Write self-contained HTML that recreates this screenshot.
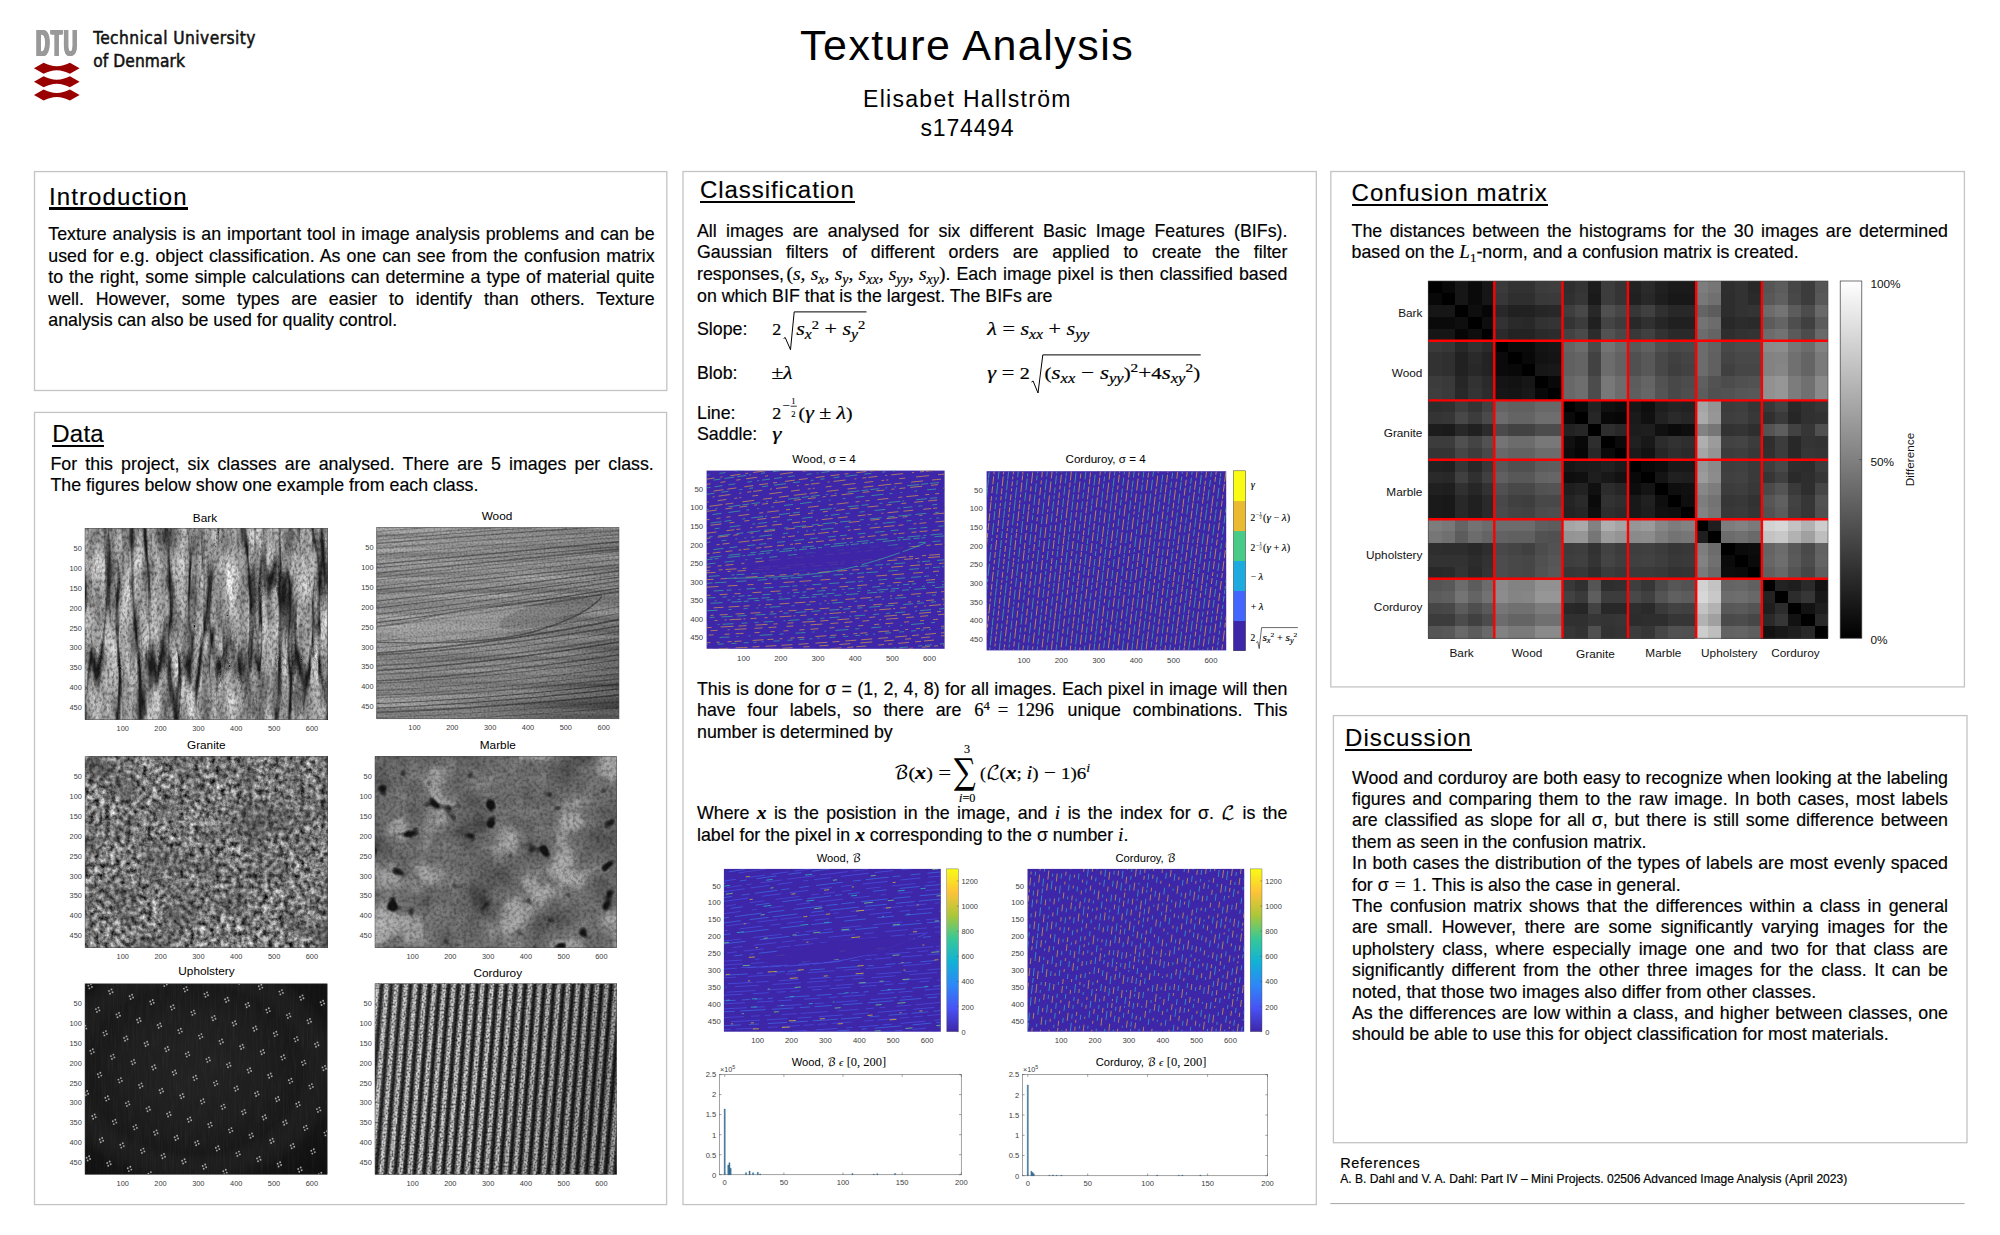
<!DOCTYPE html>
<html lang="en"><head><meta charset="utf-8"><title>Texture Analysis</title>
<style>
html,body{margin:0;padding:0;background:#fff;}
body{width:2000px;height:1235px;position:relative;overflow:hidden;font-family:"Liberation Sans",sans-serif;color:#000;}
.box{position:absolute;border:1px solid #c4c4c4;background:#fff;box-sizing:content-box;}
.t{position:absolute;white-space:nowrap;-webkit-text-stroke:0.18px #000;}
.j{text-align:justify;text-align-last:justify;white-space:normal;}
.l{text-align:left;}
.h{position:absolute;font-size:24px;line-height:28px;white-space:nowrap;-webkit-text-stroke:0.15px #000;}
.hs{display:inline-block;}
.ul{position:absolute;height:2.4px;background:#000;}
.m{font-family:"Liberation Serif",serif;font-style:italic;}
.mr{font-family:"Liberation Serif",serif;font-style:normal;}
.mb{display:inline-block;font-family:"Liberation Serif",serif;font-style:italic;font-size:19.5px;line-height:1px;text-align:justify;text-align-last:justify;white-space:normal;letter-spacing:0px;-webkit-text-stroke:0.2px #000;}
.sb{font-size:72%;position:relative;top:0.3em;line-height:0;}
.sp{font-size:72%;position:relative;top:-0.5em;line-height:0;font-style:normal;}
.mf{font-family:"Liberation Serif",serif;}
.scr{font-family:"DejaVu Math TeX Gyre","DejaVu Sans",serif;}
svg{position:absolute;overflow:visible;}
svg text{font-family:"Liberation Sans",sans-serif;}
.c{position:absolute;white-space:nowrap;transform:translateX(-50%);}
</style></head>
<body>
<svg style="left:0;top:0" width="2000" height="1235" viewBox="0 0 2000 1235"><g fill="#fff" stroke="#c4c4c4" stroke-width="1.3"><rect x="34.5" y="171.6" width="632.3" height="218.9"/><rect x="34.5" y="412.4" width="632.1" height="792.2"/><rect x="683.0" y="171.5" width="633.3" height="1033.1"/><rect x="1330.8" y="171.5" width="633.6" height="515.4"/><rect x="1333.4" y="715.6" width="633.6" height="427.1"/></g><path d="M1330.3 1203.6H1964.6" stroke="#9a9a9a" stroke-width="0.9"/></svg><div style="position:absolute;left:36px;top:22.6px;font-family:'Liberation Sans',sans-serif;font-weight:bold;font-size:36.6px;line-height:42px;color:#999;transform-origin:0 0;transform:scaleX(0.515);white-space:nowrap;text-shadow:1px 0 0 #999,-1px 0 0 #999,1.8px 0 0 #999,-1.8px 0 0 #999;letter-spacing:2.5px">DTU</div><svg style="left:0;top:0" width="120" height="110"><path d="M34 68.3 L43.6 62.8 C48.5 65.1 52 66.3 56.8 66.3 S65 65.1 69.9 62.8 L79.6 68.3 L69.9 73.8 C65 71.5 61.5 70.3 56.8 70.3 S48.5 71.5 43.6 73.8 Z" fill="#990000"/><path d="M34 81.7 L43.6 76.2 C48.5 78.5 52 79.7 56.8 79.7 S65 78.5 69.9 76.2 L79.6 81.7 L69.9 87.2 C65 84.9 61.5 83.7 56.8 83.7 S48.5 84.9 43.6 87.2 Z" fill="#990000"/><path d="M34 95.0 L43.6 89.5 C48.5 91.8 52 93.0 56.8 93.0 S65 91.8 69.9 89.5 L79.6 95.0 L69.9 100.5 C65 98.2 61.5 97.0 56.8 97.0 S48.5 98.2 43.6 100.5 Z" fill="#990000"/></svg><div style="position:absolute;left:93.2px;top:27.3px;font-family:'DejaVu Sans Condensed','DejaVu Sans','Liberation Sans',sans-serif;font-size:17.2px;line-height:22.2px;color:#111;letter-spacing:0.45px;white-space:nowrap;-webkit-text-stroke:0.5px #111">Technical University<br><span style="letter-spacing:0.1px">of Denmark</span></div><div class="c" style="left:967.1px;top:19.00px;font-size:43px;line-height:52px;letter-spacing:1.46px;">Texture Analysis</div><div class="c" style="left:967.4px;top:85.00px;font-size:23px;line-height:28px;letter-spacing:1.3px;">Elisabet Hallström</div><div class="c" style="left:967.5px;top:114.00px;font-size:23px;line-height:28px;letter-spacing:0.8px;">s174494</div><div class="h" style="left:48.9px;top:183.00px;letter-spacing:1.11px">Introduction</div><div class="ul" style="left:48.9px;top:207.2px;width:138.7px"></div><div class="t j " style="left:48.3px;top:224.00px;width:606.3px;font-size:17.8px;line-height:21.4px">Texture analysis is an important tool in image analysis problems and can be</div><div class="t j " style="left:48.3px;top:246.00px;width:606.3px;font-size:17.8px;line-height:21.4px">used for e.g. object classification. As one can see from the confusion matrix</div><div class="t j " style="left:48.3px;top:267.00px;width:606.3px;font-size:17.8px;line-height:21.4px">to the right, some simple calculations can determine a type of material quite</div><div class="t j " style="left:48.3px;top:289.00px;width:606.3px;font-size:17.8px;line-height:21.4px">well. However, some types are easier to identify than others. Texture</div><div class="t l " style="left:48.3px;top:310.00px;width:606.3px;font-size:17.8px;line-height:21.4px">analysis can also be used for quality control.</div><div class="h" style="left:52.3px;top:420.00px;letter-spacing:0.23px">Data</div><div class="ul" style="left:52.3px;top:444.8px;width:51.6px"></div><div class="t j " style="left:50.5px;top:454.00px;width:603.3px;font-size:17.8px;line-height:21.4px">For this project, six classes are analysed. There are 5 images per class.</div><div class="t l " style="left:50.5px;top:475.00px;width:603.3px;font-size:17.8px;line-height:21.4px">The figures below show one example from each class.</div><svg style="left:0;top:0" width="700" height="1235" viewBox="0 0 700 1235"><defs>
<filter id="fbark" x="0" y="0" width="100%" height="100%" color-interpolation-filters="sRGB">
  <feTurbulence type="fractalNoise" baseFrequency="0.075 0.018" numOctaves="5" seed="7" result="n"/>
  <feColorMatrix in="n" type="matrix" values="0.9 0 0 0 0.2  0.9 0 0 0 0.2  0.9 0 0 0 0.2  0 0 0 0 1"/>
</filter>
<filter id="fbark2" x="0" y="0" width="100%" height="100%" color-interpolation-filters="sRGB">
  <feTurbulence type="turbulence" baseFrequency="0.05 0.006" numOctaves="3" seed="23" result="n"/>
  <feColorMatrix in="n" type="matrix" values="0 0 0 0 0.12  0 0 0 0 0.12  0 0 0 0 0.12  -5 0 0 0 1.3"/>
</filter>
<filter id="fbark3" x="0" y="0" width="100%" height="100%" color-interpolation-filters="sRGB">
  <feTurbulence type="fractalNoise" baseFrequency="0.4 0.25" numOctaves="2" seed="11" result="n"/>
  <feColorMatrix in="n" type="matrix" values="0 0 0 0 0  0 0 0 0 0  0 0 0 0 0  1.0 0 0 0 -0.4"/>
</filter>
<filter id="fwood" x="0" y="0" width="100%" height="100%" color-interpolation-filters="sRGB">
  <feTurbulence type="fractalNoise" baseFrequency="0.004 0.16" numOctaves="3" seed="5" result="n"/>
  <feColorMatrix in="n" type="matrix" values="0.7 0 0 0 0.2  0.7 0 0 0 0.2  0.7 0 0 0 0.2  0 0 0 0 1"/>
</filter>
<filter id="fwood2" x="0" y="0" width="100%" height="100%" color-interpolation-filters="sRGB">
  <feTurbulence type="fractalNoise" baseFrequency="0.5" numOctaves="1" seed="15" result="n"/>
  <feColorMatrix in="n" type="matrix" values="0 0 0 0 0  0 0 0 0 0  0 0 0 0 0  0.6 0 0 0 -0.22"/>
</filter>
<filter id="fgran" x="0" y="0" width="100%" height="100%" color-interpolation-filters="sRGB">
  <feTurbulence type="fractalNoise" baseFrequency="0.19" numOctaves="4" seed="3" result="n"/>
  <feColorMatrix in="n" type="matrix" values="1.3 0 0 0 -0.17  1.3 0 0 0 -0.17  1.3 0 0 0 -0.17  0 0 0 0 1"/>
</filter>
<filter id="fgran2" x="0" y="0" width="100%" height="100%" color-interpolation-filters="sRGB">
  <feTurbulence type="fractalNoise" baseFrequency="0.025" numOctaves="2" seed="9" result="n"/>
  <feColorMatrix in="n" type="matrix" values="0 0 0 0 0.25  0 0 0 0 0.25  0 0 0 0 0.25  1.4 0 0 0 -0.55"/>
</filter>
<filter id="fmarb" x="0" y="0" width="100%" height="100%" color-interpolation-filters="sRGB">
  <feTurbulence type="fractalNoise" baseFrequency="0.022" numOctaves="4" seed="14" result="n"/>
  <feColorMatrix in="n" type="matrix" values="1 0 0 0 0  1 0 0 0 0  1 0 0 0 0  0 0 0 0 1" result="g"/>
  <feComponentTransfer in="g">
    <feFuncR type="table" tableValues="0.12 0.18 0.27 0.33 0.38 0.42 0.45 0.5 0.62 0.67 0.69 0.71 0.73"/>
    <feFuncG type="table" tableValues="0.12 0.18 0.27 0.33 0.38 0.42 0.45 0.5 0.62 0.67 0.69 0.71 0.73"/>
    <feFuncB type="table" tableValues="0.12 0.18 0.27 0.33 0.38 0.42 0.45 0.5 0.62 0.67 0.69 0.71 0.73"/>
  </feComponentTransfer>
</filter>
<filter id="fmarb2" x="0" y="0" width="100%" height="100%" color-interpolation-filters="sRGB">
  <feTurbulence type="fractalNoise" baseFrequency="0.05" numOctaves="2" seed="31" result="n"/>
  <feColorMatrix in="n" type="matrix" values="0 0 0 0 0.08  0 0 0 0 0.08  0 0 0 0 0.08  9 0 0 0 -6.0"/>
</filter>
<filter id="fmarb3" x="0" y="0" width="100%" height="100%" color-interpolation-filters="sRGB">
  <feTurbulence type="fractalNoise" baseFrequency="0.3" numOctaves="2" seed="8" result="n"/>
  <feColorMatrix in="n" type="matrix" values="0 0 0 0 0  0 0 0 0 0  0 0 0 0 0  0.7 0 0 0 -0.27"/>
</filter>
<filter id="fcord" x="0" y="0" width="100%" height="100%" color-interpolation-filters="sRGB">
  <feTurbulence type="fractalNoise" baseFrequency="0.5" numOctaves="2" seed="2" result="n"/>
  <feColorMatrix in="n" type="matrix" values="0 0 0 0 0  0 0 0 0 0  0 0 0 0 0  1.5 0 0 0 -0.55"/>
</filter>
<filter id="fuph" x="0" y="0" width="100%" height="100%" color-interpolation-filters="sRGB">
  <feTurbulence type="fractalNoise" baseFrequency="0.6 0.04" numOctaves="2" seed="4" result="n"/>
  <feColorMatrix in="n" type="matrix" values="0 0 0 0 1  0 0 0 0 1  0 0 0 0 1  0.5 0 0 0 -0.2"/>
</filter>
<linearGradient id="gwood" x1="0" y1="0" x2="1" y2="0.9">
  <stop offset="0" stop-color="#fff" stop-opacity="0.10"/>
  <stop offset="0.45" stop-color="#fff" stop-opacity="0.05"/>
  <stop offset="0.75" stop-color="#000" stop-opacity="0.08"/>
  <stop offset="1" stop-color="#000" stop-opacity="0.38"/>
</linearGradient>
<radialGradient id="guph" cx="0.45" cy="0.45" r="0.8">
  <stop offset="0" stop-color="#fff" stop-opacity="0.05"/>
  <stop offset="0.35" stop-color="#fff" stop-opacity="0.035"/>
  <stop offset="0.55" stop-color="#fff" stop-opacity="0.01"/>
  <stop offset="0.75" stop-color="#000" stop-opacity="0.12"/>
  <stop offset="1" stop-color="#000" stop-opacity="0.4"/>
</radialGradient>
<linearGradient id="gcord" x1="0" y1="0" x2="1" y2="0.2">
  <stop offset="0" stop-color="#fff" stop-opacity="0.06"/>
  <stop offset="0.5" stop-color="#000" stop-opacity="0.0"/>
  <stop offset="1" stop-color="#000" stop-opacity="0.22"/>
</linearGradient>
<pattern id="pcord" width="9.53" height="40" patternUnits="userSpaceOnUse" patternTransform="rotate(4.6 375 1079) translate(2.85 0)">
  <rect width="9.53" height="40" fill="#222"/>
  <rect x="2.3" width="4.6" height="40" fill="#d2d2d2"/>
  <rect x="1.3" width="1.0" height="40" fill="#707070"/>
  <rect x="6.9" width="1.0" height="40" fill="#707070"/>
</pattern>
<filter id="fblur" x="-5%" y="-5%" width="110%" height="110%"><feGaussianBlur stdDeviation="0.5"/></filter>
<clipPath id="cup"><rect x="85" y="983.8" width="242.2" height="190.6"/></clipPath>
<clipPath id="cwood"><rect x="376.8" y="527.4" width="242.2" height="191.4"/></clipPath>
</defs><rect x="85.0" y="528.7" width="242.3" height="190.8" fill="#777" filter="url(#fbark)"/><rect x="85.0" y="528.7" width="242.3" height="190.8" fill="#777" filter="url(#fbark2)"/><rect x="85.0" y="528.7" width="242.3" height="190.8" fill="#777" filter="url(#fbark3)"/><g font-size="7.4" fill="#3c3c3c"><g text-anchor="end"><text x="81.8" y="551.0">50</text><text x="81.8" y="570.9">100</text><text x="81.8" y="590.8">150</text><text x="81.8" y="610.7">200</text><text x="81.8" y="630.5">250</text><text x="81.8" y="650.4">300</text><text x="81.8" y="670.3">350</text><text x="81.8" y="690.2">400</text><text x="81.8" y="710.0">450</text></g><g text-anchor="middle"><text x="122.7" y="730.8">100</text><text x="160.5" y="730.8">200</text><text x="198.4" y="730.8">300</text><text x="236.2" y="730.8">400</text><text x="274.1" y="730.8">500</text><text x="312.0" y="730.8">600</text></g></g><path d="M85.0 548.4h2M327.3 548.4h-2M85.0 568.3h2M327.3 568.3h-2M85.0 588.1h2M327.3 588.1h-2M85.0 608.0h2M327.3 608.0h-2M85.0 627.9h2M327.3 627.9h-2M85.0 647.8h2M327.3 647.8h-2M85.0 667.6h2M327.3 667.6h-2M85.0 687.5h2M327.3 687.5h-2M85.0 707.4h2M327.3 707.4h-2M122.7 719.5v-2M122.7 528.7v2M160.5 719.5v-2M160.5 528.7v2M198.4 719.5v-2M198.4 528.7v2M236.2 719.5v-2M236.2 528.7v2M274.1 719.5v-2M274.1 528.7v2M312.0 719.5v-2M312.0 528.7v2" stroke="#333" stroke-width="0.5" opacity="0.6" fill="none"/><rect x="85.0" y="528.7" width="242.3" height="190.8" fill="none" stroke="#4a4a4a" stroke-width="0.5"/><text x="205.0" y="522.0" font-size="11.8" text-anchor="middle" fill="#000">Bark</text><rect x="376.8" y="527.4" width="242.2" height="191.4" fill="#979797"/><rect x="376.8" y="527.4" width="242.2" height="191.4" fill="#888" filter="url(#fwood)" opacity="0.55"/><g clip-path="url(#cwood)" fill="none" stroke="#2e2e2e" filter="url(#fblur)"><path d="M376.8 531.6Q497.9 521.1 619.0 514.5" stroke-width="1.0" opacity="0.43"/><path d="M376.8 536.5Q497.9 526.5 619.0 520.1" stroke-width="1.6" opacity="0.38"/><path d="M376.8 540.1Q497.9 529.4 619.0 521.8" stroke-width="0.9" opacity="0.53"/><path d="M376.8 543.5Q497.9 533.4 619.0 525.9" stroke-width="1.3" opacity="0.54"/><path d="M376.8 548.6Q497.9 538.6 619.0 530.8" stroke-width="1.5" opacity="0.35"/><path d="M376.8 554.9Q497.9 544.0 619.0 534.7" stroke-width="1.0" opacity="0.40"/><path d="M376.8 559.9Q497.9 548.0 619.0 537.3" stroke-width="0.8" opacity="0.38"/><path d="M376.8 564.2Q497.9 552.6 619.0 541.7" stroke-width="1.5" opacity="0.61"/><path d="M376.8 567.8Q497.9 557.1 619.0 546.5" stroke-width="1.1" opacity="0.54"/><path d="M376.8 573.2Q497.9 561.3 619.0 549.1" stroke-width="1.6" opacity="0.55"/><path d="M376.8 577.4Q497.9 564.6 619.0 551.0" stroke-width="0.9" opacity="0.45"/><path d="M376.8 580.1Q497.9 568.3 619.0 555.2" stroke-width="0.8" opacity="0.45"/><path d="M376.8 586.3Q497.9 573.6 619.0 559.3" stroke-width="1.1" opacity="0.42"/><path d="M376.8 589.8Q497.9 578.3 619.0 564.6" stroke-width="1.3" opacity="0.56"/><path d="M376.8 594.0Q497.9 582.2 619.0 567.6" stroke-width="0.9" opacity="0.48"/><path d="M376.8 601.1Q497.9 587.6 619.0 571.0" stroke-width="1.3" opacity="0.59"/><path d="M376.8 605.2Q497.9 591.9 619.0 575.1" stroke-width="0.9" opacity="0.36"/><path d="M376.8 608.1Q497.9 594.7 619.0 577.2" stroke-width="0.9" opacity="0.68"/><path d="M376.8 614.4Q497.9 600.0 619.0 581.0" stroke-width="1.4" opacity="0.49"/><path d="M376.8 619.1Q497.9 604.6 619.0 585.1" stroke-width="1.0" opacity="0.44"/><path d="M376.8 622.6Q497.9 608.1 619.0 588.1" stroke-width="1.3" opacity="0.66"/><path d="M376.8 626.6Q497.9 612.1 619.0 591.6" stroke-width="1.7" opacity="0.53"/><path d="M376.8 641.0Q485.8 633.7 619.0 606.4" stroke-width="0.8" opacity="0.57"/><path d="M376.8 647.8Q485.8 640.3 619.0 613.4" stroke-width="0.8" opacity="0.48"/><path d="M376.8 653.2Q485.8 645.7 619.0 619.6" stroke-width="1.7" opacity="0.65"/><path d="M376.8 655.0Q485.8 649.4 619.0 626.0" stroke-width="1.4" opacity="0.54"/><path d="M376.8 660.5Q485.8 654.6 619.0 631.6" stroke-width="0.8" opacity="0.50"/><path d="M376.8 665.7Q485.8 660.3 619.0 638.4" stroke-width="1.6" opacity="0.44"/><path d="M376.8 670.6Q485.8 664.2 619.0 642.0" stroke-width="1.6" opacity="0.65"/><path d="M376.8 674.7Q485.8 669.5 619.0 649.2" stroke-width="1.3" opacity="0.40"/><path d="M376.8 680.9Q485.8 675.0 619.0 654.7" stroke-width="1.5" opacity="0.54"/><path d="M376.8 683.3Q485.8 678.4 619.0 660.0" stroke-width="0.7" opacity="0.68"/><path d="M376.8 690.7Q485.8 685.5 619.0 667.3" stroke-width="1.0" opacity="0.37"/><path d="M376.8 695.4Q485.8 690.6 619.0 673.5" stroke-width="0.8" opacity="0.52"/><path d="M376.8 697.7Q485.8 694.0 619.0 678.8" stroke-width="1.5" opacity="0.39"/><path d="M376.8 703.6Q485.8 699.3 619.0 684.0" stroke-width="1.0" opacity="0.66"/><path d="M376.8 708.2Q485.8 703.6 619.0 688.9" stroke-width="1.2" opacity="0.61"/><path d="M376.8 712.3Q485.8 708.4 619.0 695.0" stroke-width="1.7" opacity="0.58"/><path d="M376.8 717.7Q485.8 714.0 619.0 701.5" stroke-width="0.8" opacity="0.43"/><path d="M376.8 722.1Q485.8 718.9 619.0 707.6" stroke-width="0.9" opacity="0.43"/><ellipse cx="478.5" cy="623.1" rx="87.2" ry="14.4" transform="rotate(-6 478.5 623.1)" fill="#a6a6a6" stroke="none" opacity="0.55"/><ellipse cx="546.3" cy="613.5" rx="48.4" ry="11.5" transform="rotate(-14 546.3 613.5)" fill="#555" stroke="none" opacity="0.3"/><path d="M376.8 642.2Q485.8 646.1 536.7 630.8T602.0 596.3" stroke-width="1.6" opacity="0.6"/><path d="M413.1 621.2Q473.7 604.0 602.0 595.3" stroke-width="1.1" opacity="0.45"/></g><rect x="376.8" y="527.4" width="242.2" height="191.4" fill="#000" filter="url(#fwood2)"/><rect x="376.8" y="527.4" width="242.2" height="191.4" fill="url(#gwood)"/><g font-size="7.4" fill="#3c3c3c"><g text-anchor="end"><text x="373.6" y="549.8">50</text><text x="373.6" y="569.7">100</text><text x="373.6" y="589.7">150</text><text x="373.6" y="609.6">200</text><text x="373.6" y="629.6">250</text><text x="373.6" y="649.5">300</text><text x="373.6" y="669.4">350</text><text x="373.6" y="689.4">400</text><text x="373.6" y="709.3">450</text></g><g text-anchor="middle"><text x="414.5" y="730.1">100</text><text x="452.3" y="730.1">200</text><text x="490.1" y="730.1">300</text><text x="528.0" y="730.1">400</text><text x="565.8" y="730.1">500</text><text x="603.7" y="730.1">600</text></g></g><path d="M376.8 547.1h2M619.0 547.1h-2M376.8 567.1h2M619.0 567.1h-2M376.8 587.0h2M619.0 587.0h-2M376.8 607.0h2M619.0 607.0h-2M376.8 626.9h2M619.0 626.9h-2M376.8 646.8h2M619.0 646.8h-2M376.8 666.8h2M619.0 666.8h-2M376.8 686.7h2M619.0 686.7h-2M376.8 706.6h2M619.0 706.6h-2M414.5 718.8v-2M414.5 527.4v2M452.3 718.8v-2M452.3 527.4v2M490.1 718.8v-2M490.1 527.4v2M528.0 718.8v-2M528.0 527.4v2M565.8 718.8v-2M565.8 527.4v2M603.7 718.8v-2M603.7 527.4v2" stroke="#333" stroke-width="0.5" opacity="0.6" fill="none"/><rect x="376.8" y="527.4" width="242.2" height="191.4" fill="none" stroke="#4a4a4a" stroke-width="0.5"/><text x="497.0" y="519.8" font-size="11.8" text-anchor="middle" fill="#000">Wood</text><rect x="85.1" y="756.8" width="242.1" height="190.8" fill="#777" filter="url(#fgran)"/><rect x="85.1" y="756.8" width="242.1" height="190.8" fill="#777" filter="url(#fgran2)"/><g font-size="7.4" fill="#3c3c3c"><g text-anchor="end"><text x="81.9" y="779.1">50</text><text x="81.9" y="799.0">100</text><text x="81.9" y="818.9">150</text><text x="81.9" y="838.8">200</text><text x="81.9" y="858.6">250</text><text x="81.9" y="878.5">300</text><text x="81.9" y="898.4">350</text><text x="81.9" y="918.3">400</text><text x="81.9" y="938.1">450</text></g><g text-anchor="middle"><text x="122.7" y="958.9">100</text><text x="160.6" y="958.9">200</text><text x="198.4" y="958.9">300</text><text x="236.2" y="958.9">400</text><text x="274.1" y="958.9">500</text><text x="311.9" y="958.9">600</text></g></g><path d="M85.1 776.5h2M327.2 776.5h-2M85.1 796.4h2M327.2 796.4h-2M85.1 816.2h2M327.2 816.2h-2M85.1 836.1h2M327.2 836.1h-2M85.1 856.0h2M327.2 856.0h-2M85.1 875.9h2M327.2 875.9h-2M85.1 895.7h2M327.2 895.7h-2M85.1 915.6h2M327.2 915.6h-2M85.1 935.5h2M327.2 935.5h-2M122.7 947.6v-2M122.7 756.8v2M160.6 947.6v-2M160.6 756.8v2M198.4 947.6v-2M198.4 756.8v2M236.2 947.6v-2M236.2 756.8v2M274.1 947.6v-2M274.1 756.8v2M311.9 947.6v-2M311.9 756.8v2" stroke="#333" stroke-width="0.5" opacity="0.6" fill="none"/><rect x="85.1" y="756.8" width="242.1" height="190.8" fill="none" stroke="#4a4a4a" stroke-width="0.5"/><text x="206.3" y="749.0" font-size="11.8" text-anchor="middle" fill="#000">Granite</text><rect x="375.0" y="756.8" width="241.7" height="190.8" fill="#777" filter="url(#fmarb)"/><rect x="375.0" y="756.8" width="241.7" height="190.8" fill="#777" filter="url(#fmarb2)"/><rect x="375.0" y="756.8" width="241.7" height="190.8" fill="#777" filter="url(#fmarb3)"/><g font-size="7.4" fill="#3c3c3c"><g text-anchor="end"><text x="371.8" y="779.1">50</text><text x="371.8" y="799.0">100</text><text x="371.8" y="818.9">150</text><text x="371.8" y="838.8">200</text><text x="371.8" y="858.6">250</text><text x="371.8" y="878.5">300</text><text x="371.8" y="898.4">350</text><text x="371.8" y="918.3">400</text><text x="371.8" y="938.1">450</text></g><g text-anchor="middle"><text x="412.6" y="958.9">100</text><text x="450.3" y="958.9">200</text><text x="488.1" y="958.9">300</text><text x="525.9" y="958.9">400</text><text x="563.6" y="958.9">500</text><text x="601.4" y="958.9">600</text></g></g><path d="M375.0 776.5h2M616.7 776.5h-2M375.0 796.4h2M616.7 796.4h-2M375.0 816.2h2M616.7 816.2h-2M375.0 836.1h2M616.7 836.1h-2M375.0 856.0h2M616.7 856.0h-2M375.0 875.9h2M616.7 875.9h-2M375.0 895.7h2M616.7 895.7h-2M375.0 915.6h2M616.7 915.6h-2M375.0 935.5h2M616.7 935.5h-2M412.6 947.6v-2M412.6 756.8v2M450.3 947.6v-2M450.3 756.8v2M488.1 947.6v-2M488.1 756.8v2M525.9 947.6v-2M525.9 756.8v2M563.6 947.6v-2M563.6 756.8v2M601.4 947.6v-2M601.4 756.8v2" stroke="#333" stroke-width="0.5" opacity="0.6" fill="none"/><rect x="375.0" y="756.8" width="241.7" height="190.8" fill="none" stroke="#4a4a4a" stroke-width="0.5"/><text x="497.8" y="749.0" font-size="11.8" text-anchor="middle" fill="#000">Marble</text><rect x="85.0" y="983.8" width="242.2" height="190.6" fill="#161616"/><rect x="85.0" y="983.8" width="242.2" height="190.6" fill="#fff" filter="url(#fuph)" opacity="0.16"/><rect x="85.0" y="983.8" width="242.2" height="190.6" fill="url(#guph)"/><path d="M81.6 1132.7h.01M80.1 1137.0h.01M79.1 1134.2h.01M82.6 1135.5h.01M89.1 1156.2h.01M87.6 1160.5h.01M86.6 1157.7h.01M90.1 1159.0h.01M87.2 1091.0h.01M85.7 1095.3h.01M84.7 1092.5h.01M88.2 1093.8h.01M94.7 1114.5h.01M93.2 1118.8h.01M92.2 1116.0h.01M95.7 1117.3h.01M102.2 1138.0h.01M100.7 1142.3h.01M99.7 1139.5h.01M103.2 1140.8h.01M109.7 1161.5h.01M108.2 1165.8h.01M107.2 1163.0h.01M110.7 1164.3h.01M85.3 1025.8h.01M83.8 1030.1h.01M82.8 1027.3h.01M86.3 1028.6h.01M92.8 1049.3h.01M91.3 1053.6h.01M90.3 1050.8h.01M93.8 1052.1h.01M100.3 1072.8h.01M98.8 1077.1h.01M97.8 1074.3h.01M101.3 1075.6h.01M107.8 1096.3h.01M106.3 1100.6h.01M105.3 1097.8h.01M108.8 1099.1h.01M115.3 1119.8h.01M113.8 1124.1h.01M112.8 1121.3h.01M116.3 1122.6h.01M122.8 1143.3h.01M121.3 1147.6h.01M120.3 1144.8h.01M123.8 1146.1h.01M130.3 1166.8h.01M128.8 1171.1h.01M127.8 1168.3h.01M131.3 1169.6h.01M90.9 984.1h.01M89.4 988.4h.01M88.4 985.6h.01M91.9 986.9h.01M98.4 1007.6h.01M96.9 1011.9h.01M95.9 1009.1h.01M99.4 1010.4h.01M105.9 1031.1h.01M104.4 1035.4h.01M103.4 1032.6h.01M106.9 1033.9h.01M113.4 1054.6h.01M111.9 1058.9h.01M110.9 1056.1h.01M114.4 1057.4h.01M120.9 1078.1h.01M119.4 1082.4h.01M118.4 1079.6h.01M121.9 1080.9h.01M128.4 1101.6h.01M126.9 1105.9h.01M125.9 1103.1h.01M129.4 1104.4h.01M135.9 1125.1h.01M134.4 1129.4h.01M133.4 1126.6h.01M136.9 1127.9h.01M143.4 1148.6h.01M141.9 1152.9h.01M140.9 1150.1h.01M144.4 1151.4h.01M150.9 1172.1h.01M149.4 1176.4h.01M148.4 1173.6h.01M151.9 1174.9h.01M111.5 989.4h.01M110.0 993.7h.01M109.0 990.9h.01M112.5 992.2h.01M119.0 1012.9h.01M117.5 1017.2h.01M116.5 1014.4h.01M120.0 1015.7h.01M126.5 1036.4h.01M125.0 1040.7h.01M124.0 1037.9h.01M127.5 1039.2h.01M134.0 1059.9h.01M132.5 1064.2h.01M131.5 1061.4h.01M135.0 1062.7h.01M141.5 1083.4h.01M140.0 1087.7h.01M139.0 1084.9h.01M142.5 1086.2h.01M149.0 1106.9h.01M147.5 1111.2h.01M146.5 1108.4h.01M150.0 1109.7h.01M156.5 1130.4h.01M155.0 1134.7h.01M154.0 1131.9h.01M157.5 1133.2h.01M164.0 1153.9h.01M162.5 1158.2h.01M161.5 1155.4h.01M165.0 1156.7h.01M132.1 994.7h.01M130.6 999.0h.01M129.6 996.2h.01M133.1 997.5h.01M139.6 1018.2h.01M138.1 1022.5h.01M137.1 1019.7h.01M140.6 1021.0h.01M147.1 1041.7h.01M145.6 1046.0h.01M144.6 1043.2h.01M148.1 1044.5h.01M154.6 1065.2h.01M153.1 1069.5h.01M152.1 1066.7h.01M155.6 1068.0h.01M162.1 1088.7h.01M160.6 1093.0h.01M159.6 1090.2h.01M163.1 1091.5h.01M169.6 1112.2h.01M168.1 1116.5h.01M167.1 1113.7h.01M170.6 1115.0h.01M177.1 1135.7h.01M175.6 1140.0h.01M174.6 1137.2h.01M178.1 1138.5h.01M184.6 1159.2h.01M183.1 1163.5h.01M182.1 1160.7h.01M185.6 1162.0h.01M152.7 1000.0h.01M151.2 1004.3h.01M150.2 1001.5h.01M153.7 1002.8h.01M160.2 1023.5h.01M158.7 1027.8h.01M157.7 1025.0h.01M161.2 1026.3h.01M167.7 1047.0h.01M166.2 1051.3h.01M165.2 1048.5h.01M168.7 1049.8h.01M175.2 1070.5h.01M173.7 1074.8h.01M172.7 1072.0h.01M176.2 1073.3h.01M182.7 1094.0h.01M181.2 1098.3h.01M180.2 1095.5h.01M183.7 1096.8h.01M190.2 1117.5h.01M188.7 1121.8h.01M187.7 1119.0h.01M191.2 1120.3h.01M197.7 1141.0h.01M196.2 1145.3h.01M195.2 1142.5h.01M198.7 1143.8h.01M205.2 1164.5h.01M203.7 1168.8h.01M202.7 1166.0h.01M206.2 1167.3h.01M165.8 981.8h.01M164.3 986.1h.01M163.3 983.3h.01M166.8 984.6h.01M173.3 1005.3h.01M171.8 1009.6h.01M170.8 1006.8h.01M174.3 1008.1h.01M180.8 1028.8h.01M179.3 1033.1h.01M178.3 1030.3h.01M181.8 1031.6h.01M188.3 1052.3h.01M186.8 1056.6h.01M185.8 1053.8h.01M189.3 1055.1h.01M195.8 1075.8h.01M194.3 1080.1h.01M193.3 1077.3h.01M196.8 1078.6h.01M203.3 1099.3h.01M201.8 1103.6h.01M200.8 1100.8h.01M204.3 1102.1h.01M210.8 1122.8h.01M209.3 1127.1h.01M208.3 1124.3h.01M211.8 1125.6h.01M218.3 1146.3h.01M216.8 1150.6h.01M215.8 1147.8h.01M219.3 1149.1h.01M225.8 1169.8h.01M224.3 1174.1h.01M223.3 1171.3h.01M226.8 1172.6h.01M186.4 987.1h.01M184.9 991.4h.01M183.9 988.6h.01M187.4 989.9h.01M193.9 1010.6h.01M192.4 1014.9h.01M191.4 1012.1h.01M194.9 1013.4h.01M201.4 1034.1h.01M199.9 1038.4h.01M198.9 1035.6h.01M202.4 1036.9h.01M208.9 1057.6h.01M207.4 1061.9h.01M206.4 1059.1h.01M209.9 1060.4h.01M216.4 1081.1h.01M214.9 1085.4h.01M213.9 1082.6h.01M217.4 1083.9h.01M223.9 1104.6h.01M222.4 1108.9h.01M221.4 1106.1h.01M224.9 1107.4h.01M231.4 1128.1h.01M229.9 1132.4h.01M228.9 1129.6h.01M232.4 1130.9h.01M238.9 1151.6h.01M237.4 1155.9h.01M236.4 1153.1h.01M239.9 1154.4h.01M246.4 1175.1h.01M244.9 1179.4h.01M243.9 1176.6h.01M247.4 1177.9h.01M207.0 992.4h.01M205.5 996.7h.01M204.5 993.9h.01M208.0 995.2h.01M214.5 1015.9h.01M213.0 1020.2h.01M212.0 1017.4h.01M215.5 1018.7h.01M222.0 1039.4h.01M220.5 1043.7h.01M219.5 1040.9h.01M223.0 1042.2h.01M229.5 1062.9h.01M228.0 1067.2h.01M227.0 1064.4h.01M230.5 1065.7h.01M237.0 1086.4h.01M235.5 1090.7h.01M234.5 1087.9h.01M238.0 1089.2h.01M244.5 1109.9h.01M243.0 1114.2h.01M242.0 1111.4h.01M245.5 1112.7h.01M252.0 1133.4h.01M250.5 1137.7h.01M249.5 1134.9h.01M253.0 1136.2h.01M259.5 1156.9h.01M258.0 1161.2h.01M257.0 1158.4h.01M260.5 1159.7h.01M227.6 997.7h.01M226.1 1002.0h.01M225.1 999.2h.01M228.6 1000.5h.01M235.1 1021.2h.01M233.6 1025.5h.01M232.6 1022.7h.01M236.1 1024.0h.01M242.6 1044.7h.01M241.1 1049.0h.01M240.1 1046.2h.01M243.6 1047.5h.01M250.1 1068.2h.01M248.6 1072.5h.01M247.6 1069.7h.01M251.1 1071.0h.01M257.6 1091.7h.01M256.1 1096.0h.01M255.1 1093.2h.01M258.6 1094.5h.01M265.1 1115.2h.01M263.6 1119.5h.01M262.6 1116.7h.01M266.1 1118.0h.01M272.6 1138.7h.01M271.1 1143.0h.01M270.1 1140.2h.01M273.6 1141.5h.01M280.1 1162.2h.01M278.6 1166.5h.01M277.6 1163.7h.01M281.1 1165.0h.01M240.7 979.5h.01M239.2 983.8h.01M238.2 981.0h.01M241.7 982.3h.01M248.2 1003.0h.01M246.7 1007.3h.01M245.7 1004.5h.01M249.2 1005.8h.01M255.7 1026.5h.01M254.2 1030.8h.01M253.2 1028.0h.01M256.7 1029.3h.01M263.2 1050.0h.01M261.7 1054.3h.01M260.7 1051.5h.01M264.2 1052.8h.01M270.7 1073.5h.01M269.2 1077.8h.01M268.2 1075.0h.01M271.7 1076.3h.01M278.2 1097.0h.01M276.7 1101.3h.01M275.7 1098.5h.01M279.2 1099.8h.01M285.7 1120.5h.01M284.2 1124.8h.01M283.2 1122.0h.01M286.7 1123.3h.01M293.2 1144.0h.01M291.7 1148.3h.01M290.7 1145.5h.01M294.2 1146.8h.01M300.7 1167.5h.01M299.2 1171.8h.01M298.2 1169.0h.01M301.7 1170.3h.01M261.3 984.8h.01M259.8 989.1h.01M258.8 986.3h.01M262.3 987.6h.01M268.8 1008.3h.01M267.3 1012.6h.01M266.3 1009.8h.01M269.8 1011.1h.01M276.3 1031.8h.01M274.8 1036.1h.01M273.8 1033.3h.01M277.3 1034.6h.01M283.8 1055.3h.01M282.3 1059.6h.01M281.3 1056.8h.01M284.8 1058.1h.01M291.3 1078.8h.01M289.8 1083.1h.01M288.8 1080.3h.01M292.3 1081.6h.01M298.8 1102.3h.01M297.3 1106.6h.01M296.3 1103.8h.01M299.8 1105.1h.01M306.3 1125.8h.01M304.8 1130.1h.01M303.8 1127.3h.01M307.3 1128.6h.01M313.8 1149.3h.01M312.3 1153.6h.01M311.3 1150.8h.01M314.8 1152.1h.01M321.3 1172.8h.01M319.8 1177.1h.01M318.8 1174.3h.01M322.3 1175.6h.01M281.9 990.1h.01M280.4 994.4h.01M279.4 991.6h.01M282.9 992.9h.01M289.4 1013.6h.01M287.9 1017.9h.01M286.9 1015.1h.01M290.4 1016.4h.01M296.9 1037.1h.01M295.4 1041.4h.01M294.4 1038.6h.01M297.9 1039.9h.01M304.4 1060.6h.01M302.9 1064.9h.01M301.9 1062.1h.01M305.4 1063.4h.01M311.9 1084.1h.01M310.4 1088.4h.01M309.4 1085.6h.01M312.9 1086.9h.01M319.4 1107.6h.01M317.9 1111.9h.01M316.9 1109.1h.01M320.4 1110.4h.01M326.9 1131.1h.01M325.4 1135.4h.01M324.4 1132.6h.01M327.9 1133.9h.01M302.5 995.4h.01M301.0 999.7h.01M300.0 996.9h.01M303.5 998.2h.01M310.0 1018.9h.01M308.5 1023.2h.01M307.5 1020.4h.01M311.0 1021.7h.01M317.5 1042.4h.01M316.0 1046.7h.01M315.0 1043.9h.01M318.5 1045.2h.01M325.0 1065.9h.01M323.5 1070.2h.01M322.5 1067.4h.01M326.0 1068.7h.01M332.5 1089.4h.01M331.0 1093.7h.01M330.0 1090.9h.01M333.5 1092.2h.01M315.6 977.2h.01M314.1 981.5h.01M313.1 978.7h.01M316.6 980.0h.01M323.1 1000.7h.01M321.6 1005.0h.01M320.6 1002.2h.01M324.1 1003.5h.01M330.6 1024.2h.01M329.1 1028.5h.01M328.1 1025.7h.01M331.6 1027.0h.01" stroke="#a4a4a4" stroke-width="1.9" stroke-linecap="round" fill="none" clip-path="url(#cup)"/><g font-size="7.4" fill="#3c3c3c"><g text-anchor="end"><text x="81.8" y="1006.1">50</text><text x="81.8" y="1026.0">100</text><text x="81.8" y="1045.8">150</text><text x="81.8" y="1065.7">200</text><text x="81.8" y="1085.5">250</text><text x="81.8" y="1105.4">300</text><text x="81.8" y="1125.2">350</text><text x="81.8" y="1145.1">400</text><text x="81.8" y="1165.0">450</text></g><g text-anchor="middle"><text x="122.7" y="1185.7">100</text><text x="160.5" y="1185.7">200</text><text x="198.3" y="1185.7">300</text><text x="236.2" y="1185.7">400</text><text x="274.0" y="1185.7">500</text><text x="311.9" y="1185.7">600</text></g></g><path d="M85.0 1003.5h2M327.2 1003.5h-2M85.0 1023.3h2M327.2 1023.3h-2M85.0 1043.2h2M327.2 1043.2h-2M85.0 1063.0h2M327.2 1063.0h-2M85.0 1082.9h2M327.2 1082.9h-2M85.0 1102.7h2M327.2 1102.7h-2M85.0 1122.6h2M327.2 1122.6h-2M85.0 1142.4h2M327.2 1142.4h-2M85.0 1162.3h2M327.2 1162.3h-2M122.7 1174.4v-2M122.7 983.8v2M160.5 1174.4v-2M160.5 983.8v2M198.3 1174.4v-2M198.3 983.8v2M236.2 1174.4v-2M236.2 983.8v2M274.0 1174.4v-2M274.0 983.8v2M311.9 1174.4v-2M311.9 983.8v2" stroke="#333" stroke-width="0.5" opacity="0.6" fill="none"/><rect x="85.0" y="983.8" width="242.2" height="190.6" fill="none" stroke="#4a4a4a" stroke-width="0.5"/><text x="206.5" y="974.8" font-size="11.8" text-anchor="middle" fill="#000">Upholstery</text><rect x="375.0" y="983.8" width="241.7" height="190.6" fill="url(#pcord)"/><rect x="375.0" y="983.8" width="241.7" height="190.6" fill="#000" filter="url(#fcord)"/><rect x="375.0" y="983.8" width="241.7" height="190.6" fill="url(#gcord)"/><g font-size="7.4" fill="#3c3c3c"><g text-anchor="end"><text x="371.8" y="1006.1">50</text><text x="371.8" y="1026.0">100</text><text x="371.8" y="1045.8">150</text><text x="371.8" y="1065.7">200</text><text x="371.8" y="1085.5">250</text><text x="371.8" y="1105.4">300</text><text x="371.8" y="1125.2">350</text><text x="371.8" y="1145.1">400</text><text x="371.8" y="1165.0">450</text></g><g text-anchor="middle"><text x="412.6" y="1185.7">100</text><text x="450.3" y="1185.7">200</text><text x="488.1" y="1185.7">300</text><text x="525.9" y="1185.7">400</text><text x="563.6" y="1185.7">500</text><text x="601.4" y="1185.7">600</text></g></g><path d="M375.0 1003.5h2M616.7 1003.5h-2M375.0 1023.3h2M616.7 1023.3h-2M375.0 1043.2h2M616.7 1043.2h-2M375.0 1063.0h2M616.7 1063.0h-2M375.0 1082.9h2M616.7 1082.9h-2M375.0 1102.7h2M616.7 1102.7h-2M375.0 1122.6h2M616.7 1122.6h-2M375.0 1142.4h2M616.7 1142.4h-2M375.0 1162.3h2M616.7 1162.3h-2M412.6 1174.4v-2M412.6 983.8v2M450.3 1174.4v-2M450.3 983.8v2M488.1 1174.4v-2M488.1 983.8v2M525.9 1174.4v-2M525.9 983.8v2M563.6 1174.4v-2M563.6 983.8v2M601.4 1174.4v-2M601.4 983.8v2" stroke="#333" stroke-width="0.5" opacity="0.6" fill="none"/><rect x="375.0" y="983.8" width="241.7" height="190.6" fill="none" stroke="#4a4a4a" stroke-width="0.5"/><text x="497.8" y="977.1" font-size="11.8" text-anchor="middle" fill="#000">Corduroy</text></svg><div class="h" style="left:699.9px;top:176.00px;letter-spacing:0.96px">Classification</div><div class="ul" style="left:699.9px;top:200.8px;width:154.8px"></div><div class="t j " style="left:697.0px;top:221.00px;width:590.4px;font-size:17.8px;line-height:21.4px">All images are analysed for six different Basic Image Features (BIFs).</div><div class="t j " style="left:697.0px;top:242.00px;width:590.4px;font-size:17.8px;line-height:21.4px">Gaussian filters of different orders are applied to create the filter</div><div class="t j " style="left:697.0px;top:264.00px;width:590.4px;font-size:17.8px;line-height:21.4px">responses,<span class="mb" style="width:159px;margin-left:2.5px"><span class="mr">(</span>s, s<span class="sb">x</span>, s<span class="sb">y</span>, s<span class="sb">xx</span>, s<span class="sb">yy</span>, s<span class="sb">xy</span><span class="mr">)</span></span>. Each image pixel is then classified based</div><div class="t l " style="left:697.0px;top:286.00px;width:590.4px;font-size:17.8px;line-height:21.4px">on which BIF that is the largest. The BIFs are</div><div class="t l " style="left:697.0px;top:319.00px;width:590.4px;font-size:17.8px;line-height:21.4px">Slope:</div><div class="t l " style="left:697.0px;top:363.00px;width:590.4px;font-size:17.8px;line-height:21.4px">Blob:</div><div class="t l " style="left:697.0px;top:403.00px;width:590.4px;font-size:17.8px;line-height:21.4px">Line:</div><div class="t l " style="left:697.0px;top:424.00px;width:590.4px;font-size:17.8px;line-height:21.4px">Saddle:</div><div class="t j " style="left:697.0px;top:679.00px;width:590.4px;font-size:17.8px;line-height:21.4px">This is done for σ = (1, 2, 4, 8) for all images. Each pixel in image will then</div><div class="t j " style="left:697.0px;top:700.00px;width:590.4px;font-size:17.8px;line-height:21.4px">have four labels, so there are <span class="mb" style="width:79.6px;font-style:normal;font-size:18.7px;margin:0 2px 0 1px">6<span class="sp" style="font-size:68%">4</span> = 1296</span> unique combinations. This</div><div class="t l " style="left:697.0px;top:722.00px;width:590.4px;font-size:17.8px;line-height:21.4px">number is determined by</div><div class="t j " style="left:697.0px;top:803.00px;width:590.4px;font-size:17.8px;line-height:21.4px">Where <span class="m" style="font-weight:bold;font-size:19.5px;line-height:1px">x</span> is the posistion in the image, and <span class="m" style="font-size:19.5px;line-height:1px">i</span> is the index for σ. <span style="font-family:'DejaVu Math TeX Gyre','DejaVu Sans',serif;font-size:18px;line-height:1px">ℒ</span> is the</div><div class="t l " style="left:697.0px;top:825.00px;width:590.4px;font-size:17.8px;line-height:21.4px">label for the pixel in <span class="m" style="font-weight:bold;font-size:19.5px;line-height:1px">x</span> corresponding to the σ number <span class="m" style="font-size:19.5px;line-height:1px">i</span>.</div><svg style="left:0;top:0" width="2000" height="1235" viewBox="0 0 2000 1235"><text x="772.2" y="335.1" font-size="19.5" text-anchor="start" class="mf" stroke="#000" stroke-width="0.21" textLength="9.0" lengthAdjust="spacingAndGlyphs"><tspan dy="-0.00" style="font-style:normal;font-size:17.6px">2</tspan></text><path d="M783.6 338.5 L785.2 337.5 L790.5 349.7 L794.2 311.9 L866.5 311.9" fill="none" stroke="#000" stroke-width="1.0" stroke-linejoin="miter"/><text x="796.2" y="335.1" font-size="19.5" text-anchor="start" class="mf" stroke="#000" stroke-width="0.21" textLength="69.2" lengthAdjust="spacingAndGlyphs"><tspan dy="-0.00" style="font-style:italic">s</tspan><tspan dy="4.29" style="font-style:italic;font-size:14.0px">x</tspan><tspan dy="-10.73" style="font-style:normal;font-size:12.9px">2</tspan><tspan dy="6.44" style="font-style:normal;font-size:19.5px"> + </tspan><tspan dy="-0.00" style="font-style:italic">s</tspan><tspan dy="4.29" style="font-style:italic;font-size:14.0px">y</tspan><tspan dy="-10.73" style="font-style:normal;font-size:12.9px">2</tspan></text><text x="771.6" y="378.8" font-size="19.5" text-anchor="start" class="mf" stroke="#000" stroke-width="0.21" textLength="21.0" lengthAdjust="spacingAndGlyphs"><tspan dy="-0.00" style="font-style:normal;font-size:19.5px">±</tspan><tspan dy="-0.00" style="font-style:italic">λ</tspan></text><text x="772.2" y="418.8" font-size="19.5" text-anchor="start" class="mf" stroke="#000" stroke-width="0.21" textLength="9.0" lengthAdjust="spacingAndGlyphs"><tspan dy="-0.00" style="font-style:normal;font-size:17.6px">2</tspan></text><text x="782.6" y="409.3" font-size="13" text-anchor="start" class="mf" stroke="#000" stroke-width="0.14" textLength="7.4" lengthAdjust="spacingAndGlyphs"><tspan dy="-0.00" style="font-style:normal;font-size:11.7px">−</tspan></text><text x="791.2" y="403.8" font-size="9.5" text-anchor="start" class="mf" stroke="#000" stroke-width="0.10"><tspan dy="-0.00" style="font-style:normal;font-size:8.6px">1</tspan></text><text x="791.2" y="417.2" font-size="9.5" text-anchor="start" class="mf" stroke="#000" stroke-width="0.10"><tspan dy="-0.00" style="font-style:normal;font-size:8.6px">2</tspan></text><path d="M790.6 406.2h6.2" stroke="#000" stroke-width="0.8"/><text x="798.6" y="418.8" font-size="19.5" text-anchor="start" class="mf" stroke="#000" stroke-width="0.21" textLength="54.0" lengthAdjust="spacingAndGlyphs"><tspan dy="-0.00" style="font-style:normal;font-size:17.6px">(</tspan><tspan dy="-0.00" style="font-style:italic">γ</tspan><tspan dy="-0.00" style="font-style:normal;font-size:19.5px"> ± </tspan><tspan dy="-0.00" style="font-style:italic">λ</tspan><tspan dy="-0.00" style="font-style:normal;font-size:17.6px">)</tspan></text><text x="772.2" y="440.1" font-size="19.5" text-anchor="start" class="mf" stroke="#000" stroke-width="0.21" textLength="9.2" lengthAdjust="spacingAndGlyphs"><tspan dy="-0.00" style="font-style:italic">γ</tspan></text><text x="987.3" y="334.6" font-size="19.5" text-anchor="start" class="mf" stroke="#000" stroke-width="0.21" textLength="102.0" lengthAdjust="spacingAndGlyphs"><tspan dy="-0.00" style="font-style:italic">λ</tspan><tspan dy="-0.00" style="font-style:normal;font-size:19.5px"> = </tspan><tspan dy="-0.00" style="font-style:italic">s</tspan><tspan dy="4.29" style="font-style:italic;font-size:14.0px">xx</tspan><tspan dy="-4.29" style="font-style:normal;font-size:19.5px"> + </tspan><tspan dy="-0.00" style="font-style:italic">s</tspan><tspan dy="4.29" style="font-style:italic;font-size:14.0px">yy</tspan></text><text x="987.3" y="378.6" font-size="19.5" text-anchor="start" class="mf" stroke="#000" stroke-width="0.21" textLength="42.5" lengthAdjust="spacingAndGlyphs"><tspan dy="-0.00" style="font-style:italic">γ</tspan><tspan dy="-0.00" style="font-style:normal;font-size:19.5px"> = </tspan><tspan dy="-0.00" style="font-style:normal;font-size:17.6px">2</tspan></text><path d="M1031.5 382.0 L1033.1 381.0 L1038.0 393.0 L1042.8 354.9 L1200.7 354.9" fill="none" stroke="#000" stroke-width="1.0" stroke-linejoin="miter"/><text x="1044.6" y="378.6" font-size="19.5" text-anchor="start" class="mf" stroke="#000" stroke-width="0.21" textLength="155.5" lengthAdjust="spacingAndGlyphs"><tspan dy="-0.00" style="font-style:normal;font-size:17.6px">(</tspan><tspan dy="-0.00" style="font-style:italic">s</tspan><tspan dy="4.29" style="font-style:italic;font-size:14.0px">xx</tspan><tspan dy="-4.29" style="font-style:normal;font-size:19.5px"> − </tspan><tspan dy="-0.00" style="font-style:italic">s</tspan><tspan dy="4.29" style="font-style:italic;font-size:14.0px">yy</tspan><tspan dy="-4.29" style="font-style:normal;font-size:17.6px">)</tspan><tspan dy="-6.44" style="font-style:normal;font-size:12.9px">2</tspan><tspan dy="6.44" style="font-style:normal;font-size:19.5px">+</tspan><tspan dy="-0.00" style="font-style:normal;font-size:17.6px">4</tspan><tspan dy="-0.00" style="font-style:italic">s</tspan><tspan dy="4.29" style="font-style:italic;font-size:14.0px">xy</tspan><tspan dy="-10.73" style="font-style:normal;font-size:12.9px">2</tspan><tspan dy="6.44" style="font-style:normal;font-size:17.6px">)</tspan></text><defs><linearGradient id="gpar" x1="0" y1="1" x2="0" y2="0"><stop offset="0.000" stop-color="#3E26A8"/><stop offset="0.143" stop-color="#4852F4"/><stop offset="0.286" stop-color="#2E87F7"/><stop offset="0.429" stop-color="#12B1D6"/><stop offset="0.571" stop-color="#37C897"/><stop offset="0.714" stop-color="#ABC739"/><stop offset="0.857" stop-color="#FEC338"/><stop offset="1.000" stop-color="#F9FB15"/></linearGradient><clipPath id="cwb"><rect x="706.6" y="470.6" width="238.0" height="178.2"/></clipPath><clipPath id="ccb"><rect x="986.6" y="471.2" width="239.6" height="179.2"/></clipPath><clipPath id="cwb2"><rect x="723.9" y="868.9" width="216.9" height="162.8"/></clipPath><clipPath id="ccb2"><rect x="1027.5" y="868.9" width="216.7" height="162.8"/></clipPath></defs><rect x="706.6" y="470.6" width="238.0" height="178.2" fill="#3E26A8"/><g clip-path="url(#cwb)" fill="none" stroke-width="0.8" opacity="0.85"><path d="M706.6 464.5Q825.6 446.0 944.6 433.5" stroke="#D9A54A" stroke-dasharray="12 7 7 8 4 7 9 10 3 5" stroke-dashoffset="4"/><path d="M706.6 468.8Q825.6 450.5 944.6 438.1" stroke="#3FB59A" stroke-dasharray="2 12 13 9 9 4 2 7 2 4" stroke-dashoffset="10"/><path d="M706.6 470.3Q825.6 452.2 944.6 439.9" stroke="#D9A54A" stroke-dasharray="7 10 7 8 7 9 7 5 13 12" stroke-dashoffset="34"/><path d="M706.6 475.3Q825.6 457.4 944.6 445.2" stroke="#3FB59A" stroke-dasharray="4 5 2 10 6 10 6 12 11 2" stroke-dashoffset="8"/><path d="M706.6 479.2Q825.6 461.5 944.6 449.3" stroke="#D9A54A" stroke-dasharray="13 6 2 8 10 5 3 5 13 10" stroke-dashoffset="5"/><path d="M706.6 481.1Q825.6 463.5 944.6 451.4" stroke="#3FB59A" stroke-dasharray="2 10 4 8 7 4 10 3 9 3" stroke-dashoffset="17"/><path d="M706.6 484.4Q825.6 467.0 944.6 455.0" stroke="#D9A54A" stroke-dasharray="13 10 5 11 4 6 11 8 3 12" stroke-dashoffset="9"/><path d="M706.6 487.9Q825.6 470.7 944.6 458.7" stroke="#3FB59A" stroke-dasharray="5 5 2 3 8 4 8 6 7 12" stroke-dashoffset="19"/><path d="M706.6 492.1Q825.6 475.0 944.6 463.2" stroke="#D9A54A" stroke-dasharray="9 5 4 8 10 4 9 8 9 6" stroke-dashoffset="19"/><path d="M706.6 494.3Q825.6 477.4 944.6 465.6" stroke="#3FB59A" stroke-dasharray="3 7 4 9 6 6 12 7 7 11" stroke-dashoffset="39"/><path d="M706.6 497.8Q825.6 481.1 944.6 469.4" stroke="#D9A54A" stroke-dasharray="9 8 2 4 12 9 2 6 4 2" stroke-dashoffset="11"/><path d="M706.6 502.2Q825.6 485.7 944.6 474.1" stroke="#D9A54A" stroke-dasharray="6 11 13 9 9 8 3 2 2 11" stroke-dashoffset="28"/><path d="M706.6 506.7Q825.6 490.3 944.6 478.8" stroke="#D9A54A" stroke-dasharray="9 7 10 5 13 3 8 9 12 9" stroke-dashoffset="28"/><path d="M706.6 509.7Q825.6 493.5 944.6 482.0" stroke="#3FB59A" stroke-dasharray="2 7 2 11 12 2 7 2 9 6" stroke-dashoffset="0"/><path d="M706.6 511.4Q825.6 495.4 944.6 484.0" stroke="#D9A54A" stroke-dasharray="3 5 6 5 12 9 7 7 8 7" stroke-dashoffset="21"/><path d="M706.6 515.3Q825.6 499.5 944.6 488.2" stroke="#3FB59A" stroke-dasharray="2 12 3 10 9 7 12 6 3 8" stroke-dashoffset="21"/><path d="M706.6 519.8Q825.6 504.2 944.6 492.9" stroke="#D9A54A" stroke-dasharray="12 7 4 6 4 8 11 10 4 4" stroke-dashoffset="9"/><path d="M706.6 523.6Q825.6 508.2 944.6 497.0" stroke="#3FB59A" stroke-dasharray="3 6 12 2 2 12 11 3 7 11" stroke-dashoffset="33"/><path d="M706.6 525.8Q825.6 510.5 944.6 499.4" stroke="#D9A54A" stroke-dasharray="9 9 11 8 5 10 5 8 9 5" stroke-dashoffset="14"/><path d="M706.6 529.8Q825.6 514.7 944.6 503.7" stroke="#3FB59A" stroke-dasharray="9 6 4 10 5 10 11 12 3 3" stroke-dashoffset="21"/><path d="M706.6 533.2Q825.6 518.2 944.6 507.3" stroke="#D9A54A" stroke-dasharray="2 4 11 5 10 10 8 2 4 10" stroke-dashoffset="22"/><path d="M706.6 537.3Q825.6 522.6 944.6 511.7" stroke="#3FB59A" stroke-dasharray="13 4 11 9 4 6 12 6 7 4" stroke-dashoffset="35"/><path d="M706.6 538.5Q825.6 523.9 944.6 513.1" stroke="#D9A54A" stroke-dasharray="9 7 11 5 5 12 3 11 11 11" stroke-dashoffset="5"/><path d="M706.6 542.5Q825.6 528.1 944.6 517.4" stroke="#3FB59A" stroke-dasharray="3 5 13 11 5 9 2 7 2 5" stroke-dashoffset="17"/><path d="M706.6 546.0Q825.6 531.7 944.6 521.1" stroke="#D9A54A" stroke-dasharray="11 3 11 4 5 10 3 3 7 9" stroke-dashoffset="34"/><path d="M706.6 550.4Q825.6 536.3 944.6 525.8" stroke="#3FB59A" stroke-dasharray="8 9 10 6 8 10 8 4 7 11" stroke-dashoffset="10"/><path d="M706.6 553.8Q825.6 539.9 944.6 529.4" stroke="#D9A54A" stroke-dasharray="5 3 8 5 7 6 3 2 6 7" stroke-dashoffset="2"/><path d="M706.6 557.8Q825.6 544.0 944.6 533.7" stroke="#3FB59A" stroke-dasharray="13 3 3 4 12 7 12 10 6 4" stroke-dashoffset="20"/><path d="M706.6 559.8Q825.6 546.2 944.6 535.9" stroke="#3FB59A" stroke-dasharray="8 3 6 2 4 9 13 2 3 2" stroke-dashoffset="11"/><path d="M706.6 564.1Q825.6 550.8 944.6 540.5" stroke="#3FB59A" stroke-dasharray="7 7 8 11 9 9 10 11 2 8" stroke-dashoffset="33"/><path d="M706.6 567.3Q825.6 554.1 944.6 543.9" stroke="#D9A54A" stroke-dasharray="11 7 4 4 8 8 3 11 9 5" stroke-dashoffset="7"/><path d="M706.6 570.7Q825.6 563.4 944.6 554.0" stroke="#D9A54A" stroke-dasharray="4 12 12 3 4 9 4 3 11 6" stroke-dashoffset="32"/><path d="M706.6 572.9Q825.6 565.7 944.6 556.3" stroke="#D9A54A" stroke-dasharray="9 2 4 9 12 12 3 7 10 7" stroke-dashoffset="27"/><path d="M706.6 576.5Q825.6 569.4 944.6 559.8" stroke="#3FB59A" stroke-dasharray="3 2 8 7 8 3 4 4 11 12" stroke-dashoffset="37"/><path d="M706.6 579.7Q825.6 572.6 944.6 563.0" stroke="#D9A54A" stroke-dasharray="12 7 10 5 7 7 6 8 2 9" stroke-dashoffset="34"/><path d="M706.6 583.3Q825.6 576.3 944.6 566.6" stroke="#3FB59A" stroke-dasharray="10 6 4 4 7 2 12 10 10 11" stroke-dashoffset="25"/><path d="M706.6 587.2Q825.6 580.4 944.6 570.6" stroke="#D9A54A" stroke-dasharray="7 12 11 5 12 9 10 10 6 11" stroke-dashoffset="35"/><path d="M706.6 591.4Q825.6 584.6 944.6 574.7" stroke="#3FB59A" stroke-dasharray="10 6 10 3 5 7 2 6 9 8" stroke-dashoffset="9"/><path d="M706.6 595.4Q825.6 588.7 944.6 578.7" stroke="#D9A54A" stroke-dasharray="5 9 8 7 6 12 9 9 10 12" stroke-dashoffset="1"/><path d="M706.6 598.0Q825.6 591.4 944.6 581.3" stroke="#3FB59A" stroke-dasharray="4 6 2 4 6 3 4 11 8 7" stroke-dashoffset="39"/><path d="M706.6 601.3Q825.6 594.7 944.6 584.6" stroke="#3FB59A" stroke-dasharray="11 3 8 10 2 11 3 7 3 7" stroke-dashoffset="24"/><path d="M706.6 603.5Q825.6 597.0 944.6 586.8" stroke="#3FB59A" stroke-dasharray="5 6 5 7 7 5 12 9 10 2" stroke-dashoffset="31"/><path d="M706.6 608.2Q825.6 601.8 944.6 591.5" stroke="#D9A54A" stroke-dasharray="6 9 2 5 6 8 10 5 11 4" stroke-dashoffset="29"/><path d="M706.6 610.8Q825.6 604.5 944.6 594.1" stroke="#3FB59A" stroke-dasharray="2 3 11 11 3 12 4 9 2 6" stroke-dashoffset="5"/><path d="M706.6 615.6Q825.6 609.4 944.6 599.0" stroke="#D9A54A" stroke-dasharray="3 6 3 6 8 8 9 6 10 10" stroke-dashoffset="5"/><path d="M706.6 617.7Q825.6 611.5 944.6 601.0" stroke="#3FB59A" stroke-dasharray="7 7 5 7 11 5 9 9 10 4" stroke-dashoffset="11"/><path d="M706.6 621.0Q825.6 614.9 944.6 604.3" stroke="#D9A54A" stroke-dasharray="12 2 2 5 6 8 3 7 2 3" stroke-dashoffset="27"/><path d="M706.6 625.1Q825.6 619.2 944.6 608.5" stroke="#3FB59A" stroke-dasharray="6 7 4 5 10 10 2 3 11 8" stroke-dashoffset="31"/><path d="M706.6 627.7Q825.6 621.8 944.6 611.1" stroke="#D9A54A" stroke-dasharray="4 10 6 9 13 5 8 9 12 6" stroke-dashoffset="15"/><path d="M706.6 630.9Q825.6 625.1 944.6 614.2" stroke="#D9A54A" stroke-dasharray="8 6 8 10 7 10 2 5 12 8" stroke-dashoffset="28"/><path d="M706.6 635.2Q825.6 629.5 944.6 618.6" stroke="#D9A54A" stroke-dasharray="5 11 4 9 5 11 5 6 8 11" stroke-dashoffset="27"/><path d="M706.6 638.1Q825.6 632.5 944.6 621.5" stroke="#3FB59A" stroke-dasharray="13 7 4 12 10 7 2 10 2 9" stroke-dashoffset="23"/><path d="M706.6 642.8Q825.6 637.2 944.6 626.1" stroke="#D9A54A" stroke-dasharray="6 6 3 8 4 3 7 11 11 4" stroke-dashoffset="2"/><path d="M706.6 644.7Q825.6 639.2 944.6 628.0" stroke="#3FB59A" stroke-dasharray="2 10 6 8 5 7 5 5 3 5" stroke-dashoffset="1"/><path d="M706.6 649.3Q825.6 643.9 944.6 632.6" stroke="#D9A54A" stroke-dasharray="11 6 10 7 12 5 7 6 11 5" stroke-dashoffset="5"/><path d="M706.6 652.3Q825.6 647.0 944.6 635.6" stroke="#D9A54A" stroke-dasharray="10 11 6 10 9 11 11 10 12 12" stroke-dashoffset="26"/><path d="M706.6 655.8Q825.6 650.6 944.6 639.1" stroke="#D9A54A" stroke-dasharray="11 6 6 3 10 12 6 4 4 6" stroke-dashoffset="12"/><path d="M706.6 660.3Q825.6 655.1 944.6 643.6" stroke="#3FB59A" stroke-dasharray="5 3 9 10 4 3 7 8 12 2" stroke-dashoffset="4"/><path d="M706.6 661.8Q825.6 656.7 944.6 645.1" stroke="#D9A54A" stroke-dasharray="4 9 8 4 4 5 3 10 5 7" stroke-dashoffset="33"/><path d="M706.6 665.9Q825.6 660.9 944.6 649.3" stroke="#3FB59A" stroke-dasharray="12 11 5 7 13 7 4 2 12 10" stroke-dashoffset="15"/><path d="M706.6 669.5Q825.6 664.5 944.6 652.8" stroke="#D9A54A" stroke-dasharray="5 12 9 4 2 7 6 10 10 8" stroke-dashoffset="6"/><path d="M706.6 672.0Q825.6 667.1 944.6 655.3" stroke="#3FB59A" stroke-dasharray="4 11 7 8 13 5 8 4 10 2" stroke-dashoffset="33"/></g><g clip-path="url(#cwb)"><ellipse cx="830.4" cy="559.7" rx="85.7" ry="9.8" fill="#3E26A8" opacity="0.85" transform="rotate(-7 830.4 559.7)"/><path d="M725.6 578.4Q813.7 577.5 854.2 566.8T927.9 541.9" fill="none" stroke="#3FB59A" stroke-width="0.8" opacity="0.85" stroke-dasharray="40 3 25 4 60 5"/></g><g font-size="7.8" fill="#3c3c3c"><g text-anchor="end"><text x="703.2" y="491.8">50</text><text x="703.2" y="510.3">100</text><text x="703.2" y="528.9">150</text><text x="703.2" y="547.5">200</text><text x="703.2" y="566.0">250</text><text x="703.2" y="584.6">300</text><text x="703.2" y="603.2">350</text><text x="703.2" y="621.7">400</text><text x="703.2" y="640.3">450</text></g><g text-anchor="middle"><text x="743.6" y="661.0">100</text><text x="780.8" y="661.0">200</text><text x="818.0" y="661.0">300</text><text x="855.2" y="661.0">400</text><text x="892.4" y="661.0">500</text><text x="929.5" y="661.0">600</text></g></g><path d="M706.6 489.0h2M944.6 489.0h-2M706.6 507.5h2M944.6 507.5h-2M706.6 526.1h2M944.6 526.1h-2M706.6 544.7h2M944.6 544.7h-2M706.6 563.2h2M944.6 563.2h-2M706.6 581.8h2M944.6 581.8h-2M706.6 600.4h2M944.6 600.4h-2M706.6 618.9h2M944.6 618.9h-2M706.6 637.5h2M944.6 637.5h-2M743.6 648.8v-2M743.6 470.6v2M780.8 648.8v-2M780.8 470.6v2M818.0 648.8v-2M818.0 470.6v2M855.2 648.8v-2M855.2 470.6v2M892.4 648.8v-2M892.4 470.6v2M929.5 648.8v-2M929.5 470.6v2" stroke="#333" stroke-width="0.5" opacity="0.6" fill="none"/><text x="824.0" y="463.0" font-size="11.6" text-anchor="middle" fill="#000">Wood, σ = 4</text><rect x="986.6" y="471.2" width="239.6" height="179.2" fill="#3E26A8"/><g clip-path="url(#ccb)" fill="none" stroke-width="0.85" opacity="0.9"><path d="M956.6 650.4L974.8 471.2" stroke="#D9A54A" stroke-dasharray="7 3 9 1 3 2 5 3" stroke-dashoffset="14"/><path d="M961.3 650.4L979.7 471.2" stroke="#3FB59A" stroke-dasharray="8 2 9 1 7 1 11 1" stroke-dashoffset="16"/><path d="M966.1 650.4L984.5 471.2" stroke="#D9A54A" stroke-dasharray="4 3 6 2 11 1 4 3" stroke-dashoffset="10"/><path d="M970.8 650.4L989.3 471.2" stroke="#3FB59A" stroke-dasharray="4 3 12 1 7 1 6 3" stroke-dashoffset="3"/><path d="M975.5 650.4L994.2 471.2" stroke="#D9A54A" stroke-dasharray="9 1 5 3 7 2 8 2" stroke-dashoffset="8"/><path d="M980.3 650.4L999.0 471.2" stroke="#3FB59A" stroke-dasharray="3 3 12 3 9 2 6 3" stroke-dashoffset="13"/><path d="M985.0 650.4L1003.8 471.2" stroke="#D9A54A" stroke-dasharray="4 2 6 2 10 2 3 3" stroke-dashoffset="9"/><path d="M989.7 650.4L1008.6 471.2" stroke="#3FB59A" stroke-dasharray="8 2 7 2 10 1 8 1" stroke-dashoffset="14"/><path d="M994.5 650.4L1013.5 471.2" stroke="#D9A54A" stroke-dasharray="3 2 6 3 3 2 5 2" stroke-dashoffset="10"/><path d="M999.2 650.4L1018.3 471.2" stroke="#3FB59A" stroke-dasharray="12 2 12 1 11 2 5 3" stroke-dashoffset="18"/><path d="M1004.0 650.4L1023.1 471.2" stroke="#D9A54A" stroke-dasharray="3 2 10 2 5 1 3 3" stroke-dashoffset="20"/><path d="M1008.7 650.4L1028.0 471.2" stroke="#3FB59A" stroke-dasharray="12 2 3 2 10 3 9 2" stroke-dashoffset="11"/><path d="M1013.4 650.4L1032.8 471.2" stroke="#D9A54A" stroke-dasharray="7 3 5 3 11 1 6 3" stroke-dashoffset="6"/><path d="M1018.2 650.4L1037.6 471.2" stroke="#3FB59A" stroke-dasharray="11 2 9 3 5 2 5 3" stroke-dashoffset="14"/><path d="M1022.9 650.4L1042.4 471.2" stroke="#D9A54A" stroke-dasharray="4 3 7 2 7 3 8 3" stroke-dashoffset="18"/><path d="M1027.6 650.4L1047.3 471.2" stroke="#3FB59A" stroke-dasharray="12 3 7 2 11 3 8 2" stroke-dashoffset="7"/><path d="M1032.4 650.4L1052.1 471.2" stroke="#D9A54A" stroke-dasharray="10 2 3 3 11 3 11 3" stroke-dashoffset="11"/><path d="M1037.1 650.4L1056.9 471.2" stroke="#3FB59A" stroke-dasharray="10 2 4 2 6 3 9 2" stroke-dashoffset="12"/><path d="M1041.8 650.4L1061.8 471.2" stroke="#D9A54A" stroke-dasharray="4 2 9 2 5 2 6 3" stroke-dashoffset="3"/><path d="M1046.6 650.4L1066.6 471.2" stroke="#3FB59A" stroke-dasharray="4 2 9 3 9 3 6 1" stroke-dashoffset="10"/><path d="M1051.3 650.4L1071.4 471.2" stroke="#D9A54A" stroke-dasharray="7 1 9 2 5 2 11 1" stroke-dashoffset="7"/><path d="M1056.0 650.4L1076.2 471.2" stroke="#3FB59A" stroke-dasharray="6 2 7 2 11 2 9 1" stroke-dashoffset="9"/><path d="M1060.8 650.4L1081.1 471.2" stroke="#D9A54A" stroke-dasharray="8 3 5 2 11 3 5 2" stroke-dashoffset="15"/><path d="M1065.5 650.4L1085.9 471.2" stroke="#3FB59A" stroke-dasharray="7 3 9 3 8 3 6 3" stroke-dashoffset="6"/><path d="M1070.2 650.4L1090.7 471.2" stroke="#D9A54A" stroke-dasharray="7 2 6 1 5 2 5 1" stroke-dashoffset="16"/><path d="M1075.0 650.4L1095.6 471.2" stroke="#3FB59A" stroke-dasharray="6 3 8 2 11 3 6 1" stroke-dashoffset="13"/><path d="M1079.7 650.4L1100.4 471.2" stroke="#D9A54A" stroke-dasharray="11 3 10 2 9 2 7 2" stroke-dashoffset="8"/><path d="M1084.4 650.4L1105.2 471.2" stroke="#3FB59A" stroke-dasharray="7 3 5 2 5 3 8 1" stroke-dashoffset="17"/><path d="M1089.2 650.4L1110.1 471.2" stroke="#D9A54A" stroke-dasharray="11 3 6 3 6 1 11 3" stroke-dashoffset="4"/><path d="M1093.9 650.4L1114.9 471.2" stroke="#3FB59A" stroke-dasharray="11 1 6 1 5 1 9 2" stroke-dashoffset="4"/><path d="M1098.7 650.4L1119.7 471.2" stroke="#D9A54A" stroke-dasharray="5 2 11 3 4 3 8 2" stroke-dashoffset="11"/><path d="M1103.4 650.4L1124.5 471.2" stroke="#3FB59A" stroke-dasharray="9 3 8 3 7 3 6 2" stroke-dashoffset="10"/><path d="M1108.1 650.4L1129.4 471.2" stroke="#D9A54A" stroke-dasharray="9 2 11 2 11 3 12 3" stroke-dashoffset="9"/><path d="M1112.9 650.4L1134.2 471.2" stroke="#3FB59A" stroke-dasharray="7 3 10 3 4 1 4 1" stroke-dashoffset="1"/><path d="M1117.6 650.4L1139.0 471.2" stroke="#D9A54A" stroke-dasharray="3 2 4 3 9 3 12 3" stroke-dashoffset="19"/><path d="M1122.3 650.4L1143.9 471.2" stroke="#3FB59A" stroke-dasharray="3 2 11 2 5 3 7 2" stroke-dashoffset="6"/><path d="M1127.1 650.4L1148.7 471.2" stroke="#D9A54A" stroke-dasharray="5 1 8 3 12 3 11 2" stroke-dashoffset="6"/><path d="M1131.8 650.4L1153.5 471.2" stroke="#3FB59A" stroke-dasharray="11 3 9 1 5 2 10 3" stroke-dashoffset="15"/><path d="M1136.5 650.4L1158.3 471.2" stroke="#D9A54A" stroke-dasharray="6 2 11 3 7 1 9 2" stroke-dashoffset="7"/><path d="M1141.3 650.4L1163.2 471.2" stroke="#3FB59A" stroke-dasharray="5 2 9 1 8 3 10 2" stroke-dashoffset="8"/><path d="M1146.0 650.4L1168.0 471.2" stroke="#D9A54A" stroke-dasharray="4 3 9 1 8 2 8 2" stroke-dashoffset="6"/><path d="M1150.7 650.4L1172.8 471.2" stroke="#3FB59A" stroke-dasharray="6 3 6 2 7 1 7 2" stroke-dashoffset="6"/><path d="M1155.5 650.4L1177.7 471.2" stroke="#D9A54A" stroke-dasharray="6 2 11 2 6 3 7 2" stroke-dashoffset="13"/><path d="M1160.2 650.4L1182.5 471.2" stroke="#3FB59A" stroke-dasharray="4 3 4 2 10 3 9 1" stroke-dashoffset="9"/><path d="M1164.9 650.4L1187.3 471.2" stroke="#D9A54A" stroke-dasharray="6 3 5 1 9 3 8 2" stroke-dashoffset="19"/><path d="M1169.7 650.4L1192.2 471.2" stroke="#3FB59A" stroke-dasharray="7 3 7 2 6 3 10 2" stroke-dashoffset="11"/><path d="M1174.4 650.4L1197.0 471.2" stroke="#D9A54A" stroke-dasharray="10 2 9 3 9 2 6 1" stroke-dashoffset="18"/><path d="M1179.2 650.4L1201.8 471.2" stroke="#3FB59A" stroke-dasharray="10 2 12 3 4 3 7 2" stroke-dashoffset="5"/><path d="M1183.9 650.4L1206.6 471.2" stroke="#D9A54A" stroke-dasharray="7 1 3 1 6 1 4 3" stroke-dashoffset="8"/><path d="M1188.6 650.4L1211.5 471.2" stroke="#3FB59A" stroke-dasharray="7 3 11 1 5 3 11 3" stroke-dashoffset="11"/><path d="M1193.4 650.4L1216.3 471.2" stroke="#D9A54A" stroke-dasharray="6 1 11 3 8 3 5 2" stroke-dashoffset="18"/><path d="M1198.1 650.4L1221.1 471.2" stroke="#3FB59A" stroke-dasharray="4 3 5 3 11 3 7 1" stroke-dashoffset="10"/><path d="M1202.8 650.4L1226.0 471.2" stroke="#D9A54A" stroke-dasharray="6 2 4 3 8 2 11 3" stroke-dashoffset="11"/><path d="M1207.6 650.4L1230.8 471.2" stroke="#3FB59A" stroke-dasharray="8 3 6 3 3 3 8 3" stroke-dashoffset="20"/><path d="M1212.3 650.4L1235.6 471.2" stroke="#D9A54A" stroke-dasharray="5 2 10 3 8 3 9 3" stroke-dashoffset="13"/><path d="M1217.0 650.4L1240.4 471.2" stroke="#3FB59A" stroke-dasharray="6 2 4 1 3 3 4 3" stroke-dashoffset="3"/><path d="M1221.8 650.4L1245.3 471.2" stroke="#D9A54A" stroke-dasharray="12 2 5 3 11 3 5 2" stroke-dashoffset="13"/><path d="M1226.5 650.4L1250.1 471.2" stroke="#3FB59A" stroke-dasharray="6 2 9 3 10 3 6 3" stroke-dashoffset="9"/></g><g font-size="7.8" fill="#3c3c3c"><g text-anchor="end"><text x="982.8" y="492.5">50</text><text x="982.8" y="511.2">100</text><text x="982.8" y="529.8">150</text><text x="982.8" y="548.5">200</text><text x="982.8" y="567.2">250</text><text x="982.8" y="585.8">300</text><text x="982.8" y="604.5">350</text><text x="982.8" y="623.2">400</text><text x="982.8" y="641.8">450</text></g><g text-anchor="middle"><text x="1023.9" y="662.6">100</text><text x="1061.3" y="662.6">200</text><text x="1098.7" y="662.6">300</text><text x="1136.2" y="662.6">400</text><text x="1173.6" y="662.6">500</text><text x="1211.0" y="662.6">600</text></g></g><path d="M986.6 489.7h2M1226.2 489.7h-2M986.6 508.3h2M1226.2 508.3h-2M986.6 527.0h2M1226.2 527.0h-2M986.6 545.7h2M1226.2 545.7h-2M986.6 564.3h2M1226.2 564.3h-2M986.6 583.0h2M1226.2 583.0h-2M986.6 601.7h2M1226.2 601.7h-2M986.6 620.3h2M1226.2 620.3h-2M986.6 639.0h2M1226.2 639.0h-2M1023.9 650.4v-2M1023.9 471.2v2M1061.3 650.4v-2M1061.3 471.2v2M1098.7 650.4v-2M1098.7 471.2v2M1136.2 650.4v-2M1136.2 471.2v2M1173.6 650.4v-2M1173.6 471.2v2M1211.0 650.4v-2M1211.0 471.2v2" stroke="#333" stroke-width="0.5" opacity="0.6" fill="none"/><text x="1105.6" y="463.0" font-size="11.6" text-anchor="middle" fill="#000">Corduroy, σ = 4</text><rect x="1233.3" y="620.63" width="12.4" height="30.27" fill="#3E26A8"/><rect x="1233.3" y="590.67" width="12.4" height="30.27" fill="#4367FD"/><rect x="1233.3" y="560.70" width="12.4" height="30.27" fill="#1CAADF"/><rect x="1233.3" y="530.73" width="12.4" height="30.27" fill="#48CB86"/><rect x="1233.3" y="500.77" width="12.4" height="30.27" fill="#EABA30"/><rect x="1233.3" y="470.80" width="12.4" height="30.27" fill="#F9FB15"/><rect x="1233.3" y="470.8" width="12.4" height="179.8" fill="none" stroke="#444" stroke-width="0.5"/><text x="1250.8" y="488.2" font-size="10.5" text-anchor="start" class="mf" stroke="#000" stroke-width="0.12"><tspan dy="-0.00" style="font-style:italic">γ</tspan></text><text x="1250.4" y="521.0" font-size="10.5" text-anchor="start" class="mf" stroke="#000" stroke-width="0.12"><tspan dy="-0.00" style="font-style:normal;font-size:9.5px">2</tspan></text><text x="1255.8" y="516.4" font-size="6.5" text-anchor="start" class="mf" stroke="#000" stroke-width="0.07"><tspan dy="-0.00" style="font-style:normal;font-size:5.9px">−</tspan></text><text x="1259.6" y="514.6" font-size="5" text-anchor="start" class="mf" stroke="#000" stroke-width="0.05"><tspan dy="-0.00" style="font-style:normal;font-size:4.5px">1</tspan></text><text x="1259.6" y="519.4" font-size="5" text-anchor="start" class="mf" stroke="#000" stroke-width="0.05"><tspan dy="-0.00" style="font-style:normal;font-size:4.5px">2</tspan></text><path d="M1259.2 515.5h3" stroke="#000" stroke-width="0.4"/><text x="1263.0" y="521.0" font-size="10.5" text-anchor="start" class="mf" stroke="#000" stroke-width="0.12" textLength="27.2" lengthAdjust="spacingAndGlyphs"><tspan dy="-0.00" style="font-style:normal;font-size:9.5px">(</tspan><tspan dy="-0.00" style="font-style:italic">γ</tspan><tspan dy="-0.00" style="font-style:normal;font-size:9.5px"> − </tspan><tspan dy="-0.00" style="font-style:italic">λ</tspan><tspan dy="-0.00" style="font-style:normal;font-size:9.5px">)</tspan></text><text x="1250.4" y="551.4" font-size="10.5" text-anchor="start" class="mf" stroke="#000" stroke-width="0.12"><tspan dy="-0.00" style="font-style:normal;font-size:9.5px">2</tspan></text><text x="1255.8" y="546.8" font-size="6.5" text-anchor="start" class="mf" stroke="#000" stroke-width="0.07"><tspan dy="-0.00" style="font-style:normal;font-size:5.9px">−</tspan></text><text x="1259.6" y="545.0" font-size="5" text-anchor="start" class="mf" stroke="#000" stroke-width="0.05"><tspan dy="-0.00" style="font-style:normal;font-size:4.5px">1</tspan></text><text x="1259.6" y="549.8" font-size="5" text-anchor="start" class="mf" stroke="#000" stroke-width="0.05"><tspan dy="-0.00" style="font-style:normal;font-size:4.5px">2</tspan></text><path d="M1259.2 545.9h3" stroke="#000" stroke-width="0.4"/><text x="1263.0" y="551.4" font-size="10.5" text-anchor="start" class="mf" stroke="#000" stroke-width="0.12" textLength="27.2" lengthAdjust="spacingAndGlyphs"><tspan dy="-0.00" style="font-style:normal;font-size:9.5px">(</tspan><tspan dy="-0.00" style="font-style:italic">γ</tspan><tspan dy="-0.00" style="font-style:normal;font-size:9.5px"> + </tspan><tspan dy="-0.00" style="font-style:italic">λ</tspan><tspan dy="-0.00" style="font-style:normal;font-size:9.5px">)</tspan></text><text x="1250.8" y="580.2" font-size="10.5" text-anchor="start" class="mf" stroke="#000" stroke-width="0.12" textLength="12.4" lengthAdjust="spacingAndGlyphs"><tspan dy="-0.00" style="font-style:normal;font-size:9.5px">− </tspan><tspan dy="-0.00" style="font-style:italic">λ</tspan></text><text x="1250.8" y="610.0" font-size="10.5" text-anchor="start" class="mf" stroke="#000" stroke-width="0.12" textLength="12.8" lengthAdjust="spacingAndGlyphs"><tspan dy="-0.00" style="font-style:normal;font-size:9.5px">+ </tspan><tspan dy="-0.00" style="font-style:italic">λ</tspan></text><text x="1250.6" y="640.6" font-size="10.5" text-anchor="start" class="mf" stroke="#000" stroke-width="0.12"><tspan dy="-0.00" style="font-style:normal;font-size:9.5px">2</tspan></text><path d="M1256.2 642.6 L1257.8 641.6 L1259.2 648.6 L1261.6 627.6 L1297.8 627.6" fill="none" stroke="#000" stroke-width="0.6" stroke-linejoin="miter"/><text x="1262.4" y="640.6" font-size="10.5" text-anchor="start" class="mf" stroke="#000" stroke-width="0.12" textLength="35.0" lengthAdjust="spacingAndGlyphs"><tspan dy="-0.00" style="font-style:italic">s</tspan><tspan dy="2.31" style="font-style:italic;font-size:7.6px">x</tspan><tspan dy="-5.78" style="font-style:normal;font-size:6.9px">2</tspan><tspan dy="3.47" style="font-style:normal;font-size:9.5px"> + </tspan><tspan dy="-0.00" style="font-style:italic">s</tspan><tspan dy="2.31" style="font-style:italic;font-size:7.6px">y</tspan><tspan dy="-5.78" style="font-style:normal;font-size:6.9px">2</tspan></text><rect x="723.9" y="868.9" width="216.9" height="162.8" fill="#3E26A8"/><g clip-path="url(#cwb2)" fill="none" stroke-width="0.9" opacity="0.8"><path d="M723.9 862.1Q832.3 845.0 940.8 833.9" stroke="#4A4FE0" stroke-dasharray="21 8 10 12 25 9 17 6 4 7" stroke-dashoffset="23"/><path d="M723.9 866.2Q832.3 849.3 940.8 838.3" stroke="#4656E8" stroke-dasharray="10 6 5 14 23 13 20 3 13 8" stroke-dashoffset="5"/><path d="M723.9 872.6Q832.3 855.9 940.8 845.0" stroke="#3D6FE8" stroke-dasharray="8 12 7 13 16 9 13 8 9 3" stroke-dashoffset="35"/><path d="M723.9 875.1Q832.3 858.7 940.8 847.9" stroke="#4A4FE0" stroke-dasharray="9 14 27 11 24 9 23 4 16 12" stroke-dashoffset="8"/><path d="M723.9 881.1Q832.3 864.8 940.8 854.1" stroke="#4656E8" stroke-dasharray="12 13 17 6 17 6 26 5 23 14" stroke-dashoffset="0"/><path d="M723.9 883.3Q832.3 867.3 940.8 856.7" stroke="#3D6FE8" stroke-dasharray="18 9 12 14 7 10 20 12 13 11" stroke-dashoffset="37"/><path d="M723.9 888.0Q832.3 872.2 940.8 861.7" stroke="#4A4FE0" stroke-dasharray="28 5 15 5 5 9 21 6 28 5" stroke-dashoffset="30"/><path d="M723.9 891.7Q832.3 876.2 940.8 865.7" stroke="#4656E8" stroke-dasharray="17 10 28 6 19 8 15 11 5 6" stroke-dashoffset="34"/><path d="M723.9 897.6Q832.3 882.2 940.8 871.9" stroke="#3D6FE8" stroke-dasharray="10 7 27 10 8 5 23 4 8 10" stroke-dashoffset="36"/><path d="M723.9 901.4Q832.3 886.3 940.8 876.0" stroke="#4656E8" stroke-dasharray="25 13 20 8 19 12 12 9 11 11" stroke-dashoffset="0"/><path d="M723.9 906.2Q832.3 891.3 940.8 881.1" stroke="#4A4FE0" stroke-dasharray="11 7 10 14 15 11 24 12 8 5" stroke-dashoffset="16"/><path d="M723.9 909.3Q832.3 894.6 940.8 884.5" stroke="#3D6FE8" stroke-dasharray="24 4 7 6 12 13 14 13 20 5" stroke-dashoffset="34"/><path d="M723.9 913.6Q832.3 899.2 940.8 889.2" stroke="#4A4FE0" stroke-dasharray="24 10 17 11 5 13 14 13 14 9" stroke-dashoffset="34"/><path d="M723.9 918.0Q832.3 903.8 940.8 893.8" stroke="#3D6FE8" stroke-dasharray="12 3 14 6 27 6 17 9 29 4" stroke-dashoffset="24"/><path d="M723.9 922.9Q832.3 908.9 940.8 899.1" stroke="#3D6FE8" stroke-dasharray="29 6 22 9 19 4 25 14 13 6" stroke-dashoffset="40"/><path d="M723.9 926.2Q832.3 912.5 940.8 902.7" stroke="#4A4FE0" stroke-dasharray="6 12 24 8 20 3 21 8 17 7" stroke-dashoffset="16"/><path d="M723.9 930.8Q832.3 917.3 940.8 907.6" stroke="#4656E8" stroke-dasharray="15 6 22 12 23 8 10 7 17 10" stroke-dashoffset="39"/><path d="M723.9 934.7Q832.3 921.4 940.8 911.9" stroke="#3D6FE8" stroke-dasharray="17 11 27 12 20 11 21 12 22 11" stroke-dashoffset="10"/><path d="M723.9 941.0Q832.3 927.9 940.8 918.5" stroke="#4A4FE0" stroke-dasharray="20 12 29 14 4 6 12 7 8 9" stroke-dashoffset="3"/><path d="M723.9 943.8Q832.3 931.0 940.8 921.6" stroke="#3D6FE8" stroke-dasharray="23 14 30 5 15 10 14 9 9 4" stroke-dashoffset="1"/><path d="M723.9 948.6Q832.3 936.0 940.8 926.7" stroke="#4A4FE0" stroke-dasharray="27 9 10 11 23 5 14 7 16 10" stroke-dashoffset="27"/><path d="M723.9 953.3Q832.3 940.9 940.8 931.7" stroke="#4A4FE0" stroke-dasharray="7 14 10 7 20 13 14 4 19 7" stroke-dashoffset="18"/><path d="M723.9 957.0Q832.3 944.9 940.8 935.7" stroke="#3D6FE8" stroke-dasharray="8 14 9 7 4 5 19 13 15 12" stroke-dashoffset="12"/><path d="M723.9 961.2Q832.3 954.7 940.8 946.1" stroke="#4A4FE0" stroke-dasharray="10 12 26 13 27 3 19 4 27 11" stroke-dashoffset="30"/><path d="M723.9 965.0Q832.3 958.6 940.8 949.8" stroke="#4A4FE0" stroke-dasharray="25 10 20 8 25 7 11 7 12 10" stroke-dashoffset="36"/><path d="M723.9 969.0Q832.3 962.7 940.8 953.8" stroke="#4656E8" stroke-dasharray="17 10 9 6 6 3 17 10 21 5" stroke-dashoffset="4"/><path d="M723.9 975.3Q832.3 969.1 940.8 960.1" stroke="#3D6FE8" stroke-dasharray="15 11 23 9 6 12 10 3 13 9" stroke-dashoffset="25"/><path d="M723.9 977.8Q832.3 971.7 940.8 962.6" stroke="#4A4FE0" stroke-dasharray="17 5 26 12 28 10 10 12 27 9" stroke-dashoffset="36"/><path d="M723.9 984.0Q832.3 978.0 940.8 968.8" stroke="#4656E8" stroke-dasharray="28 13 25 3 13 10 20 11 21 5" stroke-dashoffset="37"/><path d="M723.9 987.2Q832.3 981.4 940.8 972.1" stroke="#4A4FE0" stroke-dasharray="10 9 11 8 24 14 28 6 20 7" stroke-dashoffset="27"/><path d="M723.9 992.3Q832.3 986.6 940.8 977.1" stroke="#4A4FE0" stroke-dasharray="30 13 29 11 30 11 23 5 18 7" stroke-dashoffset="40"/><path d="M723.9 995.2Q832.3 989.6 940.8 980.0" stroke="#4656E8" stroke-dasharray="21 10 16 8 9 5 9 12 10 8" stroke-dashoffset="2"/><path d="M723.9 1000.9Q832.3 995.3 940.8 985.7" stroke="#3D6FE8" stroke-dasharray="25 7 15 6 8 5 8 5 5 12" stroke-dashoffset="35"/><path d="M723.9 1003.8Q832.3 998.4 940.8 988.6" stroke="#4656E8" stroke-dasharray="9 5 23 12 17 4 14 12 17 8" stroke-dashoffset="16"/><path d="M723.9 1008.9Q832.3 1003.6 940.8 993.7" stroke="#4656E8" stroke-dasharray="22 13 24 7 11 12 25 13 9 12" stroke-dashoffset="36"/><path d="M723.9 1011.8Q832.3 1006.6 940.8 996.7" stroke="#3D6FE8" stroke-dasharray="20 5 26 6 22 6 10 5 17 11" stroke-dashoffset="9"/><path d="M723.9 1017.6Q832.3 1012.5 940.8 1002.4" stroke="#4A4FE0" stroke-dasharray="21 7 9 5 6 11 15 4 27 10" stroke-dashoffset="1"/><path d="M723.9 1022.0Q832.3 1017.0 940.8 1006.8" stroke="#4656E8" stroke-dasharray="16 9 29 7 21 10 14 7 24 10" stroke-dashoffset="18"/><path d="M723.9 1025.7Q832.3 1020.9 940.8 1010.6" stroke="#3D6FE8" stroke-dasharray="25 3 21 8 10 9 19 4 17 5" stroke-dashoffset="32"/><path d="M723.9 1029.6Q832.3 1024.8 940.8 1014.4" stroke="#4A4FE0" stroke-dasharray="10 4 9 5 20 12 10 4 18 4" stroke-dashoffset="16"/><path d="M723.9 1034.9Q832.3 1030.3 940.8 1019.7" stroke="#4656E8" stroke-dasharray="22 9 6 6 20 4 9 9 25 9" stroke-dashoffset="27"/><path d="M723.9 1037.4Q832.3 1032.8 940.8 1022.2" stroke="#3D6FE8" stroke-dasharray="12 13 13 12 5 8 27 11 19 5" stroke-dashoffset="37"/><path d="M723.9 1041.8Q832.3 1037.4 940.8 1026.7" stroke="#4656E8" stroke-dasharray="23 9 8 7 21 10 14 12 5 6" stroke-dashoffset="4"/><path d="M723.9 1046.7Q832.3 1042.4 940.8 1031.5" stroke="#4656E8" stroke-dasharray="24 5 12 4 21 8 10 7 26 8" stroke-dashoffset="28"/><path d="M723.9 1051.7Q832.3 1047.5 940.8 1036.5" stroke="#3D6FE8" stroke-dasharray="18 7 9 8 12 7 9 13 15 5" stroke-dashoffset="1"/><path d="M723.9 1055.0Q832.3 1050.9 940.8 1039.8" stroke="#4656E8" stroke-dasharray="4 12 26 14 10 7 26 5 22 13" stroke-dashoffset="7"/></g><g clip-path="url(#cwb2)"><ellipse cx="836.7" cy="950.3" rx="78.1" ry="9.0" fill="#3E26A8" opacity="0.85" transform="rotate(-7 836.7 950.3)"/><path d="M741.3 967.4Q821.5 966.6 858.4 956.8T925.6 934.0" fill="none" stroke="#4A58E0" stroke-width="0.9" opacity="0.8" stroke-dasharray="40 3 25 4 60 5"/></g><g clip-path="url(#cwb2)" fill="none" stroke-width="1.0" opacity="0.85"><path d="M723.9 864.0Q832.3 846.9 940.8 835.8" stroke="#2FB0C0" stroke-dasharray="2 60 3 20 7 30 8 25 9 29" stroke-dashoffset="24"/><path d="M723.9 872.0Q832.3 855.3 940.8 844.4" stroke="#6FC58A" stroke-dasharray="8 47 2 55 6 28 3 53 6 57" stroke-dashoffset="31"/><path d="M723.9 880.1Q832.3 863.8 940.8 853.1" stroke="#D0B040" stroke-dasharray="7 42 4 58 4 50 9 44 3 52" stroke-dashoffset="27"/><path d="M723.9 886.2Q832.3 870.4 940.8 859.8" stroke="#2FB0C0" stroke-dasharray="6 15 8 37 6 33 7 56 4 31" stroke-dashoffset="23"/><path d="M723.9 894.5Q832.3 879.1 940.8 868.7" stroke="#6FC58A" stroke-dasharray="6 34 7 38 3 60 4 34 5 57" stroke-dashoffset="38"/><path d="M723.9 903.1Q832.3 888.1 940.8 877.8" stroke="#D0B040" stroke-dasharray="3 55 3 39 4 29 5 23 2 39" stroke-dashoffset="32"/><path d="M723.9 911.5Q832.3 896.9 940.8 886.8" stroke="#2FB0C0" stroke-dasharray="7 16 5 52 8 35 8 37 6 41" stroke-dashoffset="40"/><path d="M723.9 919.7Q832.3 905.6 940.8 895.6" stroke="#6FC58A" stroke-dasharray="7 44 4 50 8 42 9 15 6 43" stroke-dashoffset="14"/><path d="M723.9 926.4Q832.3 912.6 940.8 902.9" stroke="#D0B040" stroke-dasharray="5 26 2 58 4 19 4 26 8 22" stroke-dashoffset="11"/><path d="M723.9 934.2Q832.3 920.9 940.8 911.3" stroke="#2FB0C0" stroke-dasharray="3 30 7 57 8 16 5 53 2 23" stroke-dashoffset="20"/><path d="M723.9 943.0Q832.3 930.0 940.8 920.6" stroke="#6FC58A" stroke-dasharray="7 35 4 25 4 17 7 21 8 44" stroke-dashoffset="2"/><path d="M723.9 951.3Q832.3 938.8 940.8 929.5" stroke="#D0B040" stroke-dasharray="2 36 2 49 2 43 9 53 4 39" stroke-dashoffset="6"/><path d="M723.9 958.9Q832.3 952.3 940.8 943.7" stroke="#D0B040" stroke-dasharray="2 31 6 22 8 55 6 31 8 38" stroke-dashoffset="8"/><path d="M723.9 966.8Q832.3 960.4 940.8 951.6" stroke="#6FC58A" stroke-dasharray="8 37 7 52 9 23 5 54 7 32" stroke-dashoffset="26"/><path d="M723.9 974.6Q832.3 968.5 940.8 959.5" stroke="#D0B040" stroke-dasharray="2 31 4 38 9 21 6 54 6 38" stroke-dashoffset="31"/><path d="M723.9 982.3Q832.3 976.3 940.8 967.1" stroke="#D0B040" stroke-dasharray="2 43 2 40 8 26 4 28 8 40" stroke-dashoffset="21"/><path d="M723.9 991.6Q832.3 985.8 940.8 976.4" stroke="#6FC58A" stroke-dasharray="7 50 2 25 6 58 7 14 4 19" stroke-dashoffset="13"/><path d="M723.9 1000.4Q832.3 994.9 940.8 985.2" stroke="#2FB0C0" stroke-dasharray="3 34 4 22 5 33 4 51 4 39" stroke-dashoffset="35"/><path d="M723.9 1008.6Q832.3 1003.3 940.8 993.4" stroke="#2FB0C0" stroke-dasharray="2 58 6 24 3 25 4 20 2 60" stroke-dashoffset="33"/><path d="M723.9 1014.6Q832.3 1009.5 940.8 999.4" stroke="#6FC58A" stroke-dasharray="8 37 2 30 5 56 6 35 6 16" stroke-dashoffset="27"/><path d="M723.9 1024.3Q832.3 1019.4 940.8 1009.1" stroke="#D0B040" stroke-dasharray="5 27 2 18 3 35 7 24 5 43" stroke-dashoffset="25"/><path d="M723.9 1030.4Q832.3 1025.7 940.8 1015.3" stroke="#D0B040" stroke-dasharray="8 39 6 23 8 48 5 47 7 45" stroke-dashoffset="18"/><path d="M723.9 1040.4Q832.3 1035.8 940.8 1025.2" stroke="#6FC58A" stroke-dasharray="7 24 4 44 4 27 2 57 6 25" stroke-dashoffset="18"/><path d="M723.9 1048.4Q832.3 1044.1 940.8 1033.2" stroke="#2FB0C0" stroke-dasharray="6 24 5 20 7 16 6 28 7 20" stroke-dashoffset="27"/><path d="M723.9 1056.2Q832.3 1052.1 940.8 1041.0" stroke="#2FB0C0" stroke-dasharray="3 31 7 26 2 34 8 21 9 37" stroke-dashoffset="6"/></g><g clip-path="url(#cwb2)"><ellipse cx="836.7" cy="950.3" rx="78.1" ry="9.0" fill="#3E26A8" opacity="0.85" transform="rotate(-7 836.7 950.3)"/></g><g font-size="7.7" fill="#3c3c3c"><g text-anchor="end"><text x="720.7" y="888.5">50</text><text x="720.7" y="905.4">100</text><text x="720.7" y="922.4">150</text><text x="720.7" y="939.3">200</text><text x="720.7" y="956.3">250</text><text x="720.7" y="973.3">300</text><text x="720.7" y="990.2">350</text><text x="720.7" y="1007.2">400</text><text x="720.7" y="1024.1">450</text></g><g text-anchor="middle"><text x="757.6" y="1043.1">100</text><text x="791.5" y="1043.1">200</text><text x="825.4" y="1043.1">300</text><text x="859.3" y="1043.1">400</text><text x="893.2" y="1043.1">500</text><text x="927.1" y="1043.1">600</text></g></g><path d="M723.9 885.7h2M940.8 885.7h-2M723.9 902.6h2M940.8 902.6h-2M723.9 919.6h2M940.8 919.6h-2M723.9 936.6h2M940.8 936.6h-2M723.9 953.5h2M940.8 953.5h-2M723.9 970.5h2M940.8 970.5h-2M723.9 987.4h2M940.8 987.4h-2M723.9 1004.4h2M940.8 1004.4h-2M723.9 1021.4h2M940.8 1021.4h-2M757.6 1031.7v-2M757.6 868.9v2M791.5 1031.7v-2M791.5 868.9v2M825.4 1031.7v-2M825.4 868.9v2M859.3 1031.7v-2M859.3 868.9v2M893.2 1031.7v-2M893.2 868.9v2M927.1 1031.7v-2M927.1 868.9v2" stroke="#333" stroke-width="0.5" opacity="0.6" fill="none"/><text x="838.8" y="861.6" font-size="11.2" text-anchor="middle" fill="#000">Wood, <tspan class="scr">ℬ</tspan></text><rect x="1027.5" y="868.9" width="216.7" height="162.8" fill="#3E26A8"/><g clip-path="url(#ccb2)" fill="none" stroke-width="0.9" opacity="0.85"><path d="M997.5 1031.7L1014.0 868.9" stroke="#C9A050" stroke-dasharray="8 9 8 3 6 5 6 3" stroke-dashoffset="4"/><path d="M1001.8 1031.7L1018.4 868.9" stroke="#35A8C8" stroke-dasharray="5 4 5 2 3 7 5 6" stroke-dashoffset="15"/><path d="M1006.1 1031.7L1022.8 868.9" stroke="#C9A050" stroke-dasharray="5 2 7 6 7 6 9 5" stroke-dashoffset="15"/><path d="M1010.3 1031.7L1027.1 868.9" stroke="#35A8C8" stroke-dasharray="5 6 7 4 3 5 7 6" stroke-dashoffset="9"/><path d="M1014.6 1031.7L1031.5 868.9" stroke="#C9A050" stroke-dasharray="6 3 3 4 8 3 3 3" stroke-dashoffset="1"/><path d="M1018.9 1031.7L1035.9 868.9" stroke="#35A8C8" stroke-dasharray="4 6 8 4 5 4 4 7" stroke-dashoffset="11"/><path d="M1023.2 1031.7L1040.2 868.9" stroke="#C9A050" stroke-dasharray="4 3 7 7 8 4 6 8" stroke-dashoffset="12"/><path d="M1027.5 1031.7L1044.6 868.9" stroke="#35A8C8" stroke-dasharray="9 3 9 2 5 2 8 7" stroke-dashoffset="19"/><path d="M1031.8 1031.7L1049.0 868.9" stroke="#C9A050" stroke-dasharray="8 9 6 9 7 4 9 5" stroke-dashoffset="4"/><path d="M1036.0 1031.7L1053.3 868.9" stroke="#35A8C8" stroke-dasharray="3 5 3 9 9 4 3 6" stroke-dashoffset="3"/><path d="M1040.3 1031.7L1057.7 868.9" stroke="#C9A050" stroke-dasharray="6 8 4 5 8 5 4 8" stroke-dashoffset="16"/><path d="M1044.6 1031.7L1062.1 868.9" stroke="#35A8C8" stroke-dasharray="8 7 5 7 8 6 4 4" stroke-dashoffset="8"/><path d="M1048.9 1031.7L1066.4 868.9" stroke="#C9A050" stroke-dasharray="7 6 6 8 3 6 4 6" stroke-dashoffset="17"/><path d="M1053.2 1031.7L1070.8 868.9" stroke="#35A8C8" stroke-dasharray="4 9 3 6 6 4 6 5" stroke-dashoffset="9"/><path d="M1057.5 1031.7L1075.2 868.9" stroke="#C9A050" stroke-dasharray="7 2 5 7 3 8 3 7" stroke-dashoffset="3"/><path d="M1061.7 1031.7L1079.5 868.9" stroke="#35A8C8" stroke-dasharray="5 5 3 7 5 7 6 6" stroke-dashoffset="11"/><path d="M1066.0 1031.7L1083.9 868.9" stroke="#C9A050" stroke-dasharray="4 8 3 8 8 5 7 7" stroke-dashoffset="12"/><path d="M1070.3 1031.7L1088.3 868.9" stroke="#35A8C8" stroke-dasharray="4 4 4 4 9 4 5 5" stroke-dashoffset="16"/><path d="M1074.6 1031.7L1092.6 868.9" stroke="#C9A050" stroke-dasharray="5 6 4 4 3 4 4 8" stroke-dashoffset="10"/><path d="M1078.9 1031.7L1097.0 868.9" stroke="#35A8C8" stroke-dasharray="3 5 3 6 5 8 4 8" stroke-dashoffset="5"/><path d="M1083.2 1031.7L1101.4 868.9" stroke="#C9A050" stroke-dasharray="9 6 2 8 4 5 3 8" stroke-dashoffset="2"/><path d="M1087.4 1031.7L1105.7 868.9" stroke="#35A8C8" stroke-dasharray="7 5 7 4 3 8 7 3" stroke-dashoffset="20"/><path d="M1091.7 1031.7L1110.1 868.9" stroke="#C9A050" stroke-dasharray="8 3 2 6 3 7 5 7" stroke-dashoffset="11"/><path d="M1096.0 1031.7L1114.5 868.9" stroke="#35A8C8" stroke-dasharray="7 8 6 6 4 3 3 8" stroke-dashoffset="4"/><path d="M1100.3 1031.7L1118.8 868.9" stroke="#C9A050" stroke-dasharray="5 4 6 6 8 5 5 7" stroke-dashoffset="15"/><path d="M1104.6 1031.7L1123.2 868.9" stroke="#35A8C8" stroke-dasharray="8 4 8 9 9 3 5 7" stroke-dashoffset="17"/><path d="M1108.8 1031.7L1127.6 868.9" stroke="#C9A050" stroke-dasharray="2 5 7 7 6 3 5 2" stroke-dashoffset="6"/><path d="M1113.1 1031.7L1131.9 868.9" stroke="#35A8C8" stroke-dasharray="5 8 6 5 4 4 7 5" stroke-dashoffset="3"/><path d="M1117.4 1031.7L1136.3 868.9" stroke="#C9A050" stroke-dasharray="8 6 9 6 6 5 6 8" stroke-dashoffset="20"/><path d="M1121.7 1031.7L1140.7 868.9" stroke="#35A8C8" stroke-dasharray="7 5 2 8 5 5 2 2" stroke-dashoffset="8"/><path d="M1126.0 1031.7L1145.1 868.9" stroke="#C9A050" stroke-dasharray="9 7 7 7 4 3 6 2" stroke-dashoffset="12"/><path d="M1130.3 1031.7L1149.4 868.9" stroke="#35A8C8" stroke-dasharray="6 6 3 2 5 3 6 4" stroke-dashoffset="12"/><path d="M1134.5 1031.7L1153.8 868.9" stroke="#C9A050" stroke-dasharray="7 6 6 3 4 9 4 4" stroke-dashoffset="10"/><path d="M1138.8 1031.7L1158.2 868.9" stroke="#35A8C8" stroke-dasharray="6 8 4 9 2 8 6 8" stroke-dashoffset="3"/><path d="M1143.1 1031.7L1162.5 868.9" stroke="#C9A050" stroke-dasharray="7 9 7 3 8 9 3 8" stroke-dashoffset="2"/><path d="M1147.4 1031.7L1166.9 868.9" stroke="#35A8C8" stroke-dasharray="3 8 7 9 6 6 4 6" stroke-dashoffset="20"/><path d="M1151.7 1031.7L1171.3 868.9" stroke="#C9A050" stroke-dasharray="7 8 3 7 7 2 8 3" stroke-dashoffset="4"/><path d="M1156.0 1031.7L1175.6 868.9" stroke="#35A8C8" stroke-dasharray="2 7 3 9 2 8 7 6" stroke-dashoffset="11"/><path d="M1160.2 1031.7L1180.0 868.9" stroke="#C9A050" stroke-dasharray="8 6 3 8 4 6 6 8" stroke-dashoffset="8"/><path d="M1164.5 1031.7L1184.4 868.9" stroke="#35A8C8" stroke-dasharray="8 3 4 7 6 8 3 8" stroke-dashoffset="16"/><path d="M1168.8 1031.7L1188.7 868.9" stroke="#C9A050" stroke-dasharray="3 3 6 9 6 5 6 8" stroke-dashoffset="10"/><path d="M1173.1 1031.7L1193.1 868.9" stroke="#35A8C8" stroke-dasharray="6 6 9 8 8 4 6 8" stroke-dashoffset="14"/><path d="M1177.4 1031.7L1197.5 868.9" stroke="#C9A050" stroke-dasharray="9 8 3 6 5 3 6 9" stroke-dashoffset="15"/><path d="M1181.7 1031.7L1201.8 868.9" stroke="#35A8C8" stroke-dasharray="3 4 5 8 5 3 6 4" stroke-dashoffset="1"/><path d="M1185.9 1031.7L1206.2 868.9" stroke="#C9A050" stroke-dasharray="6 9 7 7 3 6 6 7" stroke-dashoffset="9"/><path d="M1190.2 1031.7L1210.6 868.9" stroke="#35A8C8" stroke-dasharray="2 8 4 7 5 7 4 3" stroke-dashoffset="9"/><path d="M1194.5 1031.7L1214.9 868.9" stroke="#C9A050" stroke-dasharray="5 8 5 7 5 7 3 8" stroke-dashoffset="19"/><path d="M1198.8 1031.7L1219.3 868.9" stroke="#35A8C8" stroke-dasharray="2 8 7 7 3 7 7 6" stroke-dashoffset="19"/><path d="M1203.1 1031.7L1223.7 868.9" stroke="#C9A050" stroke-dasharray="9 6 8 3 4 6 6 9" stroke-dashoffset="13"/><path d="M1207.3 1031.7L1228.0 868.9" stroke="#35A8C8" stroke-dasharray="6 6 9 5 7 6 5 4" stroke-dashoffset="3"/><path d="M1211.6 1031.7L1232.4 868.9" stroke="#C9A050" stroke-dasharray="2 4 4 3 5 4 8 7" stroke-dashoffset="13"/><path d="M1215.9 1031.7L1236.8 868.9" stroke="#35A8C8" stroke-dasharray="8 4 3 6 4 9 5 8" stroke-dashoffset="5"/><path d="M1220.2 1031.7L1241.1 868.9" stroke="#C9A050" stroke-dasharray="3 6 7 4 8 9 7 9" stroke-dashoffset="20"/><path d="M1224.5 1031.7L1245.5 868.9" stroke="#35A8C8" stroke-dasharray="3 7 7 7 4 6 6 8" stroke-dashoffset="1"/><path d="M1228.8 1031.7L1249.9 868.9" stroke="#C9A050" stroke-dasharray="5 4 8 3 2 3 3 5" stroke-dashoffset="17"/><path d="M1233.0 1031.7L1254.3 868.9" stroke="#35A8C8" stroke-dasharray="4 3 7 4 6 7 5 7" stroke-dashoffset="12"/><path d="M1237.3 1031.7L1258.6 868.9" stroke="#C9A050" stroke-dasharray="8 7 8 7 4 6 7 7" stroke-dashoffset="15"/><path d="M1241.6 1031.7L1263.0 868.9" stroke="#35A8C8" stroke-dasharray="8 8 6 6 2 5 7 8" stroke-dashoffset="17"/><path d="M1245.9 1031.7L1267.4 868.9" stroke="#C9A050" stroke-dasharray="5 4 8 7 3 2 8 6" stroke-dashoffset="2"/><path d="M1250.2 1031.7L1271.7 868.9" stroke="#35A8C8" stroke-dasharray="9 6 7 8 4 6 3 6" stroke-dashoffset="9"/></g><g font-size="7.7" fill="#3c3c3c"><g text-anchor="end"><text x="1024.1" y="888.5">50</text><text x="1024.1" y="905.4">100</text><text x="1024.1" y="922.4">150</text><text x="1024.1" y="939.3">200</text><text x="1024.1" y="956.3">250</text><text x="1024.1" y="973.3">300</text><text x="1024.1" y="990.2">350</text><text x="1024.1" y="1007.2">400</text><text x="1024.1" y="1024.1">450</text></g><g text-anchor="middle"><text x="1061.2" y="1043.1">100</text><text x="1095.0" y="1043.1">200</text><text x="1128.9" y="1043.1">300</text><text x="1162.8" y="1043.1">400</text><text x="1196.6" y="1043.1">500</text><text x="1230.5" y="1043.1">600</text></g></g><path d="M1027.5 885.7h2M1244.2 885.7h-2M1027.5 902.6h2M1244.2 902.6h-2M1027.5 919.6h2M1244.2 919.6h-2M1027.5 936.6h2M1244.2 936.6h-2M1027.5 953.5h2M1244.2 953.5h-2M1027.5 970.5h2M1244.2 970.5h-2M1027.5 987.4h2M1244.2 987.4h-2M1027.5 1004.4h2M1244.2 1004.4h-2M1027.5 1021.4h2M1244.2 1021.4h-2M1061.2 1031.7v-2M1061.2 868.9v2M1095.0 1031.7v-2M1095.0 868.9v2M1128.9 1031.7v-2M1128.9 868.9v2M1162.8 1031.7v-2M1162.8 868.9v2M1196.6 1031.7v-2M1196.6 868.9v2M1230.5 1031.7v-2M1230.5 868.9v2" stroke="#333" stroke-width="0.5" opacity="0.6" fill="none"/><text x="1145.6" y="861.6" font-size="11.2" text-anchor="middle" fill="#000">Corduroy, <tspan class="scr">ℬ</tspan></text><rect x="946.8" y="868.9" width="11.6" height="162.8" fill="url(#gpar)" stroke="#555" stroke-width="0.4"/><g font-size="7.4" fill="#3c3c3c"><text x="961.5" y="1034.6">0</text><path d="M958.4 1031.7h-1.6" stroke="#333" stroke-width="0.4"/><text x="961.5" y="1009.5">200</text><path d="M958.4 1006.6h-1.6" stroke="#333" stroke-width="0.4"/><text x="961.5" y="984.4">400</text><path d="M958.4 981.5h-1.6" stroke="#333" stroke-width="0.4"/><text x="961.5" y="959.2">600</text><path d="M958.4 956.3h-1.6" stroke="#333" stroke-width="0.4"/><text x="961.5" y="934.1">800</text><path d="M958.4 931.2h-1.6" stroke="#333" stroke-width="0.4"/><text x="961.5" y="909.0">1000</text><path d="M958.4 906.1h-1.6" stroke="#333" stroke-width="0.4"/><text x="961.5" y="883.9">1200</text><path d="M958.4 881.0h-1.6" stroke="#333" stroke-width="0.4"/></g><rect x="1250.2" y="868.9" width="11.8" height="162.8" fill="url(#gpar)" stroke="#555" stroke-width="0.4"/><g font-size="7.4" fill="#3c3c3c"><text x="1265.3" y="1034.6">0</text><path d="M1262.0 1031.7h-1.6" stroke="#333" stroke-width="0.4"/><text x="1265.3" y="1009.5">200</text><path d="M1262.0 1006.6h-1.6" stroke="#333" stroke-width="0.4"/><text x="1265.3" y="984.4">400</text><path d="M1262.0 981.5h-1.6" stroke="#333" stroke-width="0.4"/><text x="1265.3" y="959.2">600</text><path d="M1262.0 956.3h-1.6" stroke="#333" stroke-width="0.4"/><text x="1265.3" y="934.1">800</text><path d="M1262.0 931.2h-1.6" stroke="#333" stroke-width="0.4"/><text x="1265.3" y="909.0">1000</text><path d="M1262.0 906.1h-1.6" stroke="#333" stroke-width="0.4"/><text x="1265.3" y="883.9">1200</text><path d="M1262.0 881.0h-1.6" stroke="#333" stroke-width="0.4"/></g><rect x="719.4" y="1074.6" width="241.9" height="100.1" fill="#fff" stroke="#7a7a7a" stroke-width="0.7"/><g font-size="7.6" fill="#3c3c3c"><g text-anchor="end"><text x="716.2" y="1177.5">0</text><text x="716.2" y="1157.5">0.5</text><text x="716.2" y="1137.5">1</text><text x="716.2" y="1117.4">1.5</text><text x="716.2" y="1097.4">2</text><text x="716.2" y="1077.4">2.5</text></g><g text-anchor="middle"><text x="724.7" y="1185.1">0</text><text x="783.9" y="1185.1">50</text><text x="843.0" y="1185.1">100</text><text x="902.2" y="1185.1">150</text><text x="961.3" y="1185.1">200</text></g><text x="720.0" y="1072.0" font-size="7.2">×10<tspan dy="-2.6" font-size="5.4">5</tspan></text></g><path d="M719.4 1174.7h2.2M961.3 1174.7h-2.2M719.4 1154.7h2.2M961.3 1154.7h-2.2M719.4 1134.7h2.2M961.3 1134.7h-2.2M719.4 1114.6h2.2M961.3 1114.6h-2.2M719.4 1094.6h2.2M961.3 1094.6h-2.2M719.4 1074.6h2.2M961.3 1074.6h-2.2M724.7 1174.7v-2.2M724.7 1074.6v2.2M783.9 1174.7v-2.2M783.9 1074.6v2.2M843.0 1174.7v-2.2M843.0 1074.6v2.2M902.2 1174.7v-2.2M902.2 1074.6v2.2M961.3 1174.7v-2.2M961.3 1074.6v2.2" stroke="#444" stroke-width="0.5" fill="none"/><path d="M724.17 1174.7v-65.7h1.1v65.7zM727.72 1174.7v-9.6h1.1v9.6zM728.90 1174.7v-12.0h1.1v12.0zM730.09 1174.7v-6.4h1.1v6.4zM745.46 1174.7v-2.0h1.1v2.0zM749.01 1174.7v-3.6h1.1v3.6zM752.56 1174.7v-2.0h1.1v2.0zM757.29 1174.7v-2.4h1.1v2.4zM759.66 1174.7v-0.8h1.1v0.8zM851.92 1174.7v-1.2h1.1v1.2zM873.22 1174.7v-0.5h1.1v0.5zM876.77 1174.7v-1.0h1.1v1.0zM894.51 1174.7v-1.2h1.1v1.2z" fill="#3b78a3" stroke="#2a5a7d" stroke-width="0.35"/><text x="839.0" y="1065.8" font-size="11.2" text-anchor="middle" fill="#000">Wood, <tspan class="scr">ℬ</tspan> <tspan class="mf" font-style="italic">ϵ</tspan> <tspan class="mf" font-size="12.5">[0, 200]</tspan></text><rect x="1022.4" y="1074.6" width="245.1" height="101.1" fill="#fff" stroke="#7a7a7a" stroke-width="0.7"/><g font-size="7.6" fill="#3c3c3c"><g text-anchor="end"><text x="1019.2" y="1178.5">0</text><text x="1019.2" y="1158.3">0.5</text><text x="1019.2" y="1138.1">1</text><text x="1019.2" y="1117.8">1.5</text><text x="1019.2" y="1097.6">2</text><text x="1019.2" y="1077.4">2.5</text></g><g text-anchor="middle"><text x="1027.8" y="1186.1">0</text><text x="1087.7" y="1186.1">50</text><text x="1147.6" y="1186.1">100</text><text x="1207.6" y="1186.1">150</text><text x="1267.5" y="1186.1">200</text></g><text x="1023.0" y="1072.0" font-size="7.2">×10<tspan dy="-2.6" font-size="5.4">5</tspan></text></g><path d="M1022.4 1175.7h2.2M1267.5 1175.7h-2.2M1022.4 1155.5h2.2M1267.5 1155.5h-2.2M1022.4 1135.3h2.2M1267.5 1135.3h-2.2M1022.4 1115.0h2.2M1267.5 1115.0h-2.2M1022.4 1094.8h2.2M1267.5 1094.8h-2.2M1022.4 1074.6h2.2M1267.5 1074.6h-2.2M1027.8 1175.7v-2.2M1027.8 1074.6v2.2M1087.7 1175.7v-2.2M1087.7 1074.6v2.2M1147.6 1175.7v-2.2M1147.6 1074.6v2.2M1207.6 1175.7v-2.2M1207.6 1074.6v2.2M1267.5 1175.7v-2.2M1267.5 1074.6v2.2" stroke="#444" stroke-width="0.5" fill="none"/><path d="M1027.24 1175.7v-90.6h1.1v90.6zM1030.84 1175.7v-4.4h1.1v4.4zM1032.04 1175.7v-3.2h1.1v3.2zM1033.24 1175.7v-2.0h1.1v2.0zM1048.82 1175.7v-0.5h1.1v0.5zM1052.41 1175.7v-0.8h1.1v0.8zM1056.01 1175.7v-0.4h1.1v0.4zM1060.80 1175.7v-0.4h1.1v0.4zM1156.68 1175.7v-0.6h1.1v0.6zM1178.26 1175.7v-0.4h1.1v0.4zM1181.85 1175.7v-0.6h1.1v0.6zM1199.83 1175.7v-0.6h1.1v0.6z" fill="#3b78a3" stroke="#2a5a7d" stroke-width="0.35"/><text x="1151.0" y="1065.8" font-size="11.2" text-anchor="middle" fill="#000">Corduroy, <tspan class="scr">ℬ</tspan> <tspan class="mf" font-style="italic">ϵ</tspan> <tspan class="mf" font-size="12.5">[0, 200]</tspan></text><text x="893.6" y="778.8" font-size="19" style="font-family:'DejaVu Math TeX Gyre','DejaVu Sans',serif">ℬ</text><text x="908.4" y="778.8" font-size="19.5" text-anchor="start" class="mf" stroke="#000" stroke-width="0.21" textLength="42.5" lengthAdjust="spacingAndGlyphs"><tspan dy="-0.00" style="font-style:normal;font-size:17.6px">(</tspan><tspan dy="-0.00" style="font-style:italic;font-weight:bold">x</tspan><tspan dy="-0.00" style="font-style:normal;font-size:17.6px">)</tspan><tspan dy="-0.00" style="font-style:normal;font-size:19.5px"> = </tspan></text><text x="964.8" y="783.0" font-size="31" text-anchor="middle" style="font-family:'DejaVu Math TeX Gyre','DejaVu Sans',serif" textLength="25.5" lengthAdjust="spacingAndGlyphs">∑</text><text x="967.0" y="752.8" font-size="13.5" text-anchor="middle" class="mf" stroke="#000" stroke-width="0.15"><tspan dy="-0.00" style="font-style:normal;font-size:12.2px">3</tspan></text><text x="967.0" y="801.6" font-size="13.5" text-anchor="middle" class="mf" stroke="#000" stroke-width="0.15"><tspan dy="-0.00" style="font-style:italic">i</tspan><tspan dy="-0.00" style="font-style:normal;font-size:12.2px">=0</tspan></text><text x="980.0" y="778.8" font-size="19.5" text-anchor="start" class="mf" stroke="#000" stroke-width="0.21"><tspan dy="-0.00" style="font-style:normal;font-size:17.6px">(</tspan></text><text x="986.2" y="778.8" font-size="19" style="font-family:'DejaVu Math TeX Gyre','DejaVu Sans',serif">ℒ</text><text x="999.6" y="778.8" font-size="19.5" text-anchor="start" class="mf" stroke="#000" stroke-width="0.21" textLength="90.6" lengthAdjust="spacingAndGlyphs"><tspan dy="-0.00" style="font-style:normal;font-size:17.6px">(</tspan><tspan dy="-0.00" style="font-style:italic;font-weight:bold">x</tspan><tspan dy="-0.00" style="font-style:normal;font-size:17.6px">; </tspan><tspan dy="-0.00" style="font-style:italic">i</tspan><tspan dy="-0.00" style="font-style:normal;font-size:17.6px">)</tspan><tspan dy="-0.00" style="font-style:normal;font-size:19.5px"> − </tspan><tspan dy="-0.00" style="font-style:normal;font-size:17.6px">1)6</tspan><tspan dy="-6.44" style="font-style:italic;font-size:12.9px">i</tspan></text></svg><div class="h" style="left:1351.6px;top:179.00px;letter-spacing:1.01px">Confusion matrix</div><div class="ul" style="left:1351.6px;top:203.5px;width:196.3px"></div><div class="t j " style="left:1351.6px;top:221.00px;width:596.4px;font-size:17.8px;line-height:21.4px">The distances between the histograms for the 30 images are determined</div><div class="t l " style="left:1351.6px;top:242.00px;width:596.4px;font-size:17.8px;line-height:21.4px">based on the <span class="m" style="font-size:19px;line-height:1px">L</span><span class="mr" style="font-size:13px;position:relative;top:3.5px;line-height:1px">1</span>-norm, and a confusion matrix is created.</div><div class="h" style="left:1345.0px;top:724.00px;letter-spacing:1.10px">Discussion</div><div class="ul" style="left:1345.0px;top:748.6px;width:127.0px"></div><div class="t j " style="left:1352.0px;top:768.00px;width:596.0px;font-size:17.8px;line-height:21.4px">Wood and corduroy are both easy to recognize when looking at the labeling</div><div class="t j " style="left:1352.0px;top:789.00px;width:596.0px;font-size:17.8px;line-height:21.4px">figures and comparing them to the raw image. In both cases, most labels</div><div class="t j " style="left:1352.0px;top:810.00px;width:596.0px;font-size:17.8px;line-height:21.4px">are classified as slope for all σ, but there is still some difference between</div><div class="t l " style="left:1352.0px;top:832.00px;width:596.0px;font-size:17.8px;line-height:21.4px">them as seen in the confusion matrix.</div><div class="t j " style="left:1352.0px;top:853.00px;width:596.0px;font-size:17.8px;line-height:21.4px">In both cases the distribution of the types of labels are most evenly spaced</div><div class="t l " style="left:1352.0px;top:875.00px;width:596.0px;font-size:17.8px;line-height:21.4px">for σ<span class="mr" style="font-size:19.5px;line-height:1px;word-spacing:1.3px;-webkit-text-stroke:0.15px #000"> = 1</span>. This is also the case in general.</div><div class="t j " style="left:1352.0px;top:896.00px;width:596.0px;font-size:17.8px;line-height:21.4px">The confusion matrix shows that the differences within a class in general</div><div class="t j " style="left:1352.0px;top:917.00px;width:596.0px;font-size:17.8px;line-height:21.4px">are small. However, there are some significantly varying images for the</div><div class="t j " style="left:1352.0px;top:939.00px;width:596.0px;font-size:17.8px;line-height:21.4px">upholstery class, where especially image one and two for that class are</div><div class="t j " style="left:1352.0px;top:960.00px;width:596.0px;font-size:17.8px;line-height:21.4px">significantly different from the other three images for the class. It can be</div><div class="t l " style="left:1352.0px;top:982.00px;width:596.0px;font-size:17.8px;line-height:21.4px">noted, that those two images also differ from other classes.</div><div class="t j " style="left:1352.0px;top:1003.00px;width:596.0px;font-size:17.8px;line-height:21.4px">As the differences are low within a class, and higher between classes, one</div><div class="t l " style="left:1352.0px;top:1024.00px;width:596.0px;font-size:17.8px;line-height:21.4px">should be able to use this for object classification for most materials.</div><div class="t l " style="left:1340.2px;top:1154.00px;width:619.8px;font-size:14.5px;line-height:18px"><span style="letter-spacing:0.6px">References</span></div><div class="t l " style="left:1340.2px;top:1172.00px;width:619.8px;font-size:12.08px;line-height:14px">A. B. Dahl and V. A. Dahl: Part IV – Mini Projects. 02506 Advanced Image Analysis (April 2023)</div><svg style="left:0;top:0" width="2000" height="1235" viewBox="0 0 2000 1235"><defs><linearGradient id="ggray" x1="0" y1="1" x2="0" y2="0"><stop offset="0" stop-color="#000"/><stop offset="1" stop-color="#fff"/></linearGradient></defs><rect x="1428.2" y="281.0" width="399.8" height="357.2" fill="#333"/><g shape-rendering="crispEdges"><rect x="1428.2" y="281.0" width="13.7" height="12.3" fill="#000000"/><rect x="1441.5" y="281.0" width="13.7" height="12.3" fill="#080808"/><rect x="1454.9" y="281.0" width="13.7" height="12.3" fill="#161616"/><rect x="1468.2" y="281.0" width="13.7" height="12.3" fill="#0a0a0a"/><rect x="1481.5" y="281.0" width="13.7" height="12.3" fill="#161616"/><rect x="1494.8" y="281.0" width="13.7" height="12.3" fill="#3a3a3a"/><rect x="1508.2" y="281.0" width="27.1" height="12.3" fill="#323232"/><rect x="1534.8" y="281.0" width="13.7" height="12.3" fill="#3c3c3c"/><rect x="1548.1" y="281.0" width="13.7" height="12.3" fill="#3e3e3e"/><rect x="1561.5" y="281.0" width="13.7" height="12.3" fill="#2e2e2e"/><rect x="1574.8" y="281.0" width="13.7" height="12.3" fill="#343434"/><rect x="1588.1" y="281.0" width="13.7" height="12.3" fill="#1c1c1c"/><rect x="1601.4" y="281.0" width="13.7" height="12.3" fill="#3c3c3c"/><rect x="1614.8" y="281.0" width="13.7" height="12.3" fill="#343434"/><rect x="1628.1" y="281.0" width="13.7" height="12.3" fill="#222222"/><rect x="1641.4" y="281.0" width="13.7" height="12.3" fill="#2a2a2a"/><rect x="1654.8" y="281.0" width="13.7" height="12.3" fill="#202020"/><rect x="1668.1" y="281.0" width="27.1" height="12.3" fill="#1a1a1a"/><rect x="1694.7" y="281.0" width="13.7" height="12.3" fill="#7d7d7d"/><rect x="1708.1" y="281.0" width="13.7" height="12.3" fill="#767676"/><rect x="1721.4" y="281.0" width="13.7" height="12.3" fill="#2e2e2e"/><rect x="1734.7" y="281.0" width="13.7" height="12.3" fill="#323232"/><rect x="1748.0" y="281.0" width="13.7" height="12.3" fill="#282828"/><rect x="1761.4" y="281.0" width="13.7" height="12.3" fill="#555555"/><rect x="1774.7" y="281.0" width="13.7" height="12.3" fill="#5c5c5c"/><rect x="1788.0" y="281.0" width="13.7" height="12.3" fill="#464646"/><rect x="1801.3" y="281.0" width="13.7" height="12.3" fill="#3c3c3c"/><rect x="1814.7" y="281.0" width="13.7" height="12.3" fill="#555555"/><rect x="1428.2" y="292.9" width="13.7" height="12.3" fill="#080808"/><rect x="1441.5" y="292.9" width="13.7" height="12.3" fill="#000000"/><rect x="1454.9" y="292.9" width="13.7" height="12.3" fill="#161616"/><rect x="1468.2" y="292.9" width="13.7" height="12.3" fill="#0a0a0a"/><rect x="1481.5" y="292.9" width="13.7" height="12.3" fill="#161616"/><rect x="1494.8" y="292.9" width="13.7" height="12.3" fill="#373737"/><rect x="1508.2" y="292.9" width="27.1" height="12.3" fill="#2f2f2f"/><rect x="1534.8" y="292.9" width="13.7" height="12.3" fill="#393939"/><rect x="1548.1" y="292.9" width="13.7" height="12.3" fill="#3a3a3a"/><rect x="1561.5" y="292.9" width="13.7" height="12.3" fill="#303030"/><rect x="1574.8" y="292.9" width="13.7" height="12.3" fill="#363636"/><rect x="1588.1" y="292.9" width="13.7" height="12.3" fill="#1a1a1a"/><rect x="1601.4" y="292.9" width="13.7" height="12.3" fill="#3c3c3c"/><rect x="1614.8" y="292.9" width="13.7" height="12.3" fill="#343434"/><rect x="1628.1" y="292.9" width="13.7" height="12.3" fill="#202020"/><rect x="1641.4" y="292.9" width="13.7" height="12.3" fill="#282828"/><rect x="1654.8" y="292.9" width="13.7" height="12.3" fill="#1e1e1e"/><rect x="1668.1" y="292.9" width="27.1" height="12.3" fill="#181818"/><rect x="1694.7" y="292.9" width="13.7" height="12.3" fill="#787878"/><rect x="1708.1" y="292.9" width="13.7" height="12.3" fill="#707070"/><rect x="1721.4" y="292.9" width="13.7" height="12.3" fill="#2d2d2d"/><rect x="1734.7" y="292.9" width="13.7" height="12.3" fill="#323232"/><rect x="1748.0" y="292.9" width="13.7" height="12.3" fill="#2a2a2a"/><rect x="1761.4" y="292.9" width="13.7" height="12.3" fill="#585858"/><rect x="1774.7" y="292.9" width="13.7" height="12.3" fill="#5f5f5f"/><rect x="1788.0" y="292.9" width="13.7" height="12.3" fill="#484848"/><rect x="1801.3" y="292.9" width="13.7" height="12.3" fill="#3c3c3c"/><rect x="1814.7" y="292.9" width="13.7" height="12.3" fill="#585858"/><rect x="1428.2" y="304.8" width="27.1" height="12.3" fill="#161616"/><rect x="1454.9" y="304.8" width="13.7" height="12.3" fill="#000000"/><rect x="1468.2" y="304.8" width="13.7" height="12.3" fill="#0e0e0e"/><rect x="1481.5" y="304.8" width="13.7" height="12.3" fill="#060606"/><rect x="1494.8" y="304.8" width="13.7" height="12.3" fill="#282828"/><rect x="1508.2" y="304.8" width="27.1" height="12.3" fill="#212121"/><rect x="1534.8" y="304.8" width="13.7" height="12.3" fill="#262626"/><rect x="1548.1" y="304.8" width="13.7" height="12.3" fill="#282828"/><rect x="1561.5" y="304.8" width="13.7" height="12.3" fill="#3e3e3e"/><rect x="1574.8" y="304.8" width="13.7" height="12.3" fill="#484848"/><rect x="1588.1" y="304.8" width="13.7" height="12.3" fill="#282828"/><rect x="1601.4" y="304.8" width="13.7" height="12.3" fill="#505050"/><rect x="1614.8" y="304.8" width="13.7" height="12.3" fill="#464646"/><rect x="1628.1" y="304.8" width="13.7" height="12.3" fill="#363636"/><rect x="1641.4" y="304.8" width="13.7" height="12.3" fill="#404040"/><rect x="1654.8" y="304.8" width="13.7" height="12.3" fill="#303030"/><rect x="1668.1" y="304.8" width="27.1" height="12.3" fill="#282828"/><rect x="1694.7" y="304.8" width="13.7" height="12.3" fill="#646464"/><rect x="1708.1" y="304.8" width="13.7" height="12.3" fill="#5c5c5c"/><rect x="1721.4" y="304.8" width="13.7" height="12.3" fill="#2d2d2d"/><rect x="1734.7" y="304.8" width="13.7" height="12.3" fill="#323232"/><rect x="1748.0" y="304.8" width="13.7" height="12.3" fill="#343434"/><rect x="1761.4" y="304.8" width="13.7" height="12.3" fill="#6c6c6c"/><rect x="1774.7" y="304.8" width="13.7" height="12.3" fill="#747474"/><rect x="1788.0" y="304.8" width="13.7" height="12.3" fill="#5c5c5c"/><rect x="1801.3" y="304.8" width="13.7" height="12.3" fill="#4c4c4c"/><rect x="1814.7" y="304.8" width="13.7" height="12.3" fill="#696969"/><rect x="1428.2" y="316.7" width="27.1" height="12.3" fill="#0a0a0a"/><rect x="1454.9" y="316.7" width="13.7" height="12.3" fill="#0e0e0e"/><rect x="1468.2" y="316.7" width="13.7" height="12.3" fill="#000000"/><rect x="1481.5" y="316.7" width="13.7" height="12.3" fill="#0e0e0e"/><rect x="1494.8" y="316.7" width="13.7" height="12.3" fill="#323232"/><rect x="1508.2" y="316.7" width="13.7" height="12.3" fill="#2a2a2a"/><rect x="1521.5" y="316.7" width="13.7" height="12.3" fill="#282828"/><rect x="1534.8" y="316.7" width="13.7" height="12.3" fill="#323232"/><rect x="1548.1" y="316.7" width="27.1" height="12.3" fill="#343434"/><rect x="1574.8" y="316.7" width="13.7" height="12.3" fill="#3c3c3c"/><rect x="1588.1" y="316.7" width="13.7" height="12.3" fill="#202020"/><rect x="1601.4" y="316.7" width="13.7" height="12.3" fill="#444444"/><rect x="1614.8" y="316.7" width="13.7" height="12.3" fill="#3c3c3c"/><rect x="1628.1" y="316.7" width="13.7" height="12.3" fill="#282828"/><rect x="1641.4" y="316.7" width="13.7" height="12.3" fill="#303030"/><rect x="1654.8" y="316.7" width="13.7" height="12.3" fill="#262626"/><rect x="1668.1" y="316.7" width="27.1" height="12.3" fill="#202020"/><rect x="1694.7" y="316.7" width="13.7" height="12.3" fill="#737373"/><rect x="1708.1" y="316.7" width="13.7" height="12.3" fill="#6c6c6c"/><rect x="1721.4" y="316.7" width="13.7" height="12.3" fill="#282828"/><rect x="1734.7" y="316.7" width="13.7" height="12.3" fill="#2c2c2c"/><rect x="1748.0" y="316.7" width="13.7" height="12.3" fill="#2a2a2a"/><rect x="1761.4" y="316.7" width="13.7" height="12.3" fill="#5c5c5c"/><rect x="1774.7" y="316.7" width="13.7" height="12.3" fill="#646464"/><rect x="1788.0" y="316.7" width="13.7" height="12.3" fill="#4e4e4e"/><rect x="1801.3" y="316.7" width="13.7" height="12.3" fill="#404040"/><rect x="1814.7" y="316.7" width="13.7" height="12.3" fill="#5c5c5c"/><rect x="1428.2" y="328.6" width="27.1" height="12.3" fill="#161616"/><rect x="1454.9" y="328.6" width="13.7" height="12.3" fill="#060606"/><rect x="1468.2" y="328.6" width="13.7" height="12.3" fill="#0e0e0e"/><rect x="1481.5" y="328.6" width="13.7" height="12.3" fill="#000000"/><rect x="1494.8" y="328.6" width="13.7" height="12.3" fill="#2a2a2a"/><rect x="1508.2" y="328.6" width="27.1" height="12.3" fill="#232323"/><rect x="1534.8" y="328.6" width="13.7" height="12.3" fill="#2a2a2a"/><rect x="1548.1" y="328.6" width="13.7" height="12.3" fill="#2c2c2c"/><rect x="1561.5" y="328.6" width="13.7" height="12.3" fill="#424242"/><rect x="1574.8" y="328.6" width="13.7" height="12.3" fill="#4a4a4a"/><rect x="1588.1" y="328.6" width="13.7" height="12.3" fill="#2c2c2c"/><rect x="1601.4" y="328.6" width="13.7" height="12.3" fill="#525252"/><rect x="1614.8" y="328.6" width="13.7" height="12.3" fill="#484848"/><rect x="1628.1" y="328.6" width="13.7" height="12.3" fill="#383838"/><rect x="1641.4" y="328.6" width="13.7" height="12.3" fill="#404040"/><rect x="1654.8" y="328.6" width="13.7" height="12.3" fill="#323232"/><rect x="1668.1" y="328.6" width="27.1" height="12.3" fill="#2a2a2a"/><rect x="1694.7" y="328.6" width="13.7" height="12.3" fill="#6c6c6c"/><rect x="1708.1" y="328.6" width="13.7" height="12.3" fill="#646464"/><rect x="1721.4" y="328.6" width="13.7" height="12.3" fill="#2e2e2e"/><rect x="1734.7" y="328.6" width="13.7" height="12.3" fill="#323232"/><rect x="1748.0" y="328.6" width="13.7" height="12.3" fill="#343434"/><rect x="1761.4" y="328.6" width="13.7" height="12.3" fill="#6c6c6c"/><rect x="1774.7" y="328.6" width="13.7" height="12.3" fill="#727272"/><rect x="1788.0" y="328.6" width="13.7" height="12.3" fill="#5a5a5a"/><rect x="1801.3" y="328.6" width="13.7" height="12.3" fill="#4c4c4c"/><rect x="1814.7" y="328.6" width="13.7" height="12.3" fill="#696969"/><rect x="1428.2" y="340.5" width="13.7" height="12.3" fill="#3a3a3a"/><rect x="1441.5" y="340.5" width="13.7" height="12.3" fill="#373737"/><rect x="1454.9" y="340.5" width="13.7" height="12.3" fill="#282828"/><rect x="1468.2" y="340.5" width="13.7" height="12.3" fill="#323232"/><rect x="1481.5" y="340.5" width="13.7" height="12.3" fill="#2a2a2a"/><rect x="1494.8" y="340.5" width="13.7" height="12.3" fill="#000000"/><rect x="1508.2" y="340.5" width="27.1" height="12.3" fill="#0a0a0a"/><rect x="1534.8" y="340.5" width="13.7" height="12.3" fill="#141414"/><rect x="1548.1" y="340.5" width="13.7" height="12.3" fill="#161616"/><rect x="1561.5" y="340.5" width="13.7" height="12.3" fill="#646464"/><rect x="1574.8" y="340.5" width="13.7" height="12.3" fill="#6c6c6c"/><rect x="1588.1" y="340.5" width="13.7" height="12.3" fill="#4a4a4a"/><rect x="1601.4" y="340.5" width="13.7" height="12.3" fill="#747474"/><rect x="1614.8" y="340.5" width="13.7" height="12.3" fill="#686868"/><rect x="1628.1" y="340.5" width="13.7" height="12.3" fill="#585858"/><rect x="1641.4" y="340.5" width="13.7" height="12.3" fill="#606060"/><rect x="1654.8" y="340.5" width="13.7" height="12.3" fill="#505050"/><rect x="1668.1" y="340.5" width="13.7" height="12.3" fill="#484848"/><rect x="1681.4" y="340.5" width="13.7" height="12.3" fill="#4a4a4a"/><rect x="1694.7" y="340.5" width="13.7" height="12.3" fill="#6c6c6c"/><rect x="1708.1" y="340.5" width="13.7" height="12.3" fill="#626262"/><rect x="1721.4" y="340.5" width="13.7" height="12.3" fill="#484848"/><rect x="1734.7" y="340.5" width="27.1" height="12.3" fill="#4c4c4c"/><rect x="1761.4" y="340.5" width="13.7" height="12.3" fill="#8a8a8a"/><rect x="1774.7" y="340.5" width="13.7" height="12.3" fill="#8c8c8c"/><rect x="1788.0" y="340.5" width="13.7" height="12.3" fill="#767676"/><rect x="1801.3" y="340.5" width="13.7" height="12.3" fill="#6c6c6c"/><rect x="1814.7" y="340.5" width="13.7" height="12.3" fill="#828282"/><rect x="1428.2" y="352.4" width="13.7" height="12.3" fill="#323232"/><rect x="1441.5" y="352.4" width="13.7" height="12.3" fill="#2f2f2f"/><rect x="1454.9" y="352.4" width="13.7" height="12.3" fill="#212121"/><rect x="1468.2" y="352.4" width="13.7" height="12.3" fill="#2a2a2a"/><rect x="1481.5" y="352.4" width="13.7" height="12.3" fill="#232323"/><rect x="1494.8" y="352.4" width="13.7" height="12.3" fill="#0a0a0a"/><rect x="1508.2" y="352.4" width="13.7" height="12.3" fill="#000000"/><rect x="1521.5" y="352.4" width="13.7" height="12.3" fill="#080808"/><rect x="1534.8" y="352.4" width="13.7" height="12.3" fill="#121212"/><rect x="1548.1" y="352.4" width="13.7" height="12.3" fill="#141414"/><rect x="1561.5" y="352.4" width="13.7" height="12.3" fill="#606060"/><rect x="1574.8" y="352.4" width="13.7" height="12.3" fill="#646464"/><rect x="1588.1" y="352.4" width="13.7" height="12.3" fill="#424242"/><rect x="1601.4" y="352.4" width="13.7" height="12.3" fill="#6c6c6c"/><rect x="1614.8" y="352.4" width="13.7" height="12.3" fill="#626262"/><rect x="1628.1" y="352.4" width="13.7" height="12.3" fill="#505050"/><rect x="1641.4" y="352.4" width="13.7" height="12.3" fill="#585858"/><rect x="1654.8" y="352.4" width="13.7" height="12.3" fill="#484848"/><rect x="1668.1" y="352.4" width="13.7" height="12.3" fill="#404040"/><rect x="1681.4" y="352.4" width="13.7" height="12.3" fill="#444444"/><rect x="1694.7" y="352.4" width="13.7" height="12.3" fill="#6c6c6c"/><rect x="1708.1" y="352.4" width="13.7" height="12.3" fill="#606060"/><rect x="1721.4" y="352.4" width="13.7" height="12.3" fill="#444444"/><rect x="1734.7" y="352.4" width="27.1" height="12.3" fill="#484848"/><rect x="1761.4" y="352.4" width="13.7" height="12.3" fill="#828282"/><rect x="1774.7" y="352.4" width="13.7" height="12.3" fill="#848484"/><rect x="1788.0" y="352.4" width="13.7" height="12.3" fill="#707070"/><rect x="1801.3" y="352.4" width="13.7" height="12.3" fill="#646464"/><rect x="1814.7" y="352.4" width="13.7" height="12.3" fill="#7a7a7a"/><rect x="1428.2" y="364.3" width="13.7" height="12.3" fill="#323232"/><rect x="1441.5" y="364.3" width="13.7" height="12.3" fill="#2f2f2f"/><rect x="1454.9" y="364.3" width="13.7" height="12.3" fill="#212121"/><rect x="1468.2" y="364.3" width="13.7" height="12.3" fill="#282828"/><rect x="1481.5" y="364.3" width="13.7" height="12.3" fill="#232323"/><rect x="1494.8" y="364.3" width="13.7" height="12.3" fill="#0a0a0a"/><rect x="1508.2" y="364.3" width="13.7" height="12.3" fill="#080808"/><rect x="1521.5" y="364.3" width="13.7" height="12.3" fill="#000000"/><rect x="1534.8" y="364.3" width="13.7" height="12.3" fill="#161616"/><rect x="1548.1" y="364.3" width="13.7" height="12.3" fill="#181818"/><rect x="1561.5" y="364.3" width="13.7" height="12.3" fill="#606060"/><rect x="1574.8" y="364.3" width="13.7" height="12.3" fill="#646464"/><rect x="1588.1" y="364.3" width="13.7" height="12.3" fill="#424242"/><rect x="1601.4" y="364.3" width="13.7" height="12.3" fill="#6c6c6c"/><rect x="1614.8" y="364.3" width="13.7" height="12.3" fill="#626262"/><rect x="1628.1" y="364.3" width="13.7" height="12.3" fill="#505050"/><rect x="1641.4" y="364.3" width="13.7" height="12.3" fill="#585858"/><rect x="1654.8" y="364.3" width="13.7" height="12.3" fill="#484848"/><rect x="1668.1" y="364.3" width="13.7" height="12.3" fill="#3e3e3e"/><rect x="1681.4" y="364.3" width="13.7" height="12.3" fill="#424242"/><rect x="1694.7" y="364.3" width="13.7" height="12.3" fill="#6c6c6c"/><rect x="1708.1" y="364.3" width="13.7" height="12.3" fill="#606060"/><rect x="1721.4" y="364.3" width="13.7" height="12.3" fill="#404040"/><rect x="1734.7" y="364.3" width="27.1" height="12.3" fill="#464646"/><rect x="1761.4" y="364.3" width="13.7" height="12.3" fill="#828282"/><rect x="1774.7" y="364.3" width="13.7" height="12.3" fill="#868686"/><rect x="1788.0" y="364.3" width="13.7" height="12.3" fill="#707070"/><rect x="1801.3" y="364.3" width="13.7" height="12.3" fill="#646464"/><rect x="1814.7" y="364.3" width="13.7" height="12.3" fill="#7a7a7a"/><rect x="1428.2" y="376.3" width="13.7" height="12.3" fill="#3c3c3c"/><rect x="1441.5" y="376.3" width="13.7" height="12.3" fill="#393939"/><rect x="1454.9" y="376.3" width="13.7" height="12.3" fill="#262626"/><rect x="1468.2" y="376.3" width="13.7" height="12.3" fill="#323232"/><rect x="1481.5" y="376.3" width="13.7" height="12.3" fill="#2a2a2a"/><rect x="1494.8" y="376.3" width="13.7" height="12.3" fill="#141414"/><rect x="1508.2" y="376.3" width="13.7" height="12.3" fill="#121212"/><rect x="1521.5" y="376.3" width="13.7" height="12.3" fill="#161616"/><rect x="1534.8" y="376.3" width="13.7" height="12.3" fill="#000000"/><rect x="1548.1" y="376.3" width="13.7" height="12.3" fill="#080808"/><rect x="1561.5" y="376.3" width="13.7" height="12.3" fill="#686868"/><rect x="1574.8" y="376.3" width="13.7" height="12.3" fill="#6e6e6e"/><rect x="1588.1" y="376.3" width="13.7" height="12.3" fill="#4c4c4c"/><rect x="1601.4" y="376.3" width="13.7" height="12.3" fill="#787878"/><rect x="1614.8" y="376.3" width="13.7" height="12.3" fill="#6c6c6c"/><rect x="1628.1" y="376.3" width="13.7" height="12.3" fill="#5c5c5c"/><rect x="1641.4" y="376.3" width="13.7" height="12.3" fill="#646464"/><rect x="1654.8" y="376.3" width="13.7" height="12.3" fill="#525252"/><rect x="1668.1" y="376.3" width="13.7" height="12.3" fill="#484848"/><rect x="1681.4" y="376.3" width="13.7" height="12.3" fill="#4c4c4c"/><rect x="1694.7" y="376.3" width="13.7" height="12.3" fill="#5f5f5f"/><rect x="1708.1" y="376.3" width="13.7" height="12.3" fill="#525252"/><rect x="1721.4" y="376.3" width="13.7" height="12.3" fill="#4c4c4c"/><rect x="1734.7" y="376.3" width="13.7" height="12.3" fill="#505050"/><rect x="1748.0" y="376.3" width="13.7" height="12.3" fill="#525252"/><rect x="1761.4" y="376.3" width="13.7" height="12.3" fill="#919191"/><rect x="1774.7" y="376.3" width="13.7" height="12.3" fill="#969696"/><rect x="1788.0" y="376.3" width="13.7" height="12.3" fill="#7c7c7c"/><rect x="1801.3" y="376.3" width="13.7" height="12.3" fill="#707070"/><rect x="1814.7" y="376.3" width="13.7" height="12.3" fill="#8a8a8a"/><rect x="1428.2" y="388.2" width="13.7" height="12.3" fill="#3e3e3e"/><rect x="1441.5" y="388.2" width="13.7" height="12.3" fill="#3a3a3a"/><rect x="1454.9" y="388.2" width="13.7" height="12.3" fill="#282828"/><rect x="1468.2" y="388.2" width="13.7" height="12.3" fill="#343434"/><rect x="1481.5" y="388.2" width="13.7" height="12.3" fill="#2c2c2c"/><rect x="1494.8" y="388.2" width="13.7" height="12.3" fill="#161616"/><rect x="1508.2" y="388.2" width="13.7" height="12.3" fill="#141414"/><rect x="1521.5" y="388.2" width="13.7" height="12.3" fill="#181818"/><rect x="1534.8" y="388.2" width="13.7" height="12.3" fill="#080808"/><rect x="1548.1" y="388.2" width="13.7" height="12.3" fill="#000000"/><rect x="1561.5" y="388.2" width="13.7" height="12.3" fill="#686868"/><rect x="1574.8" y="388.2" width="13.7" height="12.3" fill="#6e6e6e"/><rect x="1588.1" y="388.2" width="13.7" height="12.3" fill="#4c4c4c"/><rect x="1601.4" y="388.2" width="13.7" height="12.3" fill="#787878"/><rect x="1614.8" y="388.2" width="13.7" height="12.3" fill="#6c6c6c"/><rect x="1628.1" y="388.2" width="13.7" height="12.3" fill="#5e5e5e"/><rect x="1641.4" y="388.2" width="13.7" height="12.3" fill="#666666"/><rect x="1654.8" y="388.2" width="13.7" height="12.3" fill="#545454"/><rect x="1668.1" y="388.2" width="13.7" height="12.3" fill="#484848"/><rect x="1681.4" y="388.2" width="13.7" height="12.3" fill="#4e4e4e"/><rect x="1694.7" y="388.2" width="13.7" height="12.3" fill="#5c5c5c"/><rect x="1708.1" y="388.2" width="13.7" height="12.3" fill="#505050"/><rect x="1721.4" y="388.2" width="13.7" height="12.3" fill="#525252"/><rect x="1734.7" y="388.2" width="13.7" height="12.3" fill="#565656"/><rect x="1748.0" y="388.2" width="13.7" height="12.3" fill="#585858"/><rect x="1761.4" y="388.2" width="13.7" height="12.3" fill="#919191"/><rect x="1774.7" y="388.2" width="13.7" height="12.3" fill="#969696"/><rect x="1788.0" y="388.2" width="13.7" height="12.3" fill="#7c7c7c"/><rect x="1801.3" y="388.2" width="13.7" height="12.3" fill="#707070"/><rect x="1814.7" y="388.2" width="13.7" height="12.3" fill="#8a8a8a"/><rect x="1428.2" y="400.1" width="13.7" height="12.3" fill="#2e2e2e"/><rect x="1441.5" y="400.1" width="13.7" height="12.3" fill="#303030"/><rect x="1454.9" y="400.1" width="13.7" height="12.3" fill="#3e3e3e"/><rect x="1468.2" y="400.1" width="13.7" height="12.3" fill="#343434"/><rect x="1481.5" y="400.1" width="13.7" height="12.3" fill="#424242"/><rect x="1494.8" y="400.1" width="13.7" height="12.3" fill="#646464"/><rect x="1508.2" y="400.1" width="27.1" height="12.3" fill="#606060"/><rect x="1534.8" y="400.1" width="27.1" height="12.3" fill="#686868"/><rect x="1561.5" y="400.1" width="13.7" height="12.3" fill="#000000"/><rect x="1574.8" y="400.1" width="13.7" height="12.3" fill="#0a0a0a"/><rect x="1588.1" y="400.1" width="13.7" height="12.3" fill="#222222"/><rect x="1601.4" y="400.1" width="13.7" height="12.3" fill="#101010"/><rect x="1614.8" y="400.1" width="13.7" height="12.3" fill="#0c0c0c"/><rect x="1628.1" y="400.1" width="13.7" height="12.3" fill="#161616"/><rect x="1641.4" y="400.1" width="13.7" height="12.3" fill="#0e0e0e"/><rect x="1654.8" y="400.1" width="13.7" height="12.3" fill="#1e1e1e"/><rect x="1668.1" y="400.1" width="13.7" height="12.3" fill="#242424"/><rect x="1681.4" y="400.1" width="13.7" height="12.3" fill="#222222"/><rect x="1694.7" y="400.1" width="13.7" height="12.3" fill="#a5a5a5"/><rect x="1708.1" y="400.1" width="13.7" height="12.3" fill="#949494"/><rect x="1721.4" y="400.1" width="13.7" height="12.3" fill="#3c3c3c"/><rect x="1734.7" y="400.1" width="13.7" height="12.3" fill="#3e3e3e"/><rect x="1748.0" y="400.1" width="13.7" height="12.3" fill="#363636"/><rect x="1761.4" y="400.1" width="13.7" height="12.3" fill="#383838"/><rect x="1774.7" y="400.1" width="13.7" height="12.3" fill="#424242"/><rect x="1788.0" y="400.1" width="13.7" height="12.3" fill="#282828"/><rect x="1801.3" y="400.1" width="13.7" height="12.3" fill="#303030"/><rect x="1814.7" y="400.1" width="13.7" height="12.3" fill="#363636"/><rect x="1428.2" y="412.0" width="13.7" height="12.3" fill="#343434"/><rect x="1441.5" y="412.0" width="13.7" height="12.3" fill="#363636"/><rect x="1454.9" y="412.0" width="13.7" height="12.3" fill="#484848"/><rect x="1468.2" y="412.0" width="13.7" height="12.3" fill="#3c3c3c"/><rect x="1481.5" y="412.0" width="13.7" height="12.3" fill="#4a4a4a"/><rect x="1494.8" y="412.0" width="13.7" height="12.3" fill="#6c6c6c"/><rect x="1508.2" y="412.0" width="27.1" height="12.3" fill="#646464"/><rect x="1534.8" y="412.0" width="27.1" height="12.3" fill="#6e6e6e"/><rect x="1561.5" y="412.0" width="13.7" height="12.3" fill="#0a0a0a"/><rect x="1574.8" y="412.0" width="13.7" height="12.3" fill="#000000"/><rect x="1588.1" y="412.0" width="13.7" height="12.3" fill="#262626"/><rect x="1601.4" y="412.0" width="13.7" height="12.3" fill="#080808"/><rect x="1614.8" y="412.0" width="13.7" height="12.3" fill="#060606"/><rect x="1628.1" y="412.0" width="13.7" height="12.3" fill="#1a1a1a"/><rect x="1641.4" y="412.0" width="13.7" height="12.3" fill="#101010"/><rect x="1654.8" y="412.0" width="13.7" height="12.3" fill="#222222"/><rect x="1668.1" y="412.0" width="13.7" height="12.3" fill="#2a2a2a"/><rect x="1681.4" y="412.0" width="13.7" height="12.3" fill="#262626"/><rect x="1694.7" y="412.0" width="13.7" height="12.3" fill="#aaaaaa"/><rect x="1708.1" y="412.0" width="13.7" height="12.3" fill="#969696"/><rect x="1721.4" y="412.0" width="13.7" height="12.3" fill="#3e3e3e"/><rect x="1734.7" y="412.0" width="13.7" height="12.3" fill="#404040"/><rect x="1748.0" y="412.0" width="13.7" height="12.3" fill="#383838"/><rect x="1761.4" y="412.0" width="13.7" height="12.3" fill="#303030"/><rect x="1774.7" y="412.0" width="13.7" height="12.3" fill="#3a3a3a"/><rect x="1788.0" y="412.0" width="13.7" height="12.3" fill="#262626"/><rect x="1801.3" y="412.0" width="13.7" height="12.3" fill="#303030"/><rect x="1814.7" y="412.0" width="13.7" height="12.3" fill="#323232"/><rect x="1428.2" y="423.9" width="13.7" height="12.3" fill="#1c1c1c"/><rect x="1441.5" y="423.9" width="13.7" height="12.3" fill="#1a1a1a"/><rect x="1454.9" y="423.9" width="13.7" height="12.3" fill="#282828"/><rect x="1468.2" y="423.9" width="13.7" height="12.3" fill="#202020"/><rect x="1481.5" y="423.9" width="13.7" height="12.3" fill="#2c2c2c"/><rect x="1494.8" y="423.9" width="13.7" height="12.3" fill="#4a4a4a"/><rect x="1508.2" y="423.9" width="27.1" height="12.3" fill="#424242"/><rect x="1534.8" y="423.9" width="27.1" height="12.3" fill="#4c4c4c"/><rect x="1561.5" y="423.9" width="13.7" height="12.3" fill="#222222"/><rect x="1574.8" y="423.9" width="13.7" height="12.3" fill="#262626"/><rect x="1588.1" y="423.9" width="13.7" height="12.3" fill="#000000"/><rect x="1601.4" y="423.9" width="13.7" height="12.3" fill="#2e2e2e"/><rect x="1614.8" y="423.9" width="13.7" height="12.3" fill="#282828"/><rect x="1628.1" y="423.9" width="13.7" height="12.3" fill="#1c1c1c"/><rect x="1641.4" y="423.9" width="13.7" height="12.3" fill="#1e1e1e"/><rect x="1654.8" y="423.9" width="13.7" height="12.3" fill="#101010"/><rect x="1668.1" y="423.9" width="13.7" height="12.3" fill="#0a0a0a"/><rect x="1681.4" y="423.9" width="13.7" height="12.3" fill="#0e0e0e"/><rect x="1694.7" y="423.9" width="13.7" height="12.3" fill="#828282"/><rect x="1708.1" y="423.9" width="13.7" height="12.3" fill="#767676"/><rect x="1721.4" y="423.9" width="13.7" height="12.3" fill="#323232"/><rect x="1734.7" y="423.9" width="13.7" height="12.3" fill="#343434"/><rect x="1748.0" y="423.9" width="13.7" height="12.3" fill="#2e2e2e"/><rect x="1761.4" y="423.9" width="13.7" height="12.3" fill="#545454"/><rect x="1774.7" y="423.9" width="13.7" height="12.3" fill="#5e5e5e"/><rect x="1788.0" y="423.9" width="13.7" height="12.3" fill="#424242"/><rect x="1801.3" y="423.9" width="13.7" height="12.3" fill="#363636"/><rect x="1814.7" y="423.9" width="13.7" height="12.3" fill="#505050"/><rect x="1428.2" y="435.8" width="27.1" height="12.3" fill="#3c3c3c"/><rect x="1454.9" y="435.8" width="13.7" height="12.3" fill="#505050"/><rect x="1468.2" y="435.8" width="13.7" height="12.3" fill="#444444"/><rect x="1481.5" y="435.8" width="13.7" height="12.3" fill="#525252"/><rect x="1494.8" y="435.8" width="13.7" height="12.3" fill="#747474"/><rect x="1508.2" y="435.8" width="27.1" height="12.3" fill="#6c6c6c"/><rect x="1534.8" y="435.8" width="27.1" height="12.3" fill="#787878"/><rect x="1561.5" y="435.8" width="13.7" height="12.3" fill="#101010"/><rect x="1574.8" y="435.8" width="13.7" height="12.3" fill="#080808"/><rect x="1588.1" y="435.8" width="13.7" height="12.3" fill="#2e2e2e"/><rect x="1601.4" y="435.8" width="13.7" height="12.3" fill="#000000"/><rect x="1614.8" y="435.8" width="13.7" height="12.3" fill="#0a0a0a"/><rect x="1628.1" y="435.8" width="13.7" height="12.3" fill="#202020"/><rect x="1641.4" y="435.8" width="13.7" height="12.3" fill="#181818"/><rect x="1654.8" y="435.8" width="13.7" height="12.3" fill="#2c2c2c"/><rect x="1668.1" y="435.8" width="13.7" height="12.3" fill="#323232"/><rect x="1681.4" y="435.8" width="13.7" height="12.3" fill="#2e2e2e"/><rect x="1694.7" y="435.8" width="13.7" height="12.3" fill="#afafaf"/><rect x="1708.1" y="435.8" width="13.7" height="12.3" fill="#9b9b9b"/><rect x="1721.4" y="435.8" width="13.7" height="12.3" fill="#424242"/><rect x="1734.7" y="435.8" width="13.7" height="12.3" fill="#444444"/><rect x="1748.0" y="435.8" width="13.7" height="12.3" fill="#3c3c3c"/><rect x="1761.4" y="435.8" width="13.7" height="12.3" fill="#2e2e2e"/><rect x="1774.7" y="435.8" width="13.7" height="12.3" fill="#3c3c3c"/><rect x="1788.0" y="435.8" width="13.7" height="12.3" fill="#282828"/><rect x="1801.3" y="435.8" width="13.7" height="12.3" fill="#343434"/><rect x="1814.7" y="435.8" width="13.7" height="12.3" fill="#323232"/><rect x="1428.2" y="447.7" width="27.1" height="12.3" fill="#343434"/><rect x="1454.9" y="447.7" width="13.7" height="12.3" fill="#464646"/><rect x="1468.2" y="447.7" width="13.7" height="12.3" fill="#3c3c3c"/><rect x="1481.5" y="447.7" width="13.7" height="12.3" fill="#484848"/><rect x="1494.8" y="447.7" width="13.7" height="12.3" fill="#686868"/><rect x="1508.2" y="447.7" width="27.1" height="12.3" fill="#626262"/><rect x="1534.8" y="447.7" width="27.1" height="12.3" fill="#6c6c6c"/><rect x="1561.5" y="447.7" width="13.7" height="12.3" fill="#0c0c0c"/><rect x="1574.8" y="447.7" width="13.7" height="12.3" fill="#060606"/><rect x="1588.1" y="447.7" width="13.7" height="12.3" fill="#282828"/><rect x="1601.4" y="447.7" width="13.7" height="12.3" fill="#0a0a0a"/><rect x="1614.8" y="447.7" width="13.7" height="12.3" fill="#000000"/><rect x="1628.1" y="447.7" width="13.7" height="12.3" fill="#1a1a1a"/><rect x="1641.4" y="447.7" width="13.7" height="12.3" fill="#121212"/><rect x="1654.8" y="447.7" width="13.7" height="12.3" fill="#262626"/><rect x="1668.1" y="447.7" width="13.7" height="12.3" fill="#2e2e2e"/><rect x="1681.4" y="447.7" width="13.7" height="12.3" fill="#2a2a2a"/><rect x="1694.7" y="447.7" width="13.7" height="12.3" fill="#a5a5a5"/><rect x="1708.1" y="447.7" width="13.7" height="12.3" fill="#949494"/><rect x="1721.4" y="447.7" width="13.7" height="12.3" fill="#3c3c3c"/><rect x="1734.7" y="447.7" width="13.7" height="12.3" fill="#3e3e3e"/><rect x="1748.0" y="447.7" width="13.7" height="12.3" fill="#383838"/><rect x="1761.4" y="447.7" width="13.7" height="12.3" fill="#303030"/><rect x="1774.7" y="447.7" width="13.7" height="12.3" fill="#3c3c3c"/><rect x="1788.0" y="447.7" width="13.7" height="12.3" fill="#282828"/><rect x="1801.3" y="447.7" width="13.7" height="12.3" fill="#363636"/><rect x="1814.7" y="447.7" width="13.7" height="12.3" fill="#343434"/><rect x="1428.2" y="459.6" width="13.7" height="12.3" fill="#222222"/><rect x="1441.5" y="459.6" width="13.7" height="12.3" fill="#202020"/><rect x="1454.9" y="459.6" width="13.7" height="12.3" fill="#363636"/><rect x="1468.2" y="459.6" width="13.7" height="12.3" fill="#282828"/><rect x="1481.5" y="459.6" width="13.7" height="12.3" fill="#383838"/><rect x="1494.8" y="459.6" width="13.7" height="12.3" fill="#585858"/><rect x="1508.2" y="459.6" width="27.1" height="12.3" fill="#505050"/><rect x="1534.8" y="459.6" width="13.7" height="12.3" fill="#5c5c5c"/><rect x="1548.1" y="459.6" width="13.7" height="12.3" fill="#5e5e5e"/><rect x="1561.5" y="459.6" width="13.7" height="12.3" fill="#161616"/><rect x="1574.8" y="459.6" width="13.7" height="12.3" fill="#1a1a1a"/><rect x="1588.1" y="459.6" width="13.7" height="12.3" fill="#1c1c1c"/><rect x="1601.4" y="459.6" width="13.7" height="12.3" fill="#202020"/><rect x="1614.8" y="459.6" width="13.7" height="12.3" fill="#1a1a1a"/><rect x="1628.1" y="459.6" width="13.7" height="12.3" fill="#000000"/><rect x="1641.4" y="459.6" width="13.7" height="12.3" fill="#080808"/><rect x="1654.8" y="459.6" width="13.7" height="12.3" fill="#0c0c0c"/><rect x="1668.1" y="459.6" width="27.1" height="12.3" fill="#181818"/><rect x="1694.7" y="459.6" width="13.7" height="12.3" fill="#969696"/><rect x="1708.1" y="459.6" width="13.7" height="12.3" fill="#8a8a8a"/><rect x="1721.4" y="459.6" width="13.7" height="12.3" fill="#3e3e3e"/><rect x="1734.7" y="459.6" width="13.7" height="12.3" fill="#404040"/><rect x="1748.0" y="459.6" width="13.7" height="12.3" fill="#3a3a3a"/><rect x="1761.4" y="459.6" width="13.7" height="12.3" fill="#3e3e3e"/><rect x="1774.7" y="459.6" width="13.7" height="12.3" fill="#484848"/><rect x="1788.0" y="459.6" width="13.7" height="12.3" fill="#2e2e2e"/><rect x="1801.3" y="459.6" width="13.7" height="12.3" fill="#2c2c2c"/><rect x="1814.7" y="459.6" width="13.7" height="12.3" fill="#3c3c3c"/><rect x="1428.2" y="471.5" width="13.7" height="12.3" fill="#2a2a2a"/><rect x="1441.5" y="471.5" width="13.7" height="12.3" fill="#282828"/><rect x="1454.9" y="471.5" width="13.7" height="12.3" fill="#404040"/><rect x="1468.2" y="471.5" width="13.7" height="12.3" fill="#303030"/><rect x="1481.5" y="471.5" width="13.7" height="12.3" fill="#404040"/><rect x="1494.8" y="471.5" width="13.7" height="12.3" fill="#606060"/><rect x="1508.2" y="471.5" width="27.1" height="12.3" fill="#585858"/><rect x="1534.8" y="471.5" width="13.7" height="12.3" fill="#646464"/><rect x="1548.1" y="471.5" width="13.7" height="12.3" fill="#666666"/><rect x="1561.5" y="471.5" width="13.7" height="12.3" fill="#0e0e0e"/><rect x="1574.8" y="471.5" width="13.7" height="12.3" fill="#101010"/><rect x="1588.1" y="471.5" width="13.7" height="12.3" fill="#1e1e1e"/><rect x="1601.4" y="471.5" width="13.7" height="12.3" fill="#181818"/><rect x="1614.8" y="471.5" width="13.7" height="12.3" fill="#121212"/><rect x="1628.1" y="471.5" width="13.7" height="12.3" fill="#080808"/><rect x="1641.4" y="471.5" width="13.7" height="12.3" fill="#000000"/><rect x="1654.8" y="471.5" width="13.7" height="12.3" fill="#141414"/><rect x="1668.1" y="471.5" width="13.7" height="12.3" fill="#202020"/><rect x="1681.4" y="471.5" width="13.7" height="12.3" fill="#1e1e1e"/><rect x="1694.7" y="471.5" width="13.7" height="12.3" fill="#9b9b9b"/><rect x="1708.1" y="471.5" width="13.7" height="12.3" fill="#8c8c8c"/><rect x="1721.4" y="471.5" width="13.7" height="12.3" fill="#404040"/><rect x="1734.7" y="471.5" width="13.7" height="12.3" fill="#424242"/><rect x="1748.0" y="471.5" width="13.7" height="12.3" fill="#3a3a3a"/><rect x="1761.4" y="471.5" width="13.7" height="12.3" fill="#363636"/><rect x="1774.7" y="471.5" width="13.7" height="12.3" fill="#404040"/><rect x="1788.0" y="471.5" width="13.7" height="12.3" fill="#2a2a2a"/><rect x="1801.3" y="471.5" width="13.7" height="12.3" fill="#2e2e2e"/><rect x="1814.7" y="471.5" width="13.7" height="12.3" fill="#363636"/><rect x="1428.2" y="483.4" width="13.7" height="12.3" fill="#202020"/><rect x="1441.5" y="483.4" width="13.7" height="12.3" fill="#1e1e1e"/><rect x="1454.9" y="483.4" width="13.7" height="12.3" fill="#303030"/><rect x="1468.2" y="483.4" width="13.7" height="12.3" fill="#262626"/><rect x="1481.5" y="483.4" width="13.7" height="12.3" fill="#323232"/><rect x="1494.8" y="483.4" width="13.7" height="12.3" fill="#505050"/><rect x="1508.2" y="483.4" width="27.1" height="12.3" fill="#484848"/><rect x="1534.8" y="483.4" width="13.7" height="12.3" fill="#525252"/><rect x="1548.1" y="483.4" width="13.7" height="12.3" fill="#545454"/><rect x="1561.5" y="483.4" width="13.7" height="12.3" fill="#1e1e1e"/><rect x="1574.8" y="483.4" width="13.7" height="12.3" fill="#222222"/><rect x="1588.1" y="483.4" width="13.7" height="12.3" fill="#101010"/><rect x="1601.4" y="483.4" width="13.7" height="12.3" fill="#2c2c2c"/><rect x="1614.8" y="483.4" width="13.7" height="12.3" fill="#262626"/><rect x="1628.1" y="483.4" width="13.7" height="12.3" fill="#0c0c0c"/><rect x="1641.4" y="483.4" width="13.7" height="12.3" fill="#141414"/><rect x="1654.8" y="483.4" width="13.7" height="12.3" fill="#000000"/><rect x="1668.1" y="483.4" width="13.7" height="12.3" fill="#0e0e0e"/><rect x="1681.4" y="483.4" width="13.7" height="12.3" fill="#101010"/><rect x="1694.7" y="483.4" width="13.7" height="12.3" fill="#878787"/><rect x="1708.1" y="483.4" width="13.7" height="12.3" fill="#7d7d7d"/><rect x="1721.4" y="483.4" width="13.7" height="12.3" fill="#3c3c3c"/><rect x="1734.7" y="483.4" width="13.7" height="12.3" fill="#3e3e3e"/><rect x="1748.0" y="483.4" width="13.7" height="12.3" fill="#383838"/><rect x="1761.4" y="483.4" width="13.7" height="12.3" fill="#4a4a4a"/><rect x="1774.7" y="483.4" width="13.7" height="12.3" fill="#545454"/><rect x="1788.0" y="483.4" width="13.7" height="12.3" fill="#3a3a3a"/><rect x="1801.3" y="483.4" width="13.7" height="12.3" fill="#2e2e2e"/><rect x="1814.7" y="483.4" width="13.7" height="12.3" fill="#464646"/><rect x="1428.2" y="495.3" width="13.7" height="12.3" fill="#1a1a1a"/><rect x="1441.5" y="495.3" width="13.7" height="12.3" fill="#181818"/><rect x="1454.9" y="495.3" width="13.7" height="12.3" fill="#282828"/><rect x="1468.2" y="495.3" width="13.7" height="12.3" fill="#202020"/><rect x="1481.5" y="495.3" width="13.7" height="12.3" fill="#2a2a2a"/><rect x="1494.8" y="495.3" width="13.7" height="12.3" fill="#484848"/><rect x="1508.2" y="495.3" width="13.7" height="12.3" fill="#404040"/><rect x="1521.5" y="495.3" width="13.7" height="12.3" fill="#3e3e3e"/><rect x="1534.8" y="495.3" width="27.1" height="12.3" fill="#484848"/><rect x="1561.5" y="495.3" width="13.7" height="12.3" fill="#242424"/><rect x="1574.8" y="495.3" width="13.7" height="12.3" fill="#2a2a2a"/><rect x="1588.1" y="495.3" width="13.7" height="12.3" fill="#0a0a0a"/><rect x="1601.4" y="495.3" width="13.7" height="12.3" fill="#323232"/><rect x="1614.8" y="495.3" width="13.7" height="12.3" fill="#2e2e2e"/><rect x="1628.1" y="495.3" width="13.7" height="12.3" fill="#181818"/><rect x="1641.4" y="495.3" width="13.7" height="12.3" fill="#202020"/><rect x="1654.8" y="495.3" width="13.7" height="12.3" fill="#0e0e0e"/><rect x="1668.1" y="495.3" width="13.7" height="12.3" fill="#000000"/><rect x="1681.4" y="495.3" width="13.7" height="12.3" fill="#0e0e0e"/><rect x="1694.7" y="495.3" width="13.7" height="12.3" fill="#7d7d7d"/><rect x="1708.1" y="495.3" width="13.7" height="12.3" fill="#737373"/><rect x="1721.4" y="495.3" width="13.7" height="12.3" fill="#363636"/><rect x="1734.7" y="495.3" width="13.7" height="12.3" fill="#383838"/><rect x="1748.0" y="495.3" width="13.7" height="12.3" fill="#323232"/><rect x="1761.4" y="495.3" width="13.7" height="12.3" fill="#565656"/><rect x="1774.7" y="495.3" width="13.7" height="12.3" fill="#606060"/><rect x="1788.0" y="495.3" width="13.7" height="12.3" fill="#424242"/><rect x="1801.3" y="495.3" width="13.7" height="12.3" fill="#363636"/><rect x="1814.7" y="495.3" width="13.7" height="12.3" fill="#525252"/><rect x="1428.2" y="507.2" width="13.7" height="12.3" fill="#1a1a1a"/><rect x="1441.5" y="507.2" width="13.7" height="12.3" fill="#181818"/><rect x="1454.9" y="507.2" width="13.7" height="12.3" fill="#282828"/><rect x="1468.2" y="507.2" width="13.7" height="12.3" fill="#202020"/><rect x="1481.5" y="507.2" width="13.7" height="12.3" fill="#2a2a2a"/><rect x="1494.8" y="507.2" width="13.7" height="12.3" fill="#4a4a4a"/><rect x="1508.2" y="507.2" width="13.7" height="12.3" fill="#444444"/><rect x="1521.5" y="507.2" width="13.7" height="12.3" fill="#424242"/><rect x="1534.8" y="507.2" width="13.7" height="12.3" fill="#4c4c4c"/><rect x="1548.1" y="507.2" width="13.7" height="12.3" fill="#4e4e4e"/><rect x="1561.5" y="507.2" width="13.7" height="12.3" fill="#222222"/><rect x="1574.8" y="507.2" width="13.7" height="12.3" fill="#262626"/><rect x="1588.1" y="507.2" width="13.7" height="12.3" fill="#0e0e0e"/><rect x="1601.4" y="507.2" width="13.7" height="12.3" fill="#2e2e2e"/><rect x="1614.8" y="507.2" width="13.7" height="12.3" fill="#2a2a2a"/><rect x="1628.1" y="507.2" width="13.7" height="12.3" fill="#181818"/><rect x="1641.4" y="507.2" width="13.7" height="12.3" fill="#1e1e1e"/><rect x="1654.8" y="507.2" width="13.7" height="12.3" fill="#101010"/><rect x="1668.1" y="507.2" width="13.7" height="12.3" fill="#0e0e0e"/><rect x="1681.4" y="507.2" width="13.7" height="12.3" fill="#000000"/><rect x="1694.7" y="507.2" width="13.7" height="12.3" fill="#828282"/><rect x="1708.1" y="507.2" width="13.7" height="12.3" fill="#767676"/><rect x="1721.4" y="507.2" width="13.7" height="12.3" fill="#383838"/><rect x="1734.7" y="507.2" width="13.7" height="12.3" fill="#3a3a3a"/><rect x="1748.0" y="507.2" width="13.7" height="12.3" fill="#343434"/><rect x="1761.4" y="507.2" width="13.7" height="12.3" fill="#525252"/><rect x="1774.7" y="507.2" width="13.7" height="12.3" fill="#5c5c5c"/><rect x="1788.0" y="507.2" width="13.7" height="12.3" fill="#404040"/><rect x="1801.3" y="507.2" width="13.7" height="12.3" fill="#363636"/><rect x="1814.7" y="507.2" width="13.7" height="12.3" fill="#505050"/><rect x="1428.2" y="519.1" width="13.7" height="12.3" fill="#7d7d7d"/><rect x="1441.5" y="519.1" width="13.7" height="12.3" fill="#787878"/><rect x="1454.9" y="519.1" width="13.7" height="12.3" fill="#646464"/><rect x="1468.2" y="519.1" width="13.7" height="12.3" fill="#737373"/><rect x="1481.5" y="519.1" width="53.7" height="12.3" fill="#6c6c6c"/><rect x="1534.8" y="519.1" width="13.7" height="12.3" fill="#5f5f5f"/><rect x="1548.1" y="519.1" width="13.7" height="12.3" fill="#5c5c5c"/><rect x="1561.5" y="519.1" width="13.7" height="12.3" fill="#a5a5a5"/><rect x="1574.8" y="519.1" width="13.7" height="12.3" fill="#aaaaaa"/><rect x="1588.1" y="519.1" width="13.7" height="12.3" fill="#828282"/><rect x="1601.4" y="519.1" width="13.7" height="12.3" fill="#afafaf"/><rect x="1614.8" y="519.1" width="13.7" height="12.3" fill="#a5a5a5"/><rect x="1628.1" y="519.1" width="13.7" height="12.3" fill="#969696"/><rect x="1641.4" y="519.1" width="13.7" height="12.3" fill="#9b9b9b"/><rect x="1654.8" y="519.1" width="13.7" height="12.3" fill="#878787"/><rect x="1668.1" y="519.1" width="13.7" height="12.3" fill="#7d7d7d"/><rect x="1681.4" y="519.1" width="13.7" height="12.3" fill="#828282"/><rect x="1694.7" y="519.1" width="13.7" height="12.3" fill="#000000"/><rect x="1708.1" y="519.1" width="13.7" height="12.3" fill="#1e1e1e"/><rect x="1721.4" y="519.1" width="13.7" height="12.3" fill="#7d7d7d"/><rect x="1734.7" y="519.1" width="13.7" height="12.3" fill="#828282"/><rect x="1748.0" y="519.1" width="13.7" height="12.3" fill="#7a7a7a"/><rect x="1761.4" y="519.1" width="13.7" height="12.3" fill="#d2d2d2"/><rect x="1774.7" y="519.1" width="13.7" height="12.3" fill="#d7d7d7"/><rect x="1788.0" y="519.1" width="13.7" height="12.3" fill="#c3c3c3"/><rect x="1801.3" y="519.1" width="13.7" height="12.3" fill="#b2b2b2"/><rect x="1814.7" y="519.1" width="13.7" height="12.3" fill="#cdcdcd"/><rect x="1428.2" y="531.0" width="13.7" height="12.3" fill="#767676"/><rect x="1441.5" y="531.0" width="13.7" height="12.3" fill="#707070"/><rect x="1454.9" y="531.0" width="13.7" height="12.3" fill="#5c5c5c"/><rect x="1468.2" y="531.0" width="13.7" height="12.3" fill="#6c6c6c"/><rect x="1481.5" y="531.0" width="13.7" height="12.3" fill="#646464"/><rect x="1494.8" y="531.0" width="13.7" height="12.3" fill="#626262"/><rect x="1508.2" y="531.0" width="27.1" height="12.3" fill="#606060"/><rect x="1534.8" y="531.0" width="13.7" height="12.3" fill="#525252"/><rect x="1548.1" y="531.0" width="13.7" height="12.3" fill="#505050"/><rect x="1561.5" y="531.0" width="13.7" height="12.3" fill="#949494"/><rect x="1574.8" y="531.0" width="13.7" height="12.3" fill="#969696"/><rect x="1588.1" y="531.0" width="13.7" height="12.3" fill="#767676"/><rect x="1601.4" y="531.0" width="13.7" height="12.3" fill="#9b9b9b"/><rect x="1614.8" y="531.0" width="13.7" height="12.3" fill="#949494"/><rect x="1628.1" y="531.0" width="13.7" height="12.3" fill="#8a8a8a"/><rect x="1641.4" y="531.0" width="13.7" height="12.3" fill="#8c8c8c"/><rect x="1654.8" y="531.0" width="13.7" height="12.3" fill="#7d7d7d"/><rect x="1668.1" y="531.0" width="13.7" height="12.3" fill="#737373"/><rect x="1681.4" y="531.0" width="13.7" height="12.3" fill="#767676"/><rect x="1694.7" y="531.0" width="13.7" height="12.3" fill="#1e1e1e"/><rect x="1708.1" y="531.0" width="13.7" height="12.3" fill="#000000"/><rect x="1721.4" y="531.0" width="13.7" height="12.3" fill="#6c6c6c"/><rect x="1734.7" y="531.0" width="13.7" height="12.3" fill="#707070"/><rect x="1748.0" y="531.0" width="13.7" height="12.3" fill="#696969"/><rect x="1761.4" y="531.0" width="13.7" height="12.3" fill="#c3c3c3"/><rect x="1774.7" y="531.0" width="13.7" height="12.3" fill="#c8c8c8"/><rect x="1788.0" y="531.0" width="13.7" height="12.3" fill="#b2b2b2"/><rect x="1801.3" y="531.0" width="13.7" height="12.3" fill="#a0a0a0"/><rect x="1814.7" y="531.0" width="13.7" height="12.3" fill="#bebebe"/><rect x="1428.2" y="542.9" width="13.7" height="12.3" fill="#2e2e2e"/><rect x="1441.5" y="542.9" width="27.1" height="12.3" fill="#2d2d2d"/><rect x="1468.2" y="542.9" width="13.7" height="12.3" fill="#282828"/><rect x="1481.5" y="542.9" width="13.7" height="12.3" fill="#2e2e2e"/><rect x="1494.8" y="542.9" width="13.7" height="12.3" fill="#484848"/><rect x="1508.2" y="542.9" width="13.7" height="12.3" fill="#444444"/><rect x="1521.5" y="542.9" width="13.7" height="12.3" fill="#404040"/><rect x="1534.8" y="542.9" width="13.7" height="12.3" fill="#4c4c4c"/><rect x="1548.1" y="542.9" width="13.7" height="12.3" fill="#525252"/><rect x="1561.5" y="542.9" width="13.7" height="12.3" fill="#3c3c3c"/><rect x="1574.8" y="542.9" width="13.7" height="12.3" fill="#3e3e3e"/><rect x="1588.1" y="542.9" width="13.7" height="12.3" fill="#323232"/><rect x="1601.4" y="542.9" width="13.7" height="12.3" fill="#424242"/><rect x="1614.8" y="542.9" width="13.7" height="12.3" fill="#3c3c3c"/><rect x="1628.1" y="542.9" width="13.7" height="12.3" fill="#3e3e3e"/><rect x="1641.4" y="542.9" width="13.7" height="12.3" fill="#404040"/><rect x="1654.8" y="542.9" width="13.7" height="12.3" fill="#3c3c3c"/><rect x="1668.1" y="542.9" width="13.7" height="12.3" fill="#363636"/><rect x="1681.4" y="542.9" width="13.7" height="12.3" fill="#383838"/><rect x="1694.7" y="542.9" width="13.7" height="12.3" fill="#7d7d7d"/><rect x="1708.1" y="542.9" width="13.7" height="12.3" fill="#6c6c6c"/><rect x="1721.4" y="542.9" width="13.7" height="12.3" fill="#000000"/><rect x="1734.7" y="542.9" width="13.7" height="12.3" fill="#0a0a0a"/><rect x="1748.0" y="542.9" width="13.7" height="12.3" fill="#0c0c0c"/><rect x="1761.4" y="542.9" width="13.7" height="12.3" fill="#646464"/><rect x="1774.7" y="542.9" width="13.7" height="12.3" fill="#6c6c6c"/><rect x="1788.0" y="542.9" width="13.7" height="12.3" fill="#585858"/><rect x="1801.3" y="542.9" width="13.7" height="12.3" fill="#4a4a4a"/><rect x="1814.7" y="542.9" width="13.7" height="12.3" fill="#626262"/><rect x="1428.2" y="554.9" width="40.4" height="12.3" fill="#323232"/><rect x="1468.2" y="554.9" width="13.7" height="12.3" fill="#2c2c2c"/><rect x="1481.5" y="554.9" width="13.7" height="12.3" fill="#323232"/><rect x="1494.8" y="554.9" width="13.7" height="12.3" fill="#4c4c4c"/><rect x="1508.2" y="554.9" width="13.7" height="12.3" fill="#484848"/><rect x="1521.5" y="554.9" width="13.7" height="12.3" fill="#464646"/><rect x="1534.8" y="554.9" width="13.7" height="12.3" fill="#505050"/><rect x="1548.1" y="554.9" width="13.7" height="12.3" fill="#565656"/><rect x="1561.5" y="554.9" width="13.7" height="12.3" fill="#3e3e3e"/><rect x="1574.8" y="554.9" width="13.7" height="12.3" fill="#404040"/><rect x="1588.1" y="554.9" width="13.7" height="12.3" fill="#343434"/><rect x="1601.4" y="554.9" width="13.7" height="12.3" fill="#444444"/><rect x="1614.8" y="554.9" width="13.7" height="12.3" fill="#3e3e3e"/><rect x="1628.1" y="554.9" width="13.7" height="12.3" fill="#404040"/><rect x="1641.4" y="554.9" width="13.7" height="12.3" fill="#424242"/><rect x="1654.8" y="554.9" width="13.7" height="12.3" fill="#3e3e3e"/><rect x="1668.1" y="554.9" width="13.7" height="12.3" fill="#383838"/><rect x="1681.4" y="554.9" width="13.7" height="12.3" fill="#3a3a3a"/><rect x="1694.7" y="554.9" width="13.7" height="12.3" fill="#828282"/><rect x="1708.1" y="554.9" width="13.7" height="12.3" fill="#707070"/><rect x="1721.4" y="554.9" width="13.7" height="12.3" fill="#0a0a0a"/><rect x="1734.7" y="554.9" width="13.7" height="12.3" fill="#000000"/><rect x="1748.0" y="554.9" width="13.7" height="12.3" fill="#0a0a0a"/><rect x="1761.4" y="554.9" width="13.7" height="12.3" fill="#666666"/><rect x="1774.7" y="554.9" width="13.7" height="12.3" fill="#6e6e6e"/><rect x="1788.0" y="554.9" width="13.7" height="12.3" fill="#5a5a5a"/><rect x="1801.3" y="554.9" width="13.7" height="12.3" fill="#4c4c4c"/><rect x="1814.7" y="554.9" width="13.7" height="12.3" fill="#646464"/><rect x="1428.2" y="566.8" width="13.7" height="12.3" fill="#282828"/><rect x="1441.5" y="566.8" width="13.7" height="12.3" fill="#2a2a2a"/><rect x="1454.9" y="566.8" width="13.7" height="12.3" fill="#343434"/><rect x="1468.2" y="566.8" width="13.7" height="12.3" fill="#2a2a2a"/><rect x="1481.5" y="566.8" width="13.7" height="12.3" fill="#343434"/><rect x="1494.8" y="566.8" width="13.7" height="12.3" fill="#4c4c4c"/><rect x="1508.2" y="566.8" width="13.7" height="12.3" fill="#484848"/><rect x="1521.5" y="566.8" width="13.7" height="12.3" fill="#464646"/><rect x="1534.8" y="566.8" width="13.7" height="12.3" fill="#525252"/><rect x="1548.1" y="566.8" width="13.7" height="12.3" fill="#585858"/><rect x="1561.5" y="566.8" width="13.7" height="12.3" fill="#363636"/><rect x="1574.8" y="566.8" width="13.7" height="12.3" fill="#383838"/><rect x="1588.1" y="566.8" width="13.7" height="12.3" fill="#2e2e2e"/><rect x="1601.4" y="566.8" width="13.7" height="12.3" fill="#3c3c3c"/><rect x="1614.8" y="566.8" width="13.7" height="12.3" fill="#383838"/><rect x="1628.1" y="566.8" width="27.1" height="12.3" fill="#3a3a3a"/><rect x="1654.8" y="566.8" width="13.7" height="12.3" fill="#383838"/><rect x="1668.1" y="566.8" width="13.7" height="12.3" fill="#323232"/><rect x="1681.4" y="566.8" width="13.7" height="12.3" fill="#343434"/><rect x="1694.7" y="566.8" width="13.7" height="12.3" fill="#7a7a7a"/><rect x="1708.1" y="566.8" width="13.7" height="12.3" fill="#696969"/><rect x="1721.4" y="566.8" width="13.7" height="12.3" fill="#0c0c0c"/><rect x="1734.7" y="566.8" width="13.7" height="12.3" fill="#0a0a0a"/><rect x="1748.0" y="566.8" width="13.7" height="12.3" fill="#000000"/><rect x="1761.4" y="566.8" width="13.7" height="12.3" fill="#606060"/><rect x="1774.7" y="566.8" width="13.7" height="12.3" fill="#686868"/><rect x="1788.0" y="566.8" width="13.7" height="12.3" fill="#545454"/><rect x="1801.3" y="566.8" width="13.7" height="12.3" fill="#464646"/><rect x="1814.7" y="566.8" width="13.7" height="12.3" fill="#5e5e5e"/><rect x="1428.2" y="578.7" width="13.7" height="12.3" fill="#555555"/><rect x="1441.5" y="578.7" width="13.7" height="12.3" fill="#585858"/><rect x="1454.9" y="578.7" width="13.7" height="12.3" fill="#6c6c6c"/><rect x="1468.2" y="578.7" width="13.7" height="12.3" fill="#5c5c5c"/><rect x="1481.5" y="578.7" width="13.7" height="12.3" fill="#6c6c6c"/><rect x="1494.8" y="578.7" width="13.7" height="12.3" fill="#8a8a8a"/><rect x="1508.2" y="578.7" width="27.1" height="12.3" fill="#828282"/><rect x="1534.8" y="578.7" width="27.1" height="12.3" fill="#919191"/><rect x="1561.5" y="578.7" width="13.7" height="12.3" fill="#383838"/><rect x="1574.8" y="578.7" width="13.7" height="12.3" fill="#303030"/><rect x="1588.1" y="578.7" width="13.7" height="12.3" fill="#545454"/><rect x="1601.4" y="578.7" width="13.7" height="12.3" fill="#2e2e2e"/><rect x="1614.8" y="578.7" width="13.7" height="12.3" fill="#303030"/><rect x="1628.1" y="578.7" width="13.7" height="12.3" fill="#3e3e3e"/><rect x="1641.4" y="578.7" width="13.7" height="12.3" fill="#363636"/><rect x="1654.8" y="578.7" width="13.7" height="12.3" fill="#4a4a4a"/><rect x="1668.1" y="578.7" width="13.7" height="12.3" fill="#565656"/><rect x="1681.4" y="578.7" width="13.7" height="12.3" fill="#525252"/><rect x="1694.7" y="578.7" width="13.7" height="12.3" fill="#d2d2d2"/><rect x="1708.1" y="578.7" width="13.7" height="12.3" fill="#c3c3c3"/><rect x="1721.4" y="578.7" width="13.7" height="12.3" fill="#646464"/><rect x="1734.7" y="578.7" width="13.7" height="12.3" fill="#666666"/><rect x="1748.0" y="578.7" width="13.7" height="12.3" fill="#606060"/><rect x="1761.4" y="578.7" width="13.7" height="12.3" fill="#000000"/><rect x="1774.7" y="578.7" width="13.7" height="12.3" fill="#222222"/><rect x="1788.0" y="578.7" width="13.7" height="12.3" fill="#1e1e1e"/><rect x="1801.3" y="578.7" width="13.7" height="12.3" fill="#2a2a2a"/><rect x="1814.7" y="578.7" width="13.7" height="12.3" fill="#121212"/><rect x="1428.2" y="590.6" width="13.7" height="12.3" fill="#5c5c5c"/><rect x="1441.5" y="590.6" width="13.7" height="12.3" fill="#5f5f5f"/><rect x="1454.9" y="590.6" width="13.7" height="12.3" fill="#747474"/><rect x="1468.2" y="590.6" width="13.7" height="12.3" fill="#646464"/><rect x="1481.5" y="590.6" width="13.7" height="12.3" fill="#727272"/><rect x="1494.8" y="590.6" width="13.7" height="12.3" fill="#8c8c8c"/><rect x="1508.2" y="590.6" width="13.7" height="12.3" fill="#848484"/><rect x="1521.5" y="590.6" width="13.7" height="12.3" fill="#868686"/><rect x="1534.8" y="590.6" width="27.1" height="12.3" fill="#969696"/><rect x="1561.5" y="590.6" width="13.7" height="12.3" fill="#424242"/><rect x="1574.8" y="590.6" width="13.7" height="12.3" fill="#3a3a3a"/><rect x="1588.1" y="590.6" width="13.7" height="12.3" fill="#5e5e5e"/><rect x="1601.4" y="590.6" width="27.1" height="12.3" fill="#3c3c3c"/><rect x="1628.1" y="590.6" width="13.7" height="12.3" fill="#484848"/><rect x="1641.4" y="590.6" width="13.7" height="12.3" fill="#404040"/><rect x="1654.8" y="590.6" width="13.7" height="12.3" fill="#545454"/><rect x="1668.1" y="590.6" width="13.7" height="12.3" fill="#606060"/><rect x="1681.4" y="590.6" width="13.7" height="12.3" fill="#5c5c5c"/><rect x="1694.7" y="590.6" width="13.7" height="12.3" fill="#d7d7d7"/><rect x="1708.1" y="590.6" width="13.7" height="12.3" fill="#c8c8c8"/><rect x="1721.4" y="590.6" width="13.7" height="12.3" fill="#6c6c6c"/><rect x="1734.7" y="590.6" width="13.7" height="12.3" fill="#6e6e6e"/><rect x="1748.0" y="590.6" width="13.7" height="12.3" fill="#686868"/><rect x="1761.4" y="590.6" width="13.7" height="12.3" fill="#222222"/><rect x="1774.7" y="590.6" width="13.7" height="12.3" fill="#000000"/><rect x="1788.0" y="590.6" width="13.7" height="12.3" fill="#2c2c2c"/><rect x="1801.3" y="590.6" width="13.7" height="12.3" fill="#363636"/><rect x="1814.7" y="590.6" width="13.7" height="12.3" fill="#181818"/><rect x="1428.2" y="602.5" width="13.7" height="12.3" fill="#464646"/><rect x="1441.5" y="602.5" width="13.7" height="12.3" fill="#484848"/><rect x="1454.9" y="602.5" width="13.7" height="12.3" fill="#5c5c5c"/><rect x="1468.2" y="602.5" width="13.7" height="12.3" fill="#4e4e4e"/><rect x="1481.5" y="602.5" width="13.7" height="12.3" fill="#5a5a5a"/><rect x="1494.8" y="602.5" width="13.7" height="12.3" fill="#767676"/><rect x="1508.2" y="602.5" width="27.1" height="12.3" fill="#707070"/><rect x="1534.8" y="602.5" width="27.1" height="12.3" fill="#7c7c7c"/><rect x="1561.5" y="602.5" width="13.7" height="12.3" fill="#282828"/><rect x="1574.8" y="602.5" width="13.7" height="12.3" fill="#262626"/><rect x="1588.1" y="602.5" width="13.7" height="12.3" fill="#424242"/><rect x="1601.4" y="602.5" width="27.1" height="12.3" fill="#282828"/><rect x="1628.1" y="602.5" width="13.7" height="12.3" fill="#2e2e2e"/><rect x="1641.4" y="602.5" width="13.7" height="12.3" fill="#2a2a2a"/><rect x="1654.8" y="602.5" width="13.7" height="12.3" fill="#3a3a3a"/><rect x="1668.1" y="602.5" width="13.7" height="12.3" fill="#424242"/><rect x="1681.4" y="602.5" width="13.7" height="12.3" fill="#404040"/><rect x="1694.7" y="602.5" width="13.7" height="12.3" fill="#c3c3c3"/><rect x="1708.1" y="602.5" width="13.7" height="12.3" fill="#b2b2b2"/><rect x="1721.4" y="602.5" width="13.7" height="12.3" fill="#585858"/><rect x="1734.7" y="602.5" width="13.7" height="12.3" fill="#5a5a5a"/><rect x="1748.0" y="602.5" width="13.7" height="12.3" fill="#545454"/><rect x="1761.4" y="602.5" width="13.7" height="12.3" fill="#1e1e1e"/><rect x="1774.7" y="602.5" width="13.7" height="12.3" fill="#2c2c2c"/><rect x="1788.0" y="602.5" width="13.7" height="12.3" fill="#000000"/><rect x="1801.3" y="602.5" width="13.7" height="12.3" fill="#121212"/><rect x="1814.7" y="602.5" width="13.7" height="12.3" fill="#1e1e1e"/><rect x="1428.2" y="614.4" width="27.1" height="12.3" fill="#3c3c3c"/><rect x="1454.9" y="614.4" width="13.7" height="12.3" fill="#4c4c4c"/><rect x="1468.2" y="614.4" width="13.7" height="12.3" fill="#404040"/><rect x="1481.5" y="614.4" width="13.7" height="12.3" fill="#4c4c4c"/><rect x="1494.8" y="614.4" width="13.7" height="12.3" fill="#6c6c6c"/><rect x="1508.2" y="614.4" width="27.1" height="12.3" fill="#646464"/><rect x="1534.8" y="614.4" width="27.1" height="12.3" fill="#707070"/><rect x="1561.5" y="614.4" width="27.1" height="12.3" fill="#303030"/><rect x="1588.1" y="614.4" width="13.7" height="12.3" fill="#363636"/><rect x="1601.4" y="614.4" width="13.7" height="12.3" fill="#343434"/><rect x="1614.8" y="614.4" width="13.7" height="12.3" fill="#363636"/><rect x="1628.1" y="614.4" width="13.7" height="12.3" fill="#2c2c2c"/><rect x="1641.4" y="614.4" width="27.1" height="12.3" fill="#2e2e2e"/><rect x="1668.1" y="614.4" width="27.1" height="12.3" fill="#363636"/><rect x="1694.7" y="614.4" width="13.7" height="12.3" fill="#b2b2b2"/><rect x="1708.1" y="614.4" width="13.7" height="12.3" fill="#a0a0a0"/><rect x="1721.4" y="614.4" width="13.7" height="12.3" fill="#4a4a4a"/><rect x="1734.7" y="614.4" width="13.7" height="12.3" fill="#4c4c4c"/><rect x="1748.0" y="614.4" width="13.7" height="12.3" fill="#464646"/><rect x="1761.4" y="614.4" width="13.7" height="12.3" fill="#2a2a2a"/><rect x="1774.7" y="614.4" width="13.7" height="12.3" fill="#363636"/><rect x="1788.0" y="614.4" width="13.7" height="12.3" fill="#121212"/><rect x="1801.3" y="614.4" width="13.7" height="12.3" fill="#000000"/><rect x="1814.7" y="614.4" width="13.7" height="12.3" fill="#282828"/><rect x="1428.2" y="626.3" width="13.7" height="12.3" fill="#555555"/><rect x="1441.5" y="626.3" width="13.7" height="12.3" fill="#585858"/><rect x="1454.9" y="626.3" width="13.7" height="12.3" fill="#696969"/><rect x="1468.2" y="626.3" width="13.7" height="12.3" fill="#5c5c5c"/><rect x="1481.5" y="626.3" width="13.7" height="12.3" fill="#696969"/><rect x="1494.8" y="626.3" width="13.7" height="12.3" fill="#828282"/><rect x="1508.2" y="626.3" width="27.1" height="12.3" fill="#7a7a7a"/><rect x="1534.8" y="626.3" width="27.1" height="12.3" fill="#8a8a8a"/><rect x="1561.5" y="626.3" width="13.7" height="12.3" fill="#363636"/><rect x="1574.8" y="626.3" width="13.7" height="12.3" fill="#323232"/><rect x="1588.1" y="626.3" width="13.7" height="12.3" fill="#505050"/><rect x="1601.4" y="626.3" width="13.7" height="12.3" fill="#323232"/><rect x="1614.8" y="626.3" width="13.7" height="12.3" fill="#343434"/><rect x="1628.1" y="626.3" width="13.7" height="12.3" fill="#3c3c3c"/><rect x="1641.4" y="626.3" width="13.7" height="12.3" fill="#363636"/><rect x="1654.8" y="626.3" width="13.7" height="12.3" fill="#464646"/><rect x="1668.1" y="626.3" width="13.7" height="12.3" fill="#525252"/><rect x="1681.4" y="626.3" width="13.7" height="12.3" fill="#505050"/><rect x="1694.7" y="626.3" width="13.7" height="12.3" fill="#cdcdcd"/><rect x="1708.1" y="626.3" width="13.7" height="12.3" fill="#bebebe"/><rect x="1721.4" y="626.3" width="13.7" height="12.3" fill="#626262"/><rect x="1734.7" y="626.3" width="13.7" height="12.3" fill="#646464"/><rect x="1748.0" y="626.3" width="13.7" height="12.3" fill="#5e5e5e"/><rect x="1761.4" y="626.3" width="13.7" height="12.3" fill="#121212"/><rect x="1774.7" y="626.3" width="13.7" height="12.3" fill="#181818"/><rect x="1788.0" y="626.3" width="13.7" height="12.3" fill="#1e1e1e"/><rect x="1801.3" y="626.3" width="13.7" height="12.3" fill="#282828"/><rect x="1814.7" y="626.3" width="13.7" height="12.3" fill="#000000"/></g><path d="M1494.3 281.0V638.2M1428.2 340.7H1828.0M1562.5 281.0V638.2M1428.2 400.4H1828.0M1628.0 281.0V638.2M1428.2 459.8H1828.0M1696.2 281.0V638.2M1428.2 519.3H1828.0M1761.9 281.0V638.2M1428.2 578.7H1828.0" stroke="#f00" stroke-width="2.4" fill="none"/><rect x="1428.2" y="281.0" width="399.8" height="357.2" fill="none" stroke="#444" stroke-width="0.6"/><rect x="1840.2" y="281.0" width="21.6" height="357.2" fill="url(#ggray)" stroke="#3a3a3a" stroke-width="0.7"/><path d="M1861.8 459.6h-2.6" stroke="#333" stroke-width="0.6"/><g font-size="11.8" fill="#111"><text x="1870.4" y="288.0">100%</text><text x="1870.4" y="466.0">50%</text><text x="1870.4" y="644.0">0%</text><text transform="translate(1914.4 459.5) rotate(-90)" text-anchor="middle">Difference</text><g text-anchor="end"><text x="1422.4" y="317.4">Bark</text><text x="1422.4" y="377.2">Wood</text><text x="1422.4" y="436.5">Granite</text><text x="1422.4" y="495.9">Marble</text><text x="1422.4" y="558.7">Upholstery</text><text x="1422.4" y="611.1">Corduroy</text></g><g text-anchor="middle"><text x="1461.6" y="656.5">Bark</text><text x="1527.0" y="656.9">Wood</text><text x="1595.4" y="657.5">Granite</text><text x="1663.4" y="657.1">Marble</text><text x="1729.3" y="657.1">Upholstery</text><text x="1795.5" y="657.1">Corduroy</text></g></g></svg></body></html>
